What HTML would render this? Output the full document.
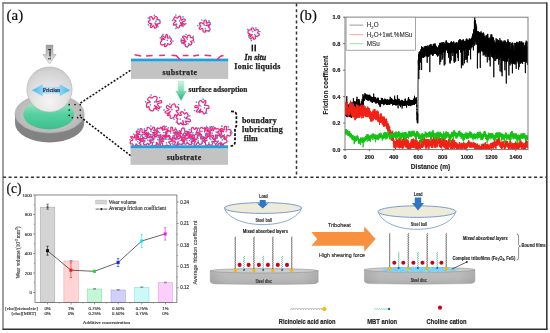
<!DOCTYPE html>
<html><head><meta charset="utf-8"><style>html,body{margin:0;padding:0;background:#fff;}svg{display:block;filter:blur(0.3px);}</style></head><body><svg width="550" height="333" viewBox="0 0 550 333"><rect x="0" y="0" width="550" height="333" fill="#fff"/>
<line x1="2.5" y1="3" x2="547" y2="3" stroke="#6a6a6a" stroke-width="1.3"/>
<line x1="3" y1="2.5" x2="3" y2="329.5" stroke="#777" stroke-width="1.4"/>
<line x1="546.8" y1="2.5" x2="546.8" y2="330" stroke="#3a3a3a" stroke-width="1.6"/>
<line x1="2.5" y1="329.2" x2="547.5" y2="329.2" stroke="#333" stroke-width="1.6"/>
<line x1="296.5" y1="3.6" x2="296.5" y2="175.5" stroke="#333" stroke-width="1.5" stroke-dasharray="3 2.6"/>
<line x1="3.0" y1="177.3" x2="546" y2="177.3" stroke="#333" stroke-width="1.5" stroke-dasharray="3 2.59"/>
<text x="6.6" y="19.6" font-family="'Liberation Serif', serif" font-size="15" font-weight="normal" fill="#111" text-anchor="start" font-style="normal" stroke="#111" stroke-width="0.2" textLength="16.6" lengthAdjust="spacingAndGlyphs" >(a)</text>
<path d="M155.0,23.0C154.9,23.3 156.7,26.0 156.7,26.9C156.6,27.7 155.3,28.3 154.8,28.1C154.2,27.9 154.0,25.7 153.5,25.7C152.9,25.6 152.0,27.6 151.4,27.7C150.9,27.8 150.1,27.0 150.2,26.4C150.3,25.8 152.1,24.5 151.9,24.0C151.8,23.5 150.1,24.0 149.5,23.5C148.9,23.0 148.4,21.8 148.4,21.3C148.5,20.7 149.7,20.9 149.9,20.2C150.1,19.5 149.5,17.8 149.8,17.2C150.1,16.7 151.1,16.5 151.7,16.9C152.3,17.2 152.7,19.6 153.4,19.5C154.0,19.5 154.8,16.8 155.5,16.5C156.2,16.3 157.3,17.6 157.5,18.1C157.7,18.5 156.5,19.0 156.8,19.3C157.0,19.6 158.6,19.5 159.2,20.1C159.7,20.7 160.4,22.4 160.1,23.0C159.8,23.7 158.0,23.6 157.5,24.0C157.1,24.4 157.9,25.6 157.4,25.4C157.0,25.2 155.2,22.8 155.0,23.0Z" fill="none" stroke="#f0287c" stroke-width="1.3" stroke-linejoin="round"/><circle cx="158.0" cy="26.7" r="0.85" fill="#22a8ea"/><circle cx="148.3" cy="24.8" r="0.85" fill="#22a8ea"/><circle cx="159.8" cy="20.1" r="0.85" fill="#22a8ea"/><circle cx="148.3" cy="18.1" r="0.85" fill="#22a8ea"/><circle cx="154.3" cy="15.3" r="0.85" fill="#22a8ea"/><circle cx="156.0" cy="21.2" r="0.85" fill="#22a8ea"/>
<path d="M180.5,22.7C180.7,22.6 182.2,24.9 182.9,25.1C183.7,25.4 185.1,24.8 185.0,24.4C184.8,23.9 181.8,23.0 181.9,22.3C181.9,21.7 184.8,21.1 185.2,20.6C185.5,20.0 184.5,18.9 183.8,18.9C183.1,18.8 181.4,20.5 180.9,20.2C180.4,19.9 181.0,17.7 180.7,17.0C180.4,16.3 179.5,16.1 178.9,16.3C178.4,16.5 178.0,18.0 177.4,18.1C176.7,18.2 175.5,16.6 174.9,16.8C174.3,17.1 173.6,18.9 173.8,19.6C174.0,20.3 176.0,20.6 176.0,21.1C176.0,21.7 174.4,22.2 174.0,22.9C173.6,23.5 173.3,25.0 173.6,25.2C173.9,25.5 175.1,24.1 175.6,24.3C176.1,24.6 176.1,26.4 176.6,26.9C177.2,27.5 178.3,28.0 178.9,27.8C179.4,27.5 179.4,25.8 179.9,25.4C180.4,25.1 181.8,26.2 181.9,25.7C181.9,25.3 180.3,22.8 180.5,22.7Z" fill="none" stroke="#f0287c" stroke-width="1.3" stroke-linejoin="round"/><circle cx="183.0" cy="26.5" r="0.85" fill="#22a8ea"/><circle cx="183.0" cy="16.9" r="0.85" fill="#22a8ea"/><circle cx="175.9" cy="28.4" r="0.85" fill="#22a8ea"/><circle cx="175.8" cy="15.0" r="0.85" fill="#22a8ea"/><circle cx="172.5" cy="20.4" r="0.85" fill="#22a8ea"/><circle cx="185.9" cy="23.5" r="0.85" fill="#22a8ea"/><circle cx="179.4" cy="20.9" r="0.85" fill="#22a8ea"/><circle cx="176.7" cy="24.2" r="0.85" fill="#22a8ea"/>
<path d="M205.9,25.6C206.0,25.4 209.4,24.8 210.0,24.1C210.6,23.5 210.0,22.1 209.4,21.9C208.8,21.7 206.9,23.4 206.4,23.2C205.9,22.9 206.7,20.9 206.3,20.5C206.0,20.0 204.7,19.9 204.3,20.5C203.9,21.0 204.1,23.5 203.7,23.8C203.3,24.2 202.5,22.8 201.8,22.8C201.0,22.7 199.6,23.0 199.4,23.7C199.3,24.3 200.8,25.9 200.7,26.5C200.7,27.2 199.3,27.0 199.2,27.5C199.0,28.0 199.5,29.1 200.1,29.3C200.7,29.4 202.2,28.2 202.7,28.6C203.2,29.0 202.7,31.1 203.2,31.7C203.6,32.2 205.2,32.0 205.6,31.8C206.0,31.6 205.0,30.5 205.4,30.4C205.9,30.3 207.7,31.2 208.5,31.0C209.3,30.8 210.1,29.9 210.1,29.2C210.1,28.5 208.7,27.5 208.6,26.8C208.5,26.2 210.0,25.6 209.5,25.4C209.1,25.2 205.8,25.8 205.9,25.6Z" fill="none" stroke="#f0287c" stroke-width="1.3" stroke-linejoin="round"/><circle cx="210.5" cy="24.2" r="0.85" fill="#22a8ea"/><circle cx="201.9" cy="20.0" r="0.85" fill="#22a8ea"/><circle cx="209.0" cy="31.5" r="0.85" fill="#22a8ea"/><circle cx="197.7" cy="25.6" r="0.85" fill="#22a8ea"/><circle cx="209.0" cy="20.8" r="0.85" fill="#22a8ea"/><circle cx="204.3" cy="24.9" r="0.85" fill="#22a8ea"/><circle cx="205.3" cy="28.6" r="0.85" fill="#22a8ea"/>
<path d="M165.0,39.4C165.0,39.1 162.1,38.2 161.7,37.5C161.3,36.9 162.0,35.5 162.6,35.6C163.2,35.6 164.7,37.9 165.3,37.8C165.8,37.6 165.6,35.0 166.0,34.6C166.3,34.2 167.3,34.8 167.6,35.3C167.8,35.9 167.0,37.5 167.5,38.0C168.0,38.4 169.7,37.6 170.3,37.9C170.9,38.2 171.3,39.0 171.4,39.6C171.4,40.2 170.5,41.0 170.6,41.5C170.6,42.0 171.7,42.2 171.6,42.7C171.4,43.2 170.3,44.5 169.7,44.6C169.0,44.7 168.2,43.4 167.7,43.6C167.2,43.8 167.3,45.3 166.7,45.8C166.2,46.3 164.9,46.7 164.5,46.5C164.2,46.2 165.2,44.5 164.7,44.3C164.3,44.1 162.4,45.3 161.7,45.0C161.0,44.7 160.4,43.3 160.4,42.6C160.4,41.9 161.8,41.3 161.9,40.7C162.1,40.2 160.9,39.5 161.4,39.2C161.9,39.0 164.9,39.7 165.0,39.4Z" fill="none" stroke="#f0287c" stroke-width="1.3" stroke-linejoin="round"/><circle cx="160.3" cy="37.8" r="0.85" fill="#22a8ea"/><circle cx="169.6" cy="36.4" r="0.85" fill="#22a8ea"/><circle cx="173.0" cy="41.1" r="0.85" fill="#22a8ea"/><circle cx="163.0" cy="34.4" r="0.85" fill="#22a8ea"/><circle cx="167.2" cy="40.3" r="0.85" fill="#22a8ea"/><circle cx="165.0" cy="43.5" r="0.85" fill="#22a8ea"/>
<path d="M186.0,41.1C185.8,40.9 183.0,42.6 182.2,42.4C181.4,42.3 180.7,40.7 181.2,40.3C181.7,39.9 184.8,40.8 185.0,40.2C185.3,39.7 182.7,37.6 182.6,36.9C182.6,36.2 184.0,35.9 184.7,36.1C185.4,36.3 186.4,38.0 186.9,38.0C187.4,38.0 187.2,36.4 187.7,36.0C188.2,35.5 189.4,35.0 189.9,35.3C190.4,35.6 190.0,37.3 190.5,37.6C191.0,38.0 192.3,37.1 192.8,37.5C193.2,38.0 193.7,39.7 193.4,40.4C193.0,41.0 191.0,41.1 190.7,41.5C190.5,41.9 192.0,42.3 192.0,42.9C191.9,43.5 191.0,45.0 190.5,45.2C190.1,45.4 189.8,44.1 189.3,44.3C188.8,44.6 188.2,46.4 187.5,46.6C186.8,46.9 185.5,46.2 185.2,45.8C184.8,45.4 185.6,44.7 185.3,44.3C185.0,43.9 183.3,44.0 183.5,43.5C183.6,43.0 186.2,41.3 186.0,41.1Z" fill="none" stroke="#f0287c" stroke-width="1.3" stroke-linejoin="round"/><circle cx="182.1" cy="43.5" r="0.85" fill="#22a8ea"/><circle cx="186.0" cy="34.5" r="0.85" fill="#22a8ea"/><circle cx="187.5" cy="46.7" r="0.85" fill="#22a8ea"/><circle cx="193.3" cy="36.3" r="0.85" fill="#22a8ea"/><circle cx="194.1" cy="42.0" r="0.85" fill="#22a8ea"/><circle cx="181.3" cy="39.1" r="0.85" fill="#22a8ea"/><circle cx="187.3" cy="39.1" r="0.85" fill="#22a8ea"/><circle cx="188.6" cy="43.6" r="0.85" fill="#22a8ea"/>
<path d="M252.2,34.6C252.4,34.9 250.2,36.4 250.0,37.1C249.7,37.8 250.1,39.0 250.6,38.9C251.1,38.9 252.4,36.9 252.9,36.9C253.3,37.0 253.1,38.9 253.5,39.1C253.9,39.4 255.1,39.1 255.4,38.5C255.7,37.9 255.0,36.1 255.3,35.7C255.6,35.4 256.4,36.6 257.1,36.3C257.8,36.1 259.4,34.9 259.5,34.4C259.6,33.8 257.9,33.7 257.7,33.0C257.5,32.4 258.6,31.1 258.5,30.5C258.3,29.9 257.6,29.3 257.0,29.3C256.3,29.3 255.0,30.7 254.5,30.5C253.9,30.3 254.0,28.5 253.5,28.2C253.0,27.8 251.7,28.1 251.3,28.4C251.0,28.6 251.8,29.5 251.4,29.8C251.0,30.1 249.3,29.7 248.8,30.3C248.2,30.8 247.9,32.3 248.1,32.9C248.2,33.5 249.7,33.6 249.9,34.0C250.0,34.4 248.4,35.3 248.8,35.4C249.1,35.5 252.0,34.3 252.2,34.6Z" fill="none" stroke="#f0287c" stroke-width="1.3" stroke-linejoin="round"/><circle cx="248.8" cy="36.8" r="0.85" fill="#22a8ea"/><circle cx="247.8" cy="29.4" r="0.85" fill="#22a8ea"/><circle cx="259.8" cy="31.5" r="0.85" fill="#22a8ea"/><circle cx="255.9" cy="27.9" r="0.85" fill="#22a8ea"/><circle cx="251.3" cy="40.4" r="0.85" fill="#22a8ea"/><circle cx="254.7" cy="34.5" r="0.85" fill="#22a8ea"/><circle cx="252.5" cy="31.4" r="0.85" fill="#22a8ea"/>
<path d="M154.6,105.4C154.9,105.3 158.0,108.3 158.8,108.6C159.6,109.0 159.9,108.2 159.6,107.4C159.4,106.7 157.2,104.8 157.5,104.0C157.8,103.2 160.9,103.2 161.4,102.6C162.0,102.0 161.7,100.8 160.8,100.7C159.9,100.6 156.5,102.5 155.9,102.0C155.3,101.5 157.5,98.8 157.2,97.8C156.9,96.9 155.3,96.3 154.4,96.4C153.5,96.5 152.6,98.1 151.9,98.2C151.1,98.3 150.4,96.8 149.7,97.0C149.0,97.2 147.6,98.5 147.7,99.4C147.7,100.3 150.4,101.6 150.3,102.2C150.2,102.8 147.7,102.2 147.1,103.0C146.5,103.8 146.4,106.5 146.7,107.1C147.0,107.8 148.6,106.3 149.0,106.7C149.4,107.1 148.7,108.8 149.4,109.5C150.0,110.1 152.2,111.0 153.0,110.8C153.8,110.6 153.7,108.6 154.4,108.4C155.0,108.1 156.9,109.8 157.0,109.4C157.0,108.9 154.3,105.6 154.6,105.4Z" fill="none" stroke="#f0287c" stroke-width="1.3" stroke-linejoin="round"/><circle cx="158.2" cy="110.6" r="0.85" fill="#22a8ea"/><circle cx="159.6" cy="97.5" r="0.85" fill="#22a8ea"/><circle cx="151.1" cy="95.0" r="0.85" fill="#22a8ea"/><circle cx="145.6" cy="101.7" r="0.85" fill="#22a8ea"/><circle cx="161.0" cy="106.8" r="0.85" fill="#22a8ea"/><circle cx="154.7" cy="101.8" r="0.85" fill="#22a8ea"/><circle cx="150.4" cy="104.8" r="0.85" fill="#22a8ea"/>
<path d="M170.5,111.5C170.5,111.2 168.2,113.5 167.3,113.5C166.3,113.5 164.7,112.3 165.0,111.7C165.3,111.1 169.0,110.4 169.3,109.8C169.5,109.2 166.7,108.8 166.4,108.1C166.1,107.3 166.8,105.3 167.5,105.3C168.3,105.3 170.4,108.0 171.0,108.0C171.7,108.0 170.8,106.2 171.4,105.6C172.0,104.9 173.9,103.7 174.6,104.0C175.4,104.2 175.2,106.6 175.8,107.1C176.3,107.6 177.3,106.4 177.8,106.8C178.3,107.3 178.9,109.3 178.7,110.0C178.4,110.6 176.2,110.2 176.1,110.7C176.0,111.3 178.0,112.5 178.1,113.3C178.3,114.2 177.4,115.5 177.0,115.7C176.5,115.9 175.8,114.4 175.2,114.7C174.6,115.0 174.4,117.1 173.6,117.6C172.8,118.2 170.9,118.5 170.3,118.0C169.7,117.6 170.6,115.4 170.1,115.0C169.6,114.5 167.3,115.9 167.4,115.4C167.4,114.8 170.6,111.8 170.5,111.5Z" fill="none" stroke="#f0287c" stroke-width="1.3" stroke-linejoin="round"/><circle cx="169.7" cy="104.0" r="0.85" fill="#22a8ea"/><circle cx="174.0" cy="119.1" r="0.85" fill="#22a8ea"/><circle cx="178.5" cy="104.5" r="0.85" fill="#22a8ea"/><circle cx="180.2" cy="112.5" r="0.85" fill="#22a8ea"/><circle cx="164.0" cy="109.9" r="0.85" fill="#22a8ea"/><circle cx="172.0" cy="109.7" r="0.85" fill="#22a8ea"/>
<path d="M182.8,120.5C182.9,120.4 183.4,123.7 184.0,124.3C184.7,124.9 186.5,124.5 186.7,124.0C186.9,123.5 184.8,121.6 185.3,121.2C185.8,120.9 189.1,122.1 189.9,121.8C190.6,121.4 190.7,120.0 190.0,119.4C189.4,118.8 186.0,118.9 185.7,118.3C185.4,117.8 188.1,117.0 188.2,116.0C188.3,115.1 187.0,113.0 186.4,112.7C185.8,112.3 185.2,114.1 184.5,114.0C183.9,113.8 183.1,111.9 182.4,111.7C181.8,111.5 180.7,112.0 180.5,112.7C180.3,113.3 181.6,115.1 181.2,115.4C180.7,115.8 178.5,114.4 177.7,114.8C176.9,115.2 176.2,117.1 176.2,117.7C176.2,118.4 177.6,118.4 177.8,118.9C177.9,119.5 176.8,120.2 177.0,121.1C177.2,122.0 178.3,124.1 178.9,124.4C179.6,124.7 180.0,122.9 180.7,123.0C181.4,123.1 182.9,125.2 183.2,124.8C183.6,124.4 182.7,120.6 182.8,120.5Z" fill="none" stroke="#f0287c" stroke-width="1.3" stroke-linejoin="round"/><circle cx="189.8" cy="115.8" r="0.85" fill="#22a8ea"/><circle cx="176.3" cy="122.3" r="0.85" fill="#22a8ea"/><circle cx="184.7" cy="109.8" r="0.85" fill="#22a8ea"/><circle cx="188.0" cy="123.8" r="0.85" fill="#22a8ea"/><circle cx="184.6" cy="117.4" r="0.85" fill="#22a8ea"/><circle cx="180.2" cy="119.1" r="0.85" fill="#22a8ea"/>
<path d="M200.9,109.0C200.7,108.9 199.5,111.3 198.8,111.7C198.0,112.2 196.4,112.2 196.3,111.5C196.3,110.9 198.8,108.7 198.6,108.0C198.4,107.3 195.5,108.0 195.0,107.6C194.5,107.2 194.9,105.9 195.6,105.7C196.3,105.4 198.6,106.5 199.1,105.9C199.7,105.4 198.4,103.5 198.7,102.6C199.0,101.6 200.1,100.3 200.8,100.3C201.5,100.3 202.2,102.5 202.9,102.6C203.6,102.6 204.6,100.4 205.1,100.4C205.6,100.4 206.0,101.7 205.9,102.5C205.7,103.3 204.1,104.5 204.5,105.0C204.9,105.5 207.6,105.1 208.4,105.7C209.1,106.2 209.1,107.8 208.8,108.3C208.5,108.8 207.0,108.1 206.5,108.7C206.1,109.3 206.5,111.2 206.1,112.0C205.7,112.9 204.7,114.0 204.1,113.9C203.4,113.8 202.9,111.6 202.1,111.3C201.4,111.1 199.8,113.0 199.6,112.6C199.4,112.2 201.0,109.1 200.9,109.0Z" fill="none" stroke="#f0287c" stroke-width="1.3" stroke-linejoin="round"/><circle cx="196.5" cy="102.2" r="0.85" fill="#22a8ea"/><circle cx="206.6" cy="113.1" r="0.85" fill="#22a8ea"/><circle cx="203.1" cy="99.2" r="0.85" fill="#22a8ea"/><circle cx="194.6" cy="110.5" r="0.85" fill="#22a8ea"/><circle cx="200.7" cy="106.0" r="0.85" fill="#22a8ea"/><circle cx="204.5" cy="107.8" r="0.85" fill="#22a8ea"/>
<path d="M136.0,139.7C135.9,139.7 137.6,136.9 137.4,136.1C137.3,135.3 135.5,134.6 135.0,134.9C134.4,135.3 134.7,137.8 134.2,138.0C133.6,138.2 132.5,136.5 131.9,136.4C131.3,136.3 130.5,136.6 130.7,137.2C130.8,137.8 132.9,139.4 132.9,140.0C133.0,140.7 131.3,140.4 130.9,141.0C130.5,141.6 130.1,143.1 130.4,143.6C130.7,144.2 132.2,143.6 132.7,144.0C133.2,144.5 132.9,145.7 133.4,146.2C133.8,146.6 134.9,147.2 135.3,146.9C135.7,146.5 135.6,144.1 136.1,143.9C136.5,143.8 137.4,146.1 138.2,146.2C139.0,146.3 140.8,144.8 141.0,144.3C141.1,143.8 139.0,143.7 139.2,143.1C139.3,142.6 141.3,141.7 141.7,141.0C142.0,140.3 141.8,139.3 141.4,138.9C140.9,138.5 139.3,139.0 138.7,138.5C138.2,138.1 138.8,135.9 138.3,136.1C137.9,136.3 136.2,139.8 136.0,139.7Z" fill="none" stroke="#f0287c" stroke-width="1.3" stroke-linejoin="round"/><circle cx="138.4" cy="134.6" r="0.85" fill="#22a8ea"/><circle cx="130.0" cy="139.8" r="0.85" fill="#22a8ea"/><circle cx="142.5" cy="141.2" r="0.85" fill="#22a8ea"/><circle cx="137.1" cy="146.9" r="0.85" fill="#22a8ea"/><circle cx="133.6" cy="134.0" r="0.85" fill="#22a8ea"/><circle cx="137.8" cy="141.5" r="0.85" fill="#22a8ea"/>
<path d="M147.3,137.7C147.6,137.8 148.2,134.6 148.8,134.1C149.3,133.6 150.5,134.2 150.7,134.7C150.8,135.3 149.4,137.2 149.6,137.6C149.9,138.0 151.8,136.6 152.3,136.9C152.8,137.3 153.2,139.0 152.6,139.6C152.1,140.1 149.3,139.7 149.0,140.2C148.7,140.6 150.9,141.5 150.8,142.2C150.8,143.0 149.4,144.3 148.9,144.5C148.3,144.7 148.0,143.4 147.5,143.4C147.0,143.5 146.4,144.8 145.8,144.9C145.1,144.9 143.7,144.4 143.5,143.7C143.3,143.0 144.9,141.0 144.5,140.5C144.2,140.1 142.2,141.3 141.5,141.1C140.8,140.8 140.0,139.4 140.2,138.9C140.5,138.5 142.7,139.0 143.0,138.4C143.2,137.7 141.6,135.8 141.8,135.1C142.0,134.3 143.5,133.9 144.0,133.8C144.6,133.8 144.6,134.9 145.2,134.8C145.8,134.8 147.2,133.3 147.5,133.8C147.9,134.2 147.1,137.6 147.3,137.7Z" fill="none" stroke="#f0287c" stroke-width="1.3" stroke-linejoin="round"/><circle cx="148.2" cy="132.3" r="0.85" fill="#22a8ea"/><circle cx="151.9" cy="142.0" r="0.85" fill="#22a8ea"/><circle cx="141.1" cy="135.2" r="0.85" fill="#22a8ea"/><circle cx="146.6" cy="146.5" r="0.85" fill="#22a8ea"/><circle cx="152.1" cy="134.7" r="0.85" fill="#22a8ea"/><circle cx="147.4" cy="140.0" r="0.85" fill="#22a8ea"/><circle cx="143.7" cy="138.1" r="0.85" fill="#22a8ea"/>
<path d="M156.4,142.4C156.8,142.3 158.8,144.9 159.5,145.3C160.2,145.7 160.6,145.4 160.6,144.9C160.5,144.3 158.9,142.5 159.1,142.0C159.3,141.4 161.5,141.9 161.9,141.5C162.3,141.0 162.0,139.7 161.5,139.4C161.0,139.2 159.2,140.5 158.9,140.2C158.6,139.9 159.8,138.5 159.6,137.6C159.4,136.7 158.2,134.9 157.6,134.8C157.1,134.7 156.7,137.0 156.1,137.0C155.5,137.1 154.8,134.9 154.1,134.9C153.5,135.0 152.3,136.5 152.2,137.3C152.2,138.1 154.1,139.2 153.9,139.7C153.7,140.2 151.6,139.9 151.0,140.3C150.4,140.8 150.3,141.8 150.5,142.2C150.7,142.6 151.9,142.2 152.3,142.7C152.6,143.2 152.1,144.4 152.3,145.1C152.6,145.8 153.4,146.9 153.9,146.9C154.4,146.9 154.7,145.2 155.3,145.0C155.8,144.8 157.0,146.2 157.2,145.7C157.3,145.3 156.0,142.5 156.4,142.4Z" fill="none" stroke="#f0287c" stroke-width="1.3" stroke-linejoin="round"/><circle cx="158.9" cy="147.3" r="0.85" fill="#22a8ea"/><circle cx="151.7" cy="145.8" r="0.85" fill="#22a8ea"/><circle cx="154.8" cy="134.2" r="0.85" fill="#22a8ea"/><circle cx="150.9" cy="137.6" r="0.85" fill="#22a8ea"/><circle cx="157.7" cy="139.4" r="0.85" fill="#22a8ea"/><circle cx="153.7" cy="142.1" r="0.85" fill="#22a8ea"/>
<path d="M164.1,141.0C164.0,140.8 161.4,141.6 160.7,141.3C160.1,140.9 159.7,139.3 160.2,138.9C160.7,138.6 163.5,139.6 163.7,139.2C164.0,138.8 161.7,137.3 161.8,136.6C161.9,135.9 163.6,134.9 164.1,135.2C164.7,135.5 164.8,138.2 165.2,138.3C165.7,138.5 166.1,136.4 166.9,136.0C167.7,135.6 169.5,135.6 169.9,136.0C170.4,136.4 169.2,137.9 169.5,138.3C169.8,138.8 171.4,138.4 171.7,138.8C172.1,139.3 172.2,140.7 171.6,141.2C171.1,141.8 168.8,141.5 168.6,142.0C168.4,142.6 170.5,143.8 170.5,144.4C170.5,145.1 169.3,146.1 168.7,146.1C168.1,146.2 167.3,144.7 166.7,144.8C166.1,144.8 165.7,146.1 165.0,146.3C164.4,146.5 163.3,146.3 162.8,145.8C162.4,145.3 162.7,144.1 162.4,143.5C162.1,143.0 160.6,143.0 160.9,142.6C161.1,142.2 164.1,141.2 164.1,141.0Z" fill="none" stroke="#f0287c" stroke-width="1.3" stroke-linejoin="round"/><circle cx="160.0" cy="141.6" r="0.85" fill="#22a8ea"/><circle cx="166.0" cy="134.6" r="0.85" fill="#22a8ea"/><circle cx="164.5" cy="147.8" r="0.85" fill="#22a8ea"/><circle cx="172.8" cy="137.2" r="0.85" fill="#22a8ea"/><circle cx="172.2" cy="143.6" r="0.85" fill="#22a8ea"/><circle cx="160.3" cy="138.1" r="0.85" fill="#22a8ea"/><circle cx="166.1" cy="139.2" r="0.85" fill="#22a8ea"/><circle cx="166.5" cy="142.8" r="0.85" fill="#22a8ea"/>
<path d="M178.1,141.5C177.9,141.5 177.1,144.7 176.5,145.2C176.0,145.7 174.8,145.1 174.6,144.5C174.4,143.9 175.8,142.2 175.5,141.8C175.2,141.3 173.2,142.1 172.7,141.9C172.1,141.7 171.7,140.9 172.2,140.5C172.6,140.2 175.2,140.2 175.5,139.6C175.8,139.0 174.0,138.0 173.9,137.2C173.9,136.3 174.6,134.8 175.1,134.5C175.6,134.2 176.5,135.4 177.0,135.3C177.5,135.1 177.6,133.4 178.2,133.4C178.8,133.4 180.2,134.5 180.4,135.1C180.7,135.8 179.3,137.0 179.7,137.3C180.1,137.6 182.3,136.6 183.0,136.9C183.8,137.3 184.4,138.7 184.3,139.2C184.1,139.7 182.3,139.4 182.1,140.0C181.9,140.5 183.3,141.5 183.2,142.3C183.2,143.0 182.5,144.3 181.9,144.6C181.3,144.8 180.4,143.7 179.7,143.8C179.0,143.9 178.2,145.5 177.9,145.1C177.7,144.7 178.3,141.5 178.1,141.5Z" fill="none" stroke="#f0287c" stroke-width="1.3" stroke-linejoin="round"/><circle cx="177.4" cy="145.4" r="0.85" fill="#22a8ea"/><circle cx="172.1" cy="138.3" r="0.85" fill="#22a8ea"/><circle cx="184.0" cy="142.9" r="0.85" fill="#22a8ea"/><circle cx="177.3" cy="132.8" r="0.85" fill="#22a8ea"/><circle cx="183.1" cy="135.0" r="0.85" fill="#22a8ea"/><circle cx="173.3" cy="144.4" r="0.85" fill="#22a8ea"/><circle cx="176.8" cy="139.5" r="0.85" fill="#22a8ea"/>
<path d="M188.8,137.8C188.5,137.5 189.7,134.9 189.7,134.1C189.7,133.2 189.2,132.6 188.8,132.9C188.4,133.1 188.0,135.6 187.4,135.6C186.8,135.7 185.8,133.4 185.1,133.2C184.3,133.0 183.0,133.8 183.1,134.4C183.2,135.1 185.7,136.4 185.6,137.0C185.5,137.6 183.2,137.4 182.6,138.0C182.0,138.7 181.6,140.2 181.9,140.7C182.2,141.3 184.1,140.8 184.4,141.2C184.7,141.7 183.4,143.0 183.7,143.5C184.0,143.9 185.8,144.1 186.4,143.9C187.0,143.6 186.8,142.0 187.2,142.0C187.5,142.1 188.0,143.8 188.8,144.1C189.5,144.4 191.4,144.4 191.8,144.0C192.1,143.6 190.9,142.0 191.1,141.5C191.3,141.0 192.5,141.7 192.8,141.1C193.1,140.5 193.4,138.5 193.1,137.9C192.8,137.3 191.2,137.8 190.9,137.4C190.6,137.0 191.6,135.5 191.3,135.6C190.9,135.7 189.1,138.1 188.8,137.8Z" fill="none" stroke="#f0287c" stroke-width="1.3" stroke-linejoin="round"/><circle cx="191.9" cy="134.4" r="0.85" fill="#22a8ea"/><circle cx="181.7" cy="136.7" r="0.85" fill="#22a8ea"/><circle cx="194.3" cy="140.8" r="0.85" fill="#22a8ea"/><circle cx="182.1" cy="143.6" r="0.85" fill="#22a8ea"/><circle cx="187.3" cy="132.2" r="0.85" fill="#22a8ea"/><circle cx="186.2" cy="139.0" r="0.85" fill="#22a8ea"/><circle cx="189.4" cy="140.5" r="0.85" fill="#22a8ea"/>
<path d="M196.7,139.4C196.6,139.6 192.9,139.7 192.3,140.0C191.6,140.4 192.1,141.2 192.6,141.3C193.2,141.5 195.3,140.5 195.6,141.0C195.8,141.6 194.0,143.8 194.0,144.4C194.0,145.1 194.9,145.6 195.6,145.2C196.3,144.8 197.5,142.4 198.1,142.2C198.7,142.1 198.6,144.0 199.3,144.2C199.9,144.4 201.7,143.8 202.2,143.3C202.7,142.8 201.8,141.6 202.1,141.2C202.4,140.8 203.6,141.3 203.9,140.8C204.2,140.4 204.3,138.6 203.7,138.3C203.2,138.0 200.9,139.4 200.6,138.9C200.3,138.4 201.9,136.3 201.7,135.4C201.6,134.6 200.2,133.7 199.6,133.7C199.0,133.7 198.6,135.5 198.1,135.6C197.5,135.6 197.1,133.8 196.5,133.8C195.9,133.8 194.7,134.9 194.4,135.5C194.0,136.0 194.6,136.6 194.3,137.2C194.0,137.7 192.4,138.3 192.8,138.6C193.2,139.0 196.8,139.2 196.7,139.4Z" fill="none" stroke="#f0287c" stroke-width="1.3" stroke-linejoin="round"/><circle cx="191.6" cy="138.9" r="0.85" fill="#22a8ea"/><circle cx="198.4" cy="145.6" r="0.85" fill="#22a8ea"/><circle cx="196.0" cy="132.9" r="0.85" fill="#22a8ea"/><circle cx="204.7" cy="142.2" r="0.85" fill="#22a8ea"/><circle cx="203.8" cy="136.5" r="0.85" fill="#22a8ea"/><circle cx="192.7" cy="143.1" r="0.85" fill="#22a8ea"/><circle cx="198.2" cy="140.9" r="0.85" fill="#22a8ea"/><circle cx="197.7" cy="136.9" r="0.85" fill="#22a8ea"/>
<path d="M207.2,140.2C207.0,139.9 203.7,140.0 203.1,139.6C202.5,139.2 203.1,138.2 203.7,138.0C204.2,137.8 206.3,138.7 206.6,138.2C207.0,137.7 205.5,135.7 205.6,135.0C205.6,134.3 206.5,133.8 207.0,134.1C207.5,134.4 208.2,136.5 208.7,136.7C209.3,136.9 209.5,135.4 210.4,135.3C211.2,135.2 213.2,135.4 213.6,135.9C214.0,136.5 212.5,137.9 212.7,138.5C213.0,139.1 214.9,139.1 215.2,139.6C215.5,140.2 214.9,141.3 214.4,141.6C213.9,141.9 212.3,141.0 212.0,141.4C211.7,141.8 212.8,143.3 212.5,143.9C212.3,144.6 211.3,145.4 210.7,145.4C210.2,145.4 209.8,143.9 209.1,143.9C208.5,144.0 207.7,145.6 207.1,145.7C206.5,145.7 205.9,145.0 205.6,144.4C205.3,143.8 205.6,142.7 205.3,142.2C205.0,141.7 203.6,141.7 203.9,141.4C204.2,141.1 207.3,140.5 207.2,140.2Z" fill="none" stroke="#f0287c" stroke-width="1.3" stroke-linejoin="round"/><circle cx="202.6" cy="140.4" r="0.85" fill="#22a8ea"/><circle cx="209.8" cy="134.3" r="0.85" fill="#22a8ea"/><circle cx="215.8" cy="136.7" r="0.85" fill="#22a8ea"/><circle cx="214.9" cy="143.5" r="0.85" fill="#22a8ea"/><circle cx="202.7" cy="136.8" r="0.85" fill="#22a8ea"/><circle cx="209.8" cy="138.4" r="0.85" fill="#22a8ea"/><circle cx="208.9" cy="142.6" r="0.85" fill="#22a8ea"/>
<path d="M220.8,142.1C220.7,142.3 222.1,145.3 222.1,146.1C222.1,146.8 221.3,147.3 220.9,146.8C220.5,146.3 220.4,143.4 219.7,143.2C219.1,143.0 217.5,145.4 216.8,145.6C216.1,145.9 215.4,145.3 215.6,144.6C215.8,144.0 218.0,142.3 217.9,141.7C217.9,141.1 215.5,141.7 215.1,141.1C214.6,140.6 214.9,138.7 215.2,138.2C215.5,137.7 216.8,138.6 217.1,138.1C217.5,137.6 216.9,135.5 217.3,135.1C217.7,134.7 218.7,135.2 219.3,135.6C220.0,135.9 220.5,137.4 221.0,137.4C221.6,137.4 222.1,135.4 222.8,135.4C223.5,135.4 225.0,136.7 225.2,137.3C225.4,137.9 223.8,138.3 224.0,138.8C224.3,139.2 226.1,139.6 226.5,140.2C226.9,140.8 227.1,141.8 226.7,142.4C226.3,142.9 224.5,142.9 224.0,143.3C223.4,143.8 223.7,145.3 223.1,145.1C222.6,144.9 221.0,142.0 220.8,142.1Z" fill="none" stroke="#f0287c" stroke-width="1.3" stroke-linejoin="round"/><circle cx="223.3" cy="146.5" r="0.85" fill="#22a8ea"/><circle cx="214.0" cy="142.6" r="0.85" fill="#22a8ea"/><circle cx="215.7" cy="135.5" r="0.85" fill="#22a8ea"/><circle cx="221.4" cy="134.7" r="0.85" fill="#22a8ea"/><circle cx="219.2" cy="147.8" r="0.85" fill="#22a8ea"/><circle cx="218.3" cy="141.1" r="0.85" fill="#22a8ea"/><circle cx="222.4" cy="139.8" r="0.85" fill="#22a8ea"/>
<path d="M140.1,134.2C140.1,134.0 137.0,133.3 136.5,132.7C136.0,132.1 136.4,130.9 136.9,130.8C137.4,130.7 139.0,132.6 139.6,132.3C140.1,131.9 139.9,129.2 140.3,128.8C140.7,128.3 141.7,128.8 142.0,129.4C142.4,130.0 141.8,132.1 142.2,132.5C142.7,132.9 144.0,131.7 144.8,131.8C145.6,131.9 146.8,132.5 147.0,133.0C147.2,133.6 146.0,134.5 146.0,135.2C146.0,135.9 147.3,136.6 147.2,137.2C147.1,137.8 145.9,138.7 145.2,138.8C144.6,138.8 143.5,137.3 143.2,137.6C142.8,137.9 143.6,140.1 143.0,140.6C142.5,141.1 140.4,140.9 139.9,140.7C139.3,140.4 140.1,139.5 139.6,139.3C139.1,139.1 137.7,139.5 137.1,139.2C136.4,138.8 135.5,137.9 135.5,137.3C135.6,136.6 137.3,135.8 137.5,135.2C137.7,134.7 136.1,134.2 136.5,134.0C137.0,133.8 140.1,134.5 140.1,134.2Z" fill="none" stroke="#f0287c" stroke-width="1.3" stroke-linejoin="round"/><circle cx="144.6" cy="130.2" r="0.85" fill="#22a8ea"/><circle cx="136.2" cy="140.0" r="0.85" fill="#22a8ea"/><circle cx="145.0" cy="141.0" r="0.85" fill="#22a8ea"/><circle cx="138.1" cy="129.2" r="0.85" fill="#22a8ea"/><circle cx="140.3" cy="136.9" r="0.85" fill="#22a8ea"/>
<path d="M152.3,132.7C152.4,132.3 155.9,132.4 156.5,132.1C157.2,131.7 156.6,130.8 156.2,130.6C155.7,130.4 154.1,131.2 153.9,130.8C153.6,130.3 154.7,128.6 154.6,128.0C154.5,127.4 153.8,126.8 153.2,127.2C152.6,127.5 151.7,130.0 151.1,130.1C150.5,130.3 150.2,128.4 149.6,128.0C148.9,127.6 147.6,127.4 147.2,127.7C146.8,128.1 147.3,129.6 146.9,130.1C146.5,130.7 145.0,130.4 144.7,130.9C144.4,131.5 144.4,133.0 145.0,133.5C145.7,133.9 148.3,133.1 148.7,133.6C149.0,134.1 147.2,135.9 147.2,136.6C147.3,137.2 148.5,137.7 149.0,137.6C149.5,137.5 149.7,136.0 150.3,136.1C150.9,136.3 152.0,138.1 152.8,138.3C153.5,138.5 154.8,138.0 155.0,137.4C155.2,136.9 153.7,135.7 153.9,135.2C154.0,134.7 156.1,134.8 155.9,134.4C155.6,133.9 152.2,133.1 152.3,132.7Z" fill="none" stroke="#f0287c" stroke-width="1.3" stroke-linejoin="round"/><circle cx="157.4" cy="132.8" r="0.85" fill="#22a8ea"/><circle cx="150.9" cy="126.0" r="0.85" fill="#22a8ea"/><circle cx="152.0" cy="139.0" r="0.85" fill="#22a8ea"/><circle cx="144.4" cy="128.9" r="0.85" fill="#22a8ea"/><circle cx="145.2" cy="136.2" r="0.85" fill="#22a8ea"/><circle cx="157.1" cy="129.0" r="0.85" fill="#22a8ea"/><circle cx="150.9" cy="131.3" r="0.85" fill="#22a8ea"/><circle cx="150.5" cy="135.3" r="0.85" fill="#22a8ea"/>
<path d="M162.8,130.5C163.1,130.3 162.2,127.1 162.6,126.5C163.0,125.8 165.0,126.1 165.2,126.7C165.4,127.3 163.7,129.5 164.0,129.9C164.3,130.2 166.2,128.7 166.9,128.9C167.6,129.2 168.5,130.8 168.2,131.4C167.9,131.9 165.6,131.8 165.3,132.3C165.0,132.8 166.1,133.3 166.3,134.1C166.4,134.9 166.6,136.8 166.2,137.1C165.8,137.4 164.3,135.6 163.6,135.8C163.0,136.0 162.8,138.1 162.3,138.3C161.8,138.4 160.8,137.4 160.5,136.8C160.3,136.2 161.2,134.9 160.7,134.7C160.3,134.5 158.5,135.7 157.8,135.5C157.1,135.4 156.4,134.2 156.5,133.6C156.6,133.0 158.3,132.5 158.4,131.9C158.5,131.4 157.2,130.8 157.1,130.1C156.9,129.4 157.1,128.0 157.5,127.8C158.0,127.6 159.1,128.8 159.6,128.7C160.2,128.6 160.5,126.9 161.0,127.2C161.5,127.5 162.5,130.6 162.8,130.5Z" fill="none" stroke="#f0287c" stroke-width="1.3" stroke-linejoin="round"/><circle cx="155.6" cy="129.7" r="0.85" fill="#22a8ea"/><circle cx="164.9" cy="138.9" r="0.85" fill="#22a8ea"/><circle cx="158.2" cy="137.2" r="0.85" fill="#22a8ea"/><circle cx="166.3" cy="126.5" r="0.85" fill="#22a8ea"/><circle cx="163.9" cy="132.5" r="0.85" fill="#22a8ea"/><circle cx="159.6" cy="132.5" r="0.85" fill="#22a8ea"/>
<path d="M173.2,133.2C173.1,133.0 175.7,132.0 176.1,131.3C176.5,130.6 176.3,128.8 175.8,128.8C175.3,128.7 173.8,131.3 173.2,131.1C172.7,130.9 172.8,128.3 172.5,127.7C172.1,127.0 171.1,126.9 170.8,127.5C170.5,128.1 171.3,130.8 170.8,131.3C170.2,131.7 168.4,130.1 167.6,130.3C166.9,130.4 166.2,131.7 166.1,132.2C166.0,132.7 167.2,132.7 167.1,133.2C166.9,133.8 165.1,134.9 165.2,135.5C165.3,136.1 167.2,136.9 167.9,136.9C168.7,137.0 169.4,135.7 169.7,136.0C170.1,136.4 169.4,138.8 169.9,139.3C170.4,139.8 172.1,139.3 172.6,139.0C173.0,138.7 172.1,137.5 172.6,137.4C173.1,137.3 174.8,138.5 175.5,138.3C176.1,138.1 176.7,136.8 176.7,136.1C176.6,135.3 175.2,134.4 175.2,133.8C175.3,133.2 177.4,132.4 177.0,132.3C176.7,132.2 173.4,133.3 173.2,133.2Z" fill="none" stroke="#f0287c" stroke-width="1.3" stroke-linejoin="round"/><circle cx="177.5" cy="131.6" r="0.85" fill="#22a8ea"/><circle cx="168.3" cy="127.8" r="0.85" fill="#22a8ea"/><circle cx="176.5" cy="138.0" r="0.85" fill="#22a8ea"/><circle cx="168.2" cy="139.1" r="0.85" fill="#22a8ea"/><circle cx="175.4" cy="128.0" r="0.85" fill="#22a8ea"/><circle cx="170.6" cy="132.8" r="0.85" fill="#22a8ea"/><circle cx="173.2" cy="135.7" r="0.85" fill="#22a8ea"/>
<path d="M181.8,133.9C181.7,134.1 179.1,132.4 178.2,132.4C177.4,132.4 176.7,133.2 176.9,133.8C177.2,134.3 179.5,135.1 179.5,135.6C179.5,136.2 177.1,136.5 176.9,137.0C176.7,137.6 177.5,139.0 178.3,139.0C179.1,138.9 181.2,136.5 181.7,136.7C182.3,136.9 181.2,139.2 181.7,139.9C182.1,140.6 183.8,141.1 184.5,140.8C185.1,140.6 185.2,138.7 185.7,138.3C186.2,137.9 187.0,138.9 187.4,138.6C187.8,138.2 188.3,136.5 188.0,135.9C187.6,135.3 185.3,135.6 185.4,135.0C185.5,134.5 188.1,133.2 188.4,132.6C188.6,132.0 187.5,131.3 186.9,131.2C186.4,131.0 185.7,132.1 185.3,131.7C184.8,131.3 184.8,129.3 184.2,128.7C183.7,128.2 182.5,127.9 181.9,128.4C181.4,128.9 181.3,131.2 180.9,131.6C180.4,132.0 179.2,130.3 179.3,130.7C179.5,131.0 182.0,133.6 181.8,133.9Z" fill="none" stroke="#f0287c" stroke-width="1.3" stroke-linejoin="round"/><circle cx="177.6" cy="131.3" r="0.85" fill="#22a8ea"/><circle cx="180.2" cy="140.5" r="0.85" fill="#22a8ea"/><circle cx="184.4" cy="128.4" r="0.85" fill="#22a8ea"/><circle cx="186.8" cy="140.3" r="0.85" fill="#22a8ea"/><circle cx="190.0" cy="134.2" r="0.85" fill="#22a8ea"/><circle cx="176.0" cy="134.3" r="0.85" fill="#22a8ea"/><circle cx="182.5" cy="135.7" r="0.85" fill="#22a8ea"/><circle cx="184.7" cy="132.1" r="0.85" fill="#22a8ea"/>
<path d="M193.2,134.7C192.9,134.6 191.0,138.0 190.2,138.4C189.4,138.7 188.5,137.4 188.6,136.8C188.7,136.2 191.0,135.2 190.8,134.7C190.6,134.3 188.0,134.5 187.5,134.0C187.0,133.5 187.1,132.1 187.8,131.8C188.4,131.5 190.9,132.7 191.5,132.3C192.1,131.9 191.0,130.2 191.2,129.3C191.4,128.5 192.3,127.3 192.8,127.4C193.4,127.4 193.9,129.5 194.5,129.6C195.0,129.6 195.7,127.7 196.2,127.7C196.7,127.8 197.3,129.0 197.4,129.8C197.4,130.6 196.2,132.0 196.6,132.6C197.0,133.1 199.2,132.7 199.7,133.2C200.2,133.7 199.8,135.2 199.5,135.7C199.2,136.1 198.1,135.3 197.7,135.7C197.3,136.2 197.4,137.7 197.0,138.4C196.6,139.0 195.6,139.8 195.1,139.6C194.6,139.5 194.5,137.8 194.0,137.6C193.5,137.5 192.1,139.2 192.0,138.7C191.8,138.2 193.5,134.7 193.2,134.7Z" fill="none" stroke="#f0287c" stroke-width="1.3" stroke-linejoin="round"/><circle cx="190.9" cy="139.2" r="0.85" fill="#22a8ea"/><circle cx="189.2" cy="129.7" r="0.85" fill="#22a8ea"/><circle cx="198.0" cy="138.5" r="0.85" fill="#22a8ea"/><circle cx="192.9" cy="132.8" r="0.85" fill="#22a8ea"/>
<path d="M204.4,131.9C204.6,132.0 205.8,128.6 206.4,128.0C207.0,127.4 208.1,127.8 208.2,128.3C208.2,128.9 206.3,130.6 206.6,131.1C207.0,131.6 209.6,130.8 210.1,131.3C210.6,131.8 210.3,133.8 209.7,134.1C209.1,134.4 206.9,132.6 206.6,133.0C206.2,133.4 207.7,135.7 207.6,136.6C207.6,137.4 207.0,138.0 206.4,138.2C205.8,138.3 204.8,137.3 204.1,137.4C203.3,137.4 202.5,138.7 201.9,138.6C201.4,138.4 200.9,137.1 200.8,136.4C200.7,135.8 201.6,135.0 201.3,134.6C201.0,134.3 199.4,134.7 198.9,134.3C198.4,134.0 197.9,132.9 198.1,132.4C198.4,132.0 199.9,132.3 200.2,131.8C200.4,131.3 199.3,130.1 199.6,129.4C199.8,128.7 201.0,127.6 201.6,127.4C202.3,127.3 202.7,128.4 203.3,128.5C203.9,128.5 204.9,127.2 205.1,127.8C205.2,128.3 204.2,131.9 204.4,131.9Z" fill="none" stroke="#f0287c" stroke-width="1.3" stroke-linejoin="round"/><circle cx="206.5" cy="126.4" r="0.85" fill="#22a8ea"/><circle cx="198.5" cy="128.2" r="0.85" fill="#22a8ea"/><circle cx="203.5" cy="139.8" r="0.85" fill="#22a8ea"/><circle cx="198.8" cy="135.7" r="0.85" fill="#22a8ea"/><circle cx="209.8" cy="128.7" r="0.85" fill="#22a8ea"/><circle cx="205.5" cy="133.7" r="0.85" fill="#22a8ea"/><circle cx="202.0" cy="131.4" r="0.85" fill="#22a8ea"/>
<path d="M213.2,131.0C212.8,131.0 212.9,127.7 212.4,127.1C212.0,126.5 210.6,126.8 210.4,127.3C210.3,127.8 212.0,129.8 211.6,130.2C211.2,130.6 208.4,129.6 207.8,129.8C207.3,130.0 207.8,131.0 208.2,131.5C208.7,132.1 210.6,132.6 210.7,133.1C210.9,133.6 209.1,134.1 208.9,134.8C208.7,135.4 209.3,136.6 209.7,136.9C210.2,137.3 211.0,136.4 211.6,136.7C212.2,137.1 212.7,138.9 213.4,139.0C214.1,139.1 215.4,138.0 215.8,137.3C216.2,136.6 215.2,135.2 215.6,134.9C216.1,134.6 217.9,135.9 218.5,135.6C219.1,135.3 219.4,133.7 219.1,133.1C218.9,132.6 217.1,132.9 217.1,132.4C217.2,132.0 219.3,131.0 219.4,130.4C219.5,129.7 218.2,128.8 217.6,128.6C217.0,128.4 216.2,129.2 215.7,129.0C215.3,128.8 215.1,127.1 214.7,127.4C214.3,127.7 213.6,131.1 213.2,131.0Z" fill="none" stroke="#f0287c" stroke-width="1.3" stroke-linejoin="round"/><circle cx="213.3" cy="126.7" r="0.85" fill="#22a8ea"/><circle cx="207.4" cy="133.6" r="0.85" fill="#22a8ea"/><circle cx="219.8" cy="129.6" r="0.85" fill="#22a8ea"/><circle cx="210.7" cy="139.4" r="0.85" fill="#22a8ea"/><circle cx="217.2" cy="137.6" r="0.85" fill="#22a8ea"/><circle cx="209.9" cy="127.0" r="0.85" fill="#22a8ea"/><circle cx="212.1" cy="133.1" r="0.85" fill="#22a8ea"/><circle cx="216.2" cy="132.0" r="0.85" fill="#22a8ea"/>
<path d="M223.7,131.8C223.8,131.5 220.9,130.0 220.5,129.5C220.2,128.9 221.1,128.3 221.7,128.4C222.3,128.5 223.7,130.4 224.2,130.1C224.6,129.9 223.9,127.6 224.3,127.0C224.7,126.5 226.3,126.1 226.6,126.6C227.0,127.1 226.0,129.7 226.3,130.1C226.7,130.6 228.2,129.2 229.0,129.3C229.8,129.4 231.1,130.3 231.3,130.9C231.5,131.4 230.3,132.3 230.3,132.8C230.3,133.4 231.2,133.7 231.1,134.2C231.0,134.8 230.1,135.9 229.4,136.0C228.8,136.2 227.7,134.8 227.2,135.1C226.8,135.5 227.1,137.6 226.5,138.2C226.0,138.8 224.6,139.0 224.2,138.7C223.8,138.5 224.5,137.1 224.0,136.8C223.6,136.5 222.3,137.1 221.7,136.7C221.0,136.2 220.0,134.9 220.0,134.4C220.0,133.8 221.6,133.7 221.7,133.2C221.7,132.6 219.8,131.2 220.1,131.0C220.4,130.7 223.6,132.1 223.7,131.8Z" fill="none" stroke="#f0287c" stroke-width="1.3" stroke-linejoin="round"/><circle cx="228.4" cy="126.8" r="0.85" fill="#22a8ea"/><circle cx="221.1" cy="137.9" r="0.85" fill="#22a8ea"/><circle cx="231.9" cy="132.7" r="0.85" fill="#22a8ea"/><circle cx="221.9" cy="126.2" r="0.85" fill="#22a8ea"/><circle cx="226.1" cy="131.6" r="0.85" fill="#22a8ea"/><circle cx="224.3" cy="134.8" r="0.85" fill="#22a8ea"/>
<rect x="131" y="61.3" width="97.2" height="17.6" fill="#c3c3c3"/>
<rect x="131" y="58.6" width="97.2" height="2.8" fill="#1d9fe0"/>
<rect x="130.5" y="148.3" width="97.5" height="16.5" fill="#c3c3c3"/>
<rect x="130.5" y="145.3" width="97.5" height="3" fill="#1d9fe0"/>
<text x="162.5" y="74.5" font-family="'Liberation Serif', serif" font-size="8" font-weight="bold" fill="#2a2a2a" text-anchor="start" font-style="normal" stroke="#2a2a2a" stroke-width="0.25" textLength="34.5" lengthAdjust="spacing" >substrate</text>
<text x="166.8" y="159.6" font-family="'Liberation Serif', serif" font-size="8" font-weight="bold" fill="#2a2a2a" text-anchor="start" font-style="normal" stroke="#2a2a2a" stroke-width="0.25" textLength="34.4" lengthAdjust="spacing" >substrate</text>
<path d="M134.6,54.8 L141.2,55.9 M146,56 L152.6,55.5 M159.2,55.6 L164.9,55.2 M171.5,55.3 L176.5,55.8 L180,59.8 M182.8,55.6 L188.5,55.6 M193.2,56 L198.9,55 M204.6,55.3 L211.2,55.8 M217.2,59.8 L220.5,56.2 L223.5,55.5" stroke="#ee2a7f" stroke-width="1.5" fill="none"/>
<rect x="251.5" y="44.6" width="1.6" height="6.8" fill="#222"/><rect x="254.4" y="44.6" width="1.6" height="6.8" fill="#222"/>
<text x="244.5" y="60.4" font-family="'Liberation Serif', serif" font-size="8" font-weight="bold" fill="#222" text-anchor="start" font-style="italic" stroke="#222" stroke-width="0.3" textLength="21.8" lengthAdjust="spacingAndGlyphs" >In situ</text>
<text x="234.2" y="69.2" font-family="'Liberation Serif', serif" font-size="8" font-weight="bold" fill="#222" text-anchor="start" font-style="normal" stroke="#222" stroke-width="0.25" textLength="46.2" lengthAdjust="spacing" >Ionic liquids</text>
<defs><linearGradient id="ga" x1="0" y1="0" x2="0" y2="1"><stop offset="0" stop-color="#d4f3e6"/><stop offset="0.5" stop-color="#7fd9b2"/><stop offset="1" stop-color="#14b676"/></linearGradient><radialGradient id="ball" cx="0.5" cy="0.7" r="0.72" fx="0.5" fy="0.78"><stop offset="0" stop-color="#f5f5f5"/><stop offset="0.45" stop-color="#e5e5e5"/><stop offset="0.85" stop-color="#d3d3d3"/><stop offset="1" stop-color="#c4c4c4"/></radialGradient><radialGradient id="disc" cx="0.5" cy="0.5" r="0.55"><stop offset="0" stop-color="#d8d8d8"/><stop offset="1" stop-color="#b5b5b5"/></radialGradient><linearGradient id="trk" x1="0" y1="0" x2="0" y2="1"><stop offset="0" stop-color="#a6ead0"/><stop offset="0.5" stop-color="#56d0a0"/><stop offset="1" stop-color="#3cc08c"/></linearGradient><linearGradient id="ld" x1="0" y1="0" x2="0" y2="1"><stop offset="0" stop-color="#9a9a9a"/><stop offset="1" stop-color="#f4f4f4"/></linearGradient><linearGradient id="sd" x1="0" y1="0" x2="0" y2="1"><stop offset="0" stop-color="#d6d6d6"/><stop offset="1" stop-color="#bcbcbc"/></linearGradient><clipPath id="cpb"><rect x="345" y="17.2" width="183" height="132.4"/></clipPath></defs>
<path d="M178.1,81 H183.8 V91.1 H186.5 L181.1,100.8 L175.7,91.1 H178.1 Z" fill="url(#ga)" stroke="#9fe0c6" stroke-width="0.4"/>
<text x="188.6" y="92.4" font-family="'Liberation Serif', serif" font-size="7.4" font-weight="bold" fill="#222" text-anchor="start" font-style="normal" stroke="#222" stroke-width="0.22" textLength="58.8" lengthAdjust="spacing" >surface adsorption</text>
<path d="M231,111.3 Q236.4,111.3 236.4,115 V125.5 L235,129 V142 Q235,145.8 230.6,146" fill="none" stroke="#111" stroke-width="1.75" stroke-dasharray="2.7 1.6"/>
<text x="241.9" y="123" font-family="'Liberation Serif', serif" font-size="8" font-weight="bold" fill="#222" text-anchor="start" font-style="normal" stroke="#222" stroke-width="0.25" textLength="34.9" lengthAdjust="spacing" >boundary</text>
<text x="241.9" y="131.9" font-family="'Liberation Serif', serif" font-size="8" font-weight="bold" fill="#222" text-anchor="start" font-style="normal" stroke="#222" stroke-width="0.25" textLength="40.9" lengthAdjust="spacing" >lubricating</text>
<text x="243.7" y="140.8" font-family="'Liberation Serif', serif" font-size="8" font-weight="bold" fill="#222" text-anchor="start" font-style="normal" stroke="#222" stroke-width="0.25" textLength="14" lengthAdjust="spacing" >film</text>
<ellipse cx="49.6" cy="123" rx="34.6" ry="19.5" fill="#828282"/>
<rect x="15" y="113.7" width="69.2" height="9.3" fill="#8a8a8a"/>
<ellipse cx="49.6" cy="113.7" rx="34.6" ry="19.4" fill="url(#disc)" stroke="#a8a8a8" stroke-width="0.5"/>
<ellipse cx="48.8" cy="114.4" rx="25.5" ry="15" fill="url(#trk)"/>
<circle cx="49.5" cy="89.5" r="22.6" fill="url(#ball)" stroke="#b0b0b0" stroke-width="0.6"/>
<defs><linearGradient id="fa" x1="0" y1="0" x2="1" y2="0"><stop offset="0" stop-color="#3fb8ec"/><stop offset="0.27" stop-color="#8fd4f4"/><stop offset="0.5" stop-color="#cdeefb"/><stop offset="0.73" stop-color="#8fd4f4"/><stop offset="1" stop-color="#3fb8ec"/></linearGradient></defs>
<path d="M32.3,90.2 L42.3,84.8 V87.2 H60 V84.8 L70,90.2 L60,95.7 V93.1 H42.3 V95.7 Z" fill="url(#fa)" stroke="#6cc2ea" stroke-width="0.4"/>
<text x="42.8" y="91.6" font-family="'Liberation Serif', serif" font-size="5.4" font-weight="bold" fill="#2a3550" text-anchor="start" font-style="normal" stroke="#2a3550" stroke-width="0.12" textLength="17.2" lengthAdjust="spacing" >Friction</text>
<path d="M46,45 H53 V54.4 H56.2 L49.5,63.9 L42.9,54.4 H46 Z" fill="url(#ld)" stroke="#a0a0a0" stroke-width="0.5"/>
<text x="0" y="0" font-family="'Liberation Serif', serif" font-size="5" font-weight="bold" fill="#111" text-anchor="middle" transform="translate(51.2,54.2) rotate(-90)">Load</text>
<circle cx="69.2" cy="104.7" r="0.85" fill="#111"/>
<circle cx="69.2" cy="110" r="0.85" fill="#111"/>
<circle cx="69.2" cy="115.3" r="0.85" fill="#111"/>
<circle cx="72.4" cy="117.6" r="0.85" fill="#111"/>
<circle cx="77.6" cy="117.6" r="0.85" fill="#111"/>
<circle cx="80.3" cy="104.7" r="0.85" fill="#111"/>
<circle cx="80.3" cy="110" r="0.85" fill="#111"/>
<circle cx="80.3" cy="115.3" r="0.85" fill="#111"/>
<circle cx="75" cy="104.5" r="0.85" fill="#111"/>
<path d="M80.5,103 L131,70 M80.5,117 L131,156" fill="none" stroke="#111" stroke-width="1.55" stroke-dasharray="2 1.6"/>
<text x="299.7" y="20.4" font-family="'Liberation Serif', serif" font-size="15" font-weight="normal" fill="#111" text-anchor="start" font-style="normal" stroke="#111" stroke-width="0.2" textLength="17.1" lengthAdjust="spacingAndGlyphs" >(b)</text>
<g clip-path="url(#cpb)" fill="none" stroke-linejoin="round">
<path d="M345.0,115.9 345.1,111.3 345.1,111.9 345.2,107.1 345.2,108.5 345.3,104.1 345.4,106.3 345.4,115.5 345.5,104.8 345.5,111.7 345.6,109.4 345.7,109.3 345.7,106.6 345.8,115.1 345.9,115.8 345.9,113.1 346.0,101.9 346.0,113.9 346.1,108.8 346.2,111.1 346.2,114.2 346.3,111.2 346.3,111.9 346.4,107.9 346.5,108.2 346.5,115.0 346.6,115.2 346.6,108.2 346.7,108.5 346.8,96.2 346.8,106.5 346.9,116.8 347.0,111.7 347.0,106.4 347.1,110.9 347.1,109.9 347.2,117.2 347.3,112.8 347.3,115.5 347.4,116.5 347.4,114.6 347.5,113.7 347.6,111.3 347.6,109.7 347.7,110.8 347.7,113.1 347.8,115.5 347.9,111.7 347.9,106.8 348.0,106.7 348.1,106.8 348.1,107.2 348.2,110.4 348.2,111.0 348.3,104.4 348.4,108.3 348.4,110.2 348.5,112.5 348.5,111.8 348.6,115.3 348.7,109.0 348.7,111.1 348.8,107.9 348.8,116.0 348.9,108.9 349.0,106.9 349.0,112.4 349.1,105.5 349.1,116.6 349.2,108.4 349.3,110.6 349.3,113.2 349.4,106.2 349.5,116.4 349.5,107.7 349.6,116.0 349.6,104.7 349.7,104.7 349.8,105.9 349.8,114.7 349.9,108.7 349.9,106.5 350.0,111.3 350.1,111.7 350.1,107.6 350.2,116.7 350.2,112.6 350.3,107.2 350.4,103.1 350.4,106.2 350.5,106.7 350.6,114.8 350.6,106.2 350.7,114.0 350.7,103.9 350.8,110.5 350.9,109.6 350.9,110.5 351.0,115.4 351.0,107.7 351.1,116.4 351.2,109.4 351.2,118.0 351.3,107.7 351.3,107.4 351.4,114.8 351.5,103.2 351.5,112.0 351.6,106.0 351.7,113.2 351.7,115.9 351.8,112.6 351.8,114.2 351.9,114.8 352.0,101.9 352.0,113.3 352.1,116.1 352.1,115.9 352.2,108.4 352.3,112.9 352.3,115.8 352.4,112.3 352.4,116.0 352.5,111.5 352.6,114.7 352.6,108.2 352.7,106.5 352.7,112.2 352.8,109.0 352.9,114.3 352.9,115.7 353.0,113.6 353.1,115.5 353.1,112.6 353.2,110.5 353.2,115.1 353.3,109.4 353.4,111.2 353.4,98.2 353.5,108.1 353.5,105.9 353.6,109.0 353.7,116.3 353.7,112.7 353.8,112.2 353.8,106.8 353.9,107.5 354.0,115.5 354.0,107.0 354.1,113.3 354.2,110.1 354.2,110.0 354.3,112.9 354.3,111.3 354.4,107.5 354.5,110.1 354.5,108.2 354.6,101.3 354.6,106.9 354.7,111.5 354.8,117.1 354.8,111.0 354.9,114.3 354.9,109.6 355.0,115.1 355.1,101.9 355.1,115.9 355.2,101.6 355.3,110.3 355.3,109.2 355.4,108.3 355.4,111.5 355.5,107.7 355.6,112.0 355.6,113.4 355.7,108.2 355.7,109.2 355.8,101.9 355.9,107.9 355.9,103.4 356.0,106.3 356.0,110.5 356.1,106.7 356.2,109.2 356.2,112.5 356.3,117.7 356.3,108.9 356.4,112.0 356.5,106.4 356.5,99.2 356.6,106.7 356.7,110.1 356.7,109.7 356.8,102.0 356.8,111.9 356.9,113.3 357.0,96.8 357.0,117.9 357.1,107.0 357.1,115.7 357.2,116.0 357.3,107.7 357.3,116.1 357.4,108.1 357.4,113.4 357.5,105.5 357.6,109.3 357.6,113.4 357.7,109.7 357.8,107.9 357.8,106.4 357.9,116.5 357.9,106.2 358.0,107.8 358.1,114.7 358.1,99.4 358.2,111.4 358.2,109.4 358.3,113.7 358.4,105.6 358.4,99.2 358.5,109.4 358.5,104.4 358.6,111.5 358.7,109.0 358.7,107.9 358.8,108.5 358.9,112.0 358.9,101.7 359.0,110.3 359.0,106.9 359.1,111.3 359.2,110.4 359.2,108.5 359.3,113.2 359.3,99.4 359.4,104.7 359.5,106.4 359.5,108.5 359.6,113.2 359.6,108.2 359.7,109.9 359.8,111.1 359.8,106.8 359.9,103.4 359.9,108.9 360.0,113.0 360.1,107.4 360.1,110.0 360.2,105.6 360.3,106.8 360.3,111.5 360.4,105.8 360.4,109.2 360.5,107.6 360.6,115.1 360.6,112.1 360.7,105.3 360.7,114.8 360.8,107.0 360.9,103.8 360.9,104.5 361.0,113.6 361.0,113.8 361.1,110.6 361.2,113.9 361.2,107.3 361.3,101.3 361.4,106.9 361.4,105.6 361.5,111.7 361.5,115.6 361.6,113.7 361.7,106.0 361.7,114.0 361.8,114.2 361.8,107.1 361.9,108.2 362.0,104.8 362.0,105.8 362.1,105.1 362.1,98.9 362.2,114.9 362.3,103.9 362.3,112.2 362.4,114.2 362.5,104.6 362.5,111.5 362.6,104.3 362.6,107.8 362.7,104.2 362.8,110.2 362.8,103.8 362.9,94.1 362.9,107.1 363.0,111.0 363.1,109.8 363.1,109.9 363.2,101.2 363.2,104.8 363.3,103.7 363.4,102.4 363.4,102.3 363.5,97.1 363.6,95.6 363.6,98.8 363.7,100.7 363.7,99.7 363.8,97.7 363.9,95.8 363.9,96.9 364.0,101.0 364.0,98.9 364.1,100.6 364.2,97.8 364.2,99.2 364.3,98.9 364.3,99.5 364.4,100.3 364.5,96.0 364.5,98.2 364.6,99.6 364.6,99.0 364.7,100.0 364.8,95.4 364.8,99.0 364.9,93.7 365.0,93.1 365.0,98.4 365.1,95.0 365.1,98.3 365.2,95.3 365.3,93.8 365.3,96.7 365.4,98.0 365.4,95.8 365.5,96.0 365.6,98.3 365.6,96.5 365.7,96.4 365.7,97.6 365.8,97.7 365.9,94.8 365.9,96.4 366.0,98.0 366.1,96.8 366.1,96.5 366.2,95.2 366.2,97.2 366.3,94.8 366.4,98.7 366.4,95.6 366.5,95.8 366.5,99.9 366.6,96.1 366.7,99.0 366.7,94.4 366.8,96.9 366.8,99.2 366.9,95.8 367.0,98.3 367.0,99.6 367.1,96.8 367.2,95.3 367.2,96.1 367.3,95.2 367.3,100.0 367.4,97.5 367.5,98.5 367.5,98.0 367.6,95.1 367.6,99.8 367.7,98.2 367.8,94.8 367.8,100.3 367.9,97.0 367.9,94.8 368.0,97.3 368.1,96.3 368.1,101.1 368.2,96.9 368.2,97.2 368.3,96.8 368.4,98.9 368.4,96.8 368.5,96.1 368.6,95.7 368.6,99.9 368.7,95.2 368.7,96.1 368.8,97.2 368.9,96.3 368.9,96.6 369.0,97.3 369.0,95.1 369.1,95.3 369.2,95.6 369.2,99.0 369.3,98.1 369.3,95.0 369.4,97.3 369.5,99.8 369.5,95.9 369.6,99.8 369.7,94.6 369.7,96.8 369.8,95.8 369.8,99.1 369.9,95.8 370.0,98.3 370.0,100.6 370.1,97.0 370.1,95.9 370.2,96.7 370.3,101.3 370.3,98.9 370.4,97.9 370.4,99.7 370.5,97.6 370.6,100.3 370.6,97.3 370.7,98.8 370.8,99.5 370.8,99.1 370.9,99.6 370.9,99.4 371.0,98.3 371.1,100.4 371.1,101.7 371.2,98.1 371.2,99.2 371.3,96.6 371.4,102.3 371.4,97.6 371.5,100.3 371.5,97.4 371.6,100.2 371.7,101.7 371.7,98.3 371.8,101.1 371.8,97.5 371.9,99.2 372.0,97.9 372.0,99.2 372.1,99.9 372.2,99.3 372.2,102.4 372.3,102.2 372.3,101.3 372.4,100.0 372.5,97.2 372.5,102.6 372.6,97.9 372.6,102.5 372.7,98.1 372.8,97.9 372.8,99.6 372.9,101.6 372.9,98.2 373.0,101.0 373.1,99.2 373.1,98.2 373.2,100.7 373.3,100.9 373.3,101.7 373.4,97.0 373.4,102.0 373.5,97.3 373.6,96.4 373.6,99.6 373.7,101.5 373.7,93.6 373.8,101.6 373.9,100.5 373.9,101.1 374.0,98.9 374.0,98.8 374.1,99.4 374.2,100.0 374.2,98.5 374.3,101.6 374.4,101.2 374.4,101.1 374.5,101.1 374.5,100.1 374.6,101.9 374.7,97.1 374.7,102.3 374.8,97.7 374.8,98.4 374.9,99.4 375.0,99.9 375.0,98.3 375.1,101.0 375.1,98.3 375.2,100.5 375.3,98.9 375.3,100.3 375.4,97.2 375.4,98.9 375.5,99.0 375.6,101.4 375.6,97.0 375.7,102.3 375.8,102.8 375.8,101.2 375.9,98.2 375.9,102.6 376.0,103.8 376.1,101.9 376.1,99.4 376.2,99.4 376.2,101.4 376.3,101.3 376.4,101.0 376.4,102.9 376.5,103.0 376.5,102.1 376.6,102.2 376.7,100.6 376.7,100.1 376.8,99.8 376.9,100.6 376.9,102.1 377.0,102.5 377.0,102.9 377.1,99.0 377.2,102.2 377.2,100.7 377.3,101.6 377.3,101.2 377.4,98.2 377.5,98.2 377.5,99.2 377.6,99.3 377.6,99.2 377.7,98.0 377.8,102.9 377.8,101.5 377.9,98.8 378.0,97.5 378.0,99.1 378.1,98.3 378.1,101.9 378.2,103.4 378.3,98.0 378.3,102.5 378.4,102.9 378.4,100.4 378.5,101.6 378.6,99.5 378.6,103.5 378.7,103.8 378.7,104.4 378.8,100.5 378.9,101.8 378.9,101.7 379.0,103.7 379.0,104.4 379.1,100.5 379.2,100.0 379.2,101.5 379.3,104.3 379.4,101.6 379.4,101.5 379.5,105.1 379.5,104.5 379.6,101.9 379.7,102.5 379.7,103.9 379.8,101.9 379.8,102.8 379.9,104.2 380.0,104.5 380.0,106.3 380.1,105.1 380.1,106.4 380.2,104.5 380.3,106.8 380.3,107.1 380.4,101.2 380.5,105.4 380.5,104.6 380.6,100.8 380.6,106.0 380.7,103.3 380.8,103.1 380.8,102.0 380.9,101.3 380.9,102.3 381.0,100.0 381.1,101.4 381.1,103.6 381.2,100.7 381.2,103.7 381.3,102.2 381.4,97.9 381.4,102.9 381.5,101.4 381.6,102.7 381.6,98.2 381.7,103.4 381.7,100.1 381.8,101.1 381.9,98.4 381.9,102.8 382.0,103.7 382.0,98.8 382.1,102.3 382.2,101.5 382.2,98.8 382.3,102.2 382.3,102.7 382.4,99.3 382.5,99.3 382.5,98.1 382.6,99.7 382.6,101.0 382.7,103.3 382.8,100.6 382.8,101.7 382.9,102.9 383.0,101.9 383.0,104.2 383.1,99.8 383.1,102.8 383.2,99.6 383.3,100.6 383.3,100.9 383.4,103.4 383.4,101.4 383.5,103.3 383.6,100.1 383.6,103.9 383.7,103.0 383.7,105.2 383.8,100.8 383.9,103.2 383.9,102.3 384.0,102.4 384.1,100.0 384.1,102.1 384.2,100.5 384.2,101.8 384.3,103.2 384.4,100.7 384.4,101.1 384.5,101.4 384.5,100.2 384.6,104.4 384.7,104.1 384.7,98.6 384.8,102.7 384.8,103.9 384.9,103.1 385.0,104.3 385.0,99.5 385.1,103.4 385.2,103.3 385.2,100.2 385.3,102.1 385.3,103.1 385.4,100.8 385.5,101.7 385.5,101.7 385.6,100.4 385.6,102.9 385.7,101.1 385.8,98.9 385.8,102.1 385.9,100.0 385.9,102.2 386.0,102.8 386.1,101.3 386.1,103.4 386.2,102.5 386.2,102.4 386.3,99.8 386.4,99.9 386.4,100.2 386.5,102.0 386.6,104.5 386.6,100.9 386.7,102.4 386.7,100.8 386.8,102.7 386.9,104.9 386.9,102.2 387.0,104.6 387.0,100.3 387.1,105.0 387.2,103.2 387.2,104.6 387.3,102.2 387.3,105.0 387.4,99.3 387.5,99.2 387.5,100.6 387.6,103.8 387.7,103.7 387.7,102.8 387.8,105.0 387.8,100.9 387.9,101.7 388.0,101.4 388.0,103.1 388.1,104.5 388.1,101.3 388.2,100.0 388.3,102.7 388.3,102.9 388.4,103.9 388.4,104.0 388.5,100.8 388.6,102.2 388.6,99.7 388.7,102.0 388.8,104.5 388.8,103.5 388.9,100.9 388.9,102.9 389.0,100.9 389.1,101.1 389.1,100.5 389.2,101.7 389.2,102.8 389.3,102.8 389.4,104.2 389.4,104.5 389.5,100.3 389.5,101.4 389.6,102.1 389.7,100.8 389.7,104.8 389.8,101.8 389.8,100.2 389.9,101.7 390.0,99.6 390.0,104.1 390.1,99.2 390.2,103.1 390.2,96.8 390.3,99.1 390.3,101.6 390.4,103.5 390.5,99.4 390.5,103.4 390.6,100.8 390.6,101.4 390.7,101.5 390.8,100.0 390.8,98.9 390.9,98.9 390.9,99.2 391.0,99.3 391.1,103.9 391.1,101.9 391.2,101.1 391.3,101.7 391.3,98.5 391.4,98.6 391.4,101.2 391.5,98.8 391.6,102.1 391.6,99.6 391.7,103.4 391.7,98.4 391.8,101.8 391.9,98.8 391.9,103.5 392.0,103.8 392.0,103.7 392.1,103.3 392.2,104.1 392.2,100.5 392.3,102.0 392.4,102.1 392.4,103.3 392.5,102.8 392.5,103.0 392.6,105.5 392.7,103.9 392.7,104.2 392.8,103.4 392.8,102.8 392.9,99.6 393.0,103.1 393.0,100.3 393.1,101.5 393.1,100.2 393.2,101.1 393.3,100.9 393.3,105.0 393.4,101.3 393.5,100.4 393.5,102.9 393.6,105.0 393.6,105.0 393.7,102.3 393.8,104.5 393.8,101.9 393.9,103.3 393.9,102.0 394.0,101.8 394.1,104.3 394.1,100.3 394.2,101.3 394.2,102.3 394.3,102.2 394.4,102.1 394.4,104.2 394.5,102.6 394.5,101.7 394.6,95.7 394.7,101.5 394.7,101.0 394.8,100.7 394.9,100.2 394.9,102.6 395.0,103.7 395.0,105.0 395.1,101.7 395.2,104.1 395.2,102.4 395.3,105.1 395.3,101.1 395.4,103.9 395.5,103.9 395.5,101.1 395.6,98.9 395.6,102.9 395.7,101.6 395.8,105.5 395.8,103.7 395.9,99.7 396.0,100.8 396.0,104.6 396.1,99.9 396.1,99.9 396.2,101.5 396.3,105.2 396.3,102.8 396.4,103.4 396.4,104.6 396.5,101.9 396.6,103.9 396.6,101.8 396.7,103.9 396.7,100.0 396.8,103.5 396.9,105.1 396.9,100.1 397.0,104.1 397.1,105.0 397.1,99.8 397.2,103.4 397.2,101.0 397.3,104.0 397.4,99.8 397.4,95.2 397.5,103.4 397.5,103.1 397.6,103.8 397.7,101.7 397.7,102.4 397.8,99.8 397.8,102.6 397.9,101.2 398.0,102.1 398.0,103.0 398.1,108.3 398.1,100.7 398.2,102.5 398.3,98.8 398.3,100.8 398.4,100.3 398.5,99.2 398.5,102.8 398.6,98.9 398.6,99.5 398.7,103.2 398.8,103.2 398.8,104.5 398.9,102.2 398.9,104.0 399.0,99.7 399.1,102.7 399.1,103.0 399.2,98.9 399.2,102.5 399.3,103.0 399.4,102.2 399.4,102.8 399.5,104.0 399.6,102.1 399.6,104.5 399.7,102.0 399.7,103.9 399.8,104.5 399.9,103.5 399.9,104.6 400.0,101.3 400.0,102.0 400.1,106.0 400.2,101.2 400.2,101.6 400.3,106.2 400.3,104.0 400.4,103.8 400.5,104.2 400.5,107.2 400.6,102.4 400.7,104.7 400.7,102.4 400.8,103.6 400.8,101.1 400.9,104.5 401.0,101.9 401.0,103.8 401.1,100.1 401.1,104.2 401.2,105.7 401.3,103.2 401.3,102.2 401.4,103.2 401.4,101.9 401.5,102.1 401.6,104.7 401.6,103.3 401.7,99.8 401.7,102.9 401.8,100.9 401.9,103.4 401.9,104.6 402.0,100.7 402.1,102.7 402.1,108.6 402.2,102.1 402.2,103.5 402.3,101.7 402.4,100.3 402.4,101.9 402.5,105.3 402.5,105.8 402.6,101.4 402.7,101.7 402.7,100.8 402.8,102.6 402.8,102.1 402.9,105.1 403.0,103.4 403.0,102.2 403.1,103.9 403.2,105.7 403.2,101.3 403.3,105.4 403.3,103.3 403.4,102.3 403.5,103.4 403.5,101.3 403.6,105.4 403.6,101.1 403.7,101.1 403.8,103.2 403.8,104.2 403.9,102.1 403.9,104.3 404.0,101.5 404.1,106.0 404.1,101.1 404.2,105.6 404.3,102.2 404.3,104.1 404.4,103.8 404.4,102.4 404.5,104.8 404.6,103.6 404.6,102.7 404.7,105.8 404.7,103.3 404.8,102.6 404.9,103.4 404.9,104.8 405.0,105.1 405.0,98.9 405.1,101.2 405.2,102.3 405.2,101.4 405.3,105.0 405.3,98.9 405.4,98.7 405.5,102.6 405.5,104.1 405.6,103.0 405.7,104.7 405.7,103.4 405.8,103.1 405.8,102.6 405.9,105.7 406.0,101.3 406.0,100.9 406.1,105.8 406.1,105.5 406.2,101.7 406.3,104.4 406.3,104.6 406.4,104.6 406.4,105.1 406.5,101.7 406.6,102.4 406.6,107.7 406.7,100.8 406.8,104.4 406.8,102.1 406.9,102.4 406.9,103.9 407.0,102.3 407.1,104.3 407.1,101.3 407.2,103.9 407.2,104.5 407.3,103.1 407.4,100.8 407.4,100.9 407.5,103.7 407.5,105.1 407.6,102.0 407.7,100.8 407.7,104.8 407.8,104.3 407.9,102.7 407.9,103.9 408.0,102.6 408.0,103.0 408.1,100.2 408.2,100.0 408.2,98.5 408.3,104.4 408.3,104.0 408.4,99.9 408.5,101.6 408.5,101.8 408.6,105.9 408.6,97.0 408.7,104.8 408.8,106.0 408.8,105.2 408.9,104.9 408.9,101.7 409.0,103.0 409.1,103.3 409.1,103.8 409.2,103.2 409.3,100.3 409.3,102.8 409.4,105.2 409.4,99.4 409.5,99.8 409.6,103.7 409.6,101.6 409.7,105.2 409.7,102.4 409.8,105.3 409.9,103.9 409.9,99.7 410.0,104.1 410.0,101.8 410.1,101.6 410.2,104.0 410.2,100.2 410.3,102.7 410.4,105.3 410.4,101.2 410.5,103.2 410.5,104.9 410.6,104.2 410.7,103.1 410.7,103.7 410.8,103.7 410.8,106.2 410.9,105.5 411.0,103.3 411.0,100.1 411.1,104.6 411.1,104.4 411.2,103.0 411.3,104.2 411.3,100.3 411.4,101.1 411.5,101.7 411.5,104.7 411.6,103.1 411.6,100.6 411.7,102.0 411.8,104.2 411.8,100.0 411.9,99.9 411.9,101.3 412.0,101.8 412.1,104.2 412.1,103.3 412.2,103.0 412.2,102.4 412.3,102.8 412.4,105.1 412.4,102.3 412.5,101.0 412.5,104.5 412.6,105.1 412.7,103.7 412.7,103.6 412.8,100.1 412.9,104.5 412.9,101.2 413.0,100.4 413.0,104.5 413.1,100.2 413.2,102.2 413.2,100.5 413.3,101.0 413.3,102.9 413.4,100.4 413.5,103.4 413.5,103.6 413.6,102.5 413.6,98.6 413.7,104.1 413.8,100.3 413.8,99.7 413.9,103.9 414.0,100.5 414.0,99.6 414.1,100.2 414.1,104.2 414.2,104.5 414.3,102.1 414.3,99.9 414.4,99.5 414.4,105.0 414.5,95.8 414.6,101.9 414.6,101.3 414.7,103.6 414.7,101.2 414.8,99.1 414.9,101.3 414.9,99.6 415.0,100.6 415.1,103.2 415.1,102.2 415.2,99.3 415.2,102.6 415.3,100.4 415.4,101.9 415.4,99.6 415.5,103.5 415.5,103.8 415.6,104.0 415.7,103.1 415.7,100.0 415.8,103.5 415.8,98.0 415.9,99.0 416.0,100.1 416.0,102.0 416.1,98.7 416.1,98.9 416.2,97.1 416.3,101.0 416.3,99.7 416.4,102.4 416.5,98.6 416.5,102.1 416.6,101.3 416.6,105.4 416.7,106.7 416.8,105.0 416.8,110.1 416.9,109.1 416.9,114.6 417.0,111.6 417.1,120.0 417.1,116.7 417.2,113.7 417.2,122.2 417.3,122.8 417.4,116.1 417.4,121.2 417.5,119.0 417.6,117.9 417.6,117.6 417.7,114.2 417.7,113.8 417.8,123.4 417.9,119.8 417.9,102.2 418.0,98.8 418.0,83.1 418.1,79.9 418.2,66.2 418.2,60.7 418.3,60.7 418.3,59.7 418.4,64.3 418.5,60.1 418.5,54.2 418.6,64.1 418.7,55.7 418.7,57.8 418.8,79.1 418.8,56.2 418.9,59.5 419.0,57.6 419.0,60.6 419.1,51.9 419.1,52.8 419.2,57.6 419.3,57.8 419.3,58.4 419.4,56.0 419.4,55.3 419.5,53.5 419.6,60.1 419.6,51.7 419.7,70.0 419.7,51.7 419.8,59.6 419.9,56.1 419.9,52.0 420.0,57.4 420.1,59.6 420.1,53.0 420.2,52.1 420.2,55.5 420.3,52.2 420.4,62.6 420.4,59.8 420.5,53.0 420.5,53.2 420.6,54.7 420.7,57.0 420.7,55.0 420.8,54.2 420.8,49.5 420.9,50.5 421.0,53.1 421.0,55.7 421.1,49.3 421.2,58.6 421.2,54.0 421.3,53.9 421.3,52.2 421.4,57.0 421.5,52.6 421.5,55.3 421.6,70.1 421.6,46.3 421.7,48.1 421.8,53.8 421.8,50.2 421.9,54.2 421.9,47.0 422.0,49.6 422.1,51.7 422.1,53.5 422.2,51.9 422.3,49.0 422.3,48.9 422.4,57.3 422.4,47.0 422.5,51.5 422.6,47.0 422.6,56.5 422.7,47.6 422.7,51.2 422.8,56.9 422.9,57.6 422.9,55.3 423.0,47.9 423.0,51.1 423.1,54.9 423.2,55.1 423.2,50.2 423.3,54.0 423.4,57.9 423.4,51.8 423.5,53.4 423.5,49.4 423.6,58.0 423.7,51.6 423.7,50.5 423.8,53.4 423.8,50.2 423.9,48.5 424.0,49.7 424.0,55.8 424.1,56.4 424.1,51.5 424.2,46.4 424.3,46.4 424.3,51.9 424.4,50.3 424.4,53.9 424.5,50.4 424.6,57.1 424.6,47.3 424.7,47.1 424.8,49.8 424.8,55.4 424.9,53.4 424.9,47.1 425.0,53.2 425.1,47.8 425.1,46.8 425.2,48.3 425.2,52.9 425.3,49.1 425.4,46.0 425.4,47.8 425.5,47.4 425.5,46.6 425.6,50.3 425.7,48.9 425.7,50.4 425.8,45.9 425.9,55.7 425.9,56.3 426.0,47.3 426.0,47.2 426.1,49.3 426.2,55.5 426.2,52.6 426.3,46.7 426.3,54.8 426.4,56.3 426.5,46.0 426.5,50.5 426.6,54.7 426.6,52.0 426.7,47.0 426.8,46.9 426.8,53.7 426.9,48.1 427.0,52.8 427.0,54.5 427.1,50.4 427.1,53.1 427.2,62.8 427.3,46.4 427.3,45.5 427.4,48.0 427.4,52.6 427.5,53.3 427.6,55.3 427.6,52.1 427.7,49.4 427.7,57.1 427.8,56.1 427.9,49.4 427.9,54.3 428.0,50.9 428.0,51.3 428.1,55.8 428.2,47.6 428.2,52.2 428.3,56.7 428.4,47.1 428.4,48.6 428.5,54.7 428.5,47.8 428.6,55.3 428.7,51.3 428.7,49.3 428.8,45.6 428.8,45.9 428.9,46.5 429.0,45.8 429.0,54.4 429.1,55.1 429.1,54.8 429.2,48.3 429.3,55.2 429.3,53.7 429.4,55.2 429.5,49.0 429.5,48.2 429.6,53.1 429.6,53.0 429.7,44.8 429.8,50.8 429.8,72.1 429.9,48.2 429.9,47.9 430.0,50.5 430.1,54.6 430.1,52.9 430.2,46.8 430.2,52.5 430.3,53.9 430.4,52.5 430.4,47.4 430.5,46.1 430.6,46.6 430.6,46.3 430.7,45.7 430.7,44.5 430.8,45.7 430.9,47.8 430.9,51.7 431.0,44.0 431.0,52.3 431.1,51.3 431.2,45.9 431.2,50.1 431.3,54.6 431.3,49.3 431.4,45.4 431.5,49.6 431.5,47.1 431.6,53.7 431.6,47.5 431.7,52.5 431.8,52.4 431.8,48.5 431.9,50.5 432.0,52.1 432.0,52.7 432.1,53.1 432.1,46.7 432.2,50.2 432.3,48.4 432.3,46.3 432.4,51.9 432.4,49.0 432.5,55.8 432.6,51.4 432.6,49.0 432.7,48.2 432.7,49.5 432.8,51.1 432.9,46.0 432.9,54.6 433.0,48.8 433.1,51.5 433.1,55.7 433.2,44.3 433.2,46.5 433.3,45.8 433.4,54.0 433.4,46.4 433.5,50.1 433.5,51.9 433.6,48.6 433.7,45.0 433.7,44.0 433.8,48.5 433.8,46.1 433.9,52.5 434.0,47.2 434.0,43.7 434.1,49.2 434.2,53.5 434.2,49.7 434.3,48.7 434.3,45.9 434.4,44.5 434.5,53.4 434.5,51.0 434.6,52.3 434.6,43.9 434.7,52.9 434.8,44.5 434.8,52.3 434.9,45.0 434.9,48.3 435.0,45.1 435.1,43.4 435.1,43.7 435.2,54.0 435.2,44.8 435.3,46.4 435.4,51.0 435.4,52.7 435.5,47.8 435.6,47.3 435.6,53.6 435.7,47.1 435.7,49.4 435.8,48.5 435.9,46.7 435.9,51.1 436.0,45.7 436.0,50.2 436.1,53.2 436.2,52.5 436.2,53.5 436.3,46.6 436.3,49.8 436.4,50.7 436.5,47.2 436.5,50.6 436.6,51.4 436.7,51.7 436.7,47.3 436.8,51.5 436.8,53.5 436.9,54.9 437.0,54.0 437.0,48.8 437.1,55.0 437.1,48.3 437.2,48.8 437.3,54.8 437.3,56.0 437.4,48.4 437.4,51.7 437.5,48.8 437.6,47.4 437.6,56.7 437.7,51.3 437.8,55.2 437.8,51.8 437.9,55.5 437.9,47.8 438.0,52.0 438.1,55.1 438.1,55.9 438.2,52.5 438.2,53.4 438.3,48.9 438.4,54.5 438.4,52.9 438.5,45.7 438.5,51.8 438.6,54.4 438.7,53.9 438.7,45.6 438.8,53.8 438.8,53.1 438.9,48.6 439.0,50.6 439.0,54.6 439.1,49.9 439.2,51.3 439.2,49.0 439.3,47.8 439.3,49.2 439.4,52.8 439.5,46.7 439.5,51.8 439.6,45.1 439.6,48.2 439.7,53.3 439.8,43.1 439.8,64.6 439.9,54.2 439.9,44.9 440.0,49.4 440.1,50.3 440.1,45.6 440.2,42.7 440.3,52.4 440.3,45.3 440.4,43.1 440.4,43.5 440.5,51.2 440.6,53.8 440.6,49.7 440.7,48.3 440.7,62.0 440.8,48.3 440.9,54.1 440.9,46.0 441.0,51.6 441.0,54.8 441.1,52.1 441.2,44.6 441.2,52.6 441.3,51.4 441.4,50.5 441.4,49.3 441.5,52.1 441.5,51.6 441.6,45.0 441.7,47.4 441.7,51.5 441.8,42.9 441.8,50.0 441.9,47.8 442.0,46.7 442.0,42.1 442.1,44.9 442.1,59.8 442.2,48.1 442.3,49.5 442.3,44.5 442.4,46.4 442.4,47.7 442.5,51.3 442.6,48.0 442.6,52.5 442.7,45.5 442.8,50.5 442.8,58.3 442.9,47.4 442.9,52.8 443.0,42.1 443.1,50.9 443.1,44.7 443.2,42.5 443.2,47.5 443.3,49.0 443.4,51.9 443.4,49.4 443.5,48.3 443.5,49.2 443.6,51.4 443.7,46.8 443.7,44.6 443.8,48.6 443.9,50.3 443.9,49.6 444.0,50.8 444.0,42.4 444.1,43.2 444.2,52.0 444.2,65.5 444.3,44.2 444.3,47.9 444.4,50.4 444.5,43.5 444.5,49.7 444.6,49.2 444.6,44.8 444.7,46.4 444.8,48.5 444.8,54.6 444.9,48.6 445.0,64.4 445.0,47.7 445.1,51.5 445.1,46.4 445.2,45.0 445.3,47.9 445.3,48.2 445.4,44.6 445.4,49.5 445.5,50.0 445.6,48.5 445.6,49.3 445.7,45.1 445.7,43.9 445.8,46.5 445.9,42.0 445.9,42.5 446.0,42.4 446.0,42.9 446.1,40.5 446.2,48.1 446.2,43.5 446.3,46.9 446.4,46.1 446.4,40.6 446.5,45.7 446.5,45.3 446.6,50.4 446.7,42.5 446.7,48.0 446.8,46.2 446.8,48.3 446.9,43.8 447.0,48.9 447.0,45.5 447.1,47.4 447.1,45.4 447.2,42.4 447.3,47.3 447.3,46.1 447.4,46.4 447.5,50.6 447.5,43.8 447.6,48.1 447.6,44.2 447.7,52.7 447.8,47.4 447.8,49.8 447.9,52.7 447.9,42.8 448.0,46.0 448.1,43.4 448.1,47.1 448.2,50.1 448.2,49.0 448.3,53.3 448.4,47.7 448.4,46.9 448.5,57.6 448.6,44.9 448.6,49.7 448.7,43.5 448.7,46.1 448.8,50.7 448.9,45.8 448.9,45.4 449.0,43.0 449.0,47.4 449.1,50.2 449.2,51.5 449.2,49.4 449.3,48.7 449.3,45.5 449.4,53.1 449.5,52.4 449.5,45.3 449.6,51.6 449.6,53.6 449.7,53.1 449.8,46.5 449.8,47.2 449.9,43.3 450.0,62.5 450.0,47.1 450.1,53.5 450.1,63.6 450.2,48.3 450.3,52.8 450.3,53.3 450.4,42.9 450.4,48.3 450.5,43.2 450.6,51.9 450.6,48.2 450.7,45.7 450.7,52.7 450.8,47.2 450.9,42.1 450.9,49.8 451.0,49.8 451.1,49.9 451.1,60.5 451.2,48.8 451.2,45.5 451.3,41.5 451.4,51.2 451.4,41.7 451.5,43.4 451.5,52.4 451.6,48.4 451.7,43.8 451.7,51.1 451.8,52.9 451.8,46.8 451.9,50.8 452.0,50.1 452.0,49.8 452.1,49.8 452.2,46.8 452.2,43.5 452.3,43.1 452.3,47.1 452.4,51.0 452.5,49.0 452.5,42.5 452.6,51.5 452.6,43.7 452.7,46.2 452.8,56.0 452.8,43.7 452.9,46.9 452.9,43.9 453.0,43.9 453.1,43.2 453.1,42.3 453.2,50.6 453.3,46.6 453.3,52.7 453.4,48.7 453.4,48.2 453.5,42.4 453.6,43.5 453.6,43.5 453.7,43.0 453.7,41.3 453.8,50.7 453.9,46.6 453.9,48.0 454.0,47.8 454.0,42.3 454.1,61.6 454.2,44.7 454.2,52.4 454.3,48.3 454.3,62.9 454.4,46.5 454.5,50.0 454.5,51.2 454.6,51.0 454.7,52.8 454.7,44.7 454.8,46.6 454.8,47.7 454.9,45.2 455.0,48.4 455.0,45.1 455.1,44.9 455.1,46.0 455.2,51.7 455.3,43.2 455.3,48.7 455.4,59.2 455.4,51.0 455.5,52.8 455.6,53.5 455.6,61.6 455.7,42.9 455.8,52.8 455.8,51.9 455.9,43.4 455.9,53.8 456.0,45.1 456.1,45.4 456.1,43.7 456.2,46.5 456.2,50.7 456.3,42.0 456.4,44.6 456.4,50.5 456.5,51.2 456.5,45.3 456.6,47.6 456.7,44.2 456.7,50.0 456.8,51.7 456.9,45.5 456.9,53.2 457.0,50.7 457.0,49.5 457.1,48.2 457.2,48.9 457.2,44.9 457.3,45.1 457.3,52.6 457.4,53.1 457.5,46.8 457.5,49.6 457.6,42.8 457.6,50.0 457.7,51.2 457.8,49.8 457.8,46.2 457.9,57.9 457.9,50.7 458.0,42.7 458.1,42.6 458.1,44.0 458.2,49.3 458.3,51.3 458.3,60.9 458.4,44.3 458.4,41.7 458.5,51.2 458.6,49.4 458.6,41.3 458.7,40.4 458.7,47.1 458.8,40.9 458.9,41.4 458.9,49.1 459.0,48.3 459.0,46.1 459.1,47.0 459.2,43.1 459.2,46.1 459.3,40.7 459.4,47.6 459.4,48.3 459.5,50.0 459.5,41.1 459.6,46.1 459.7,49.9 459.7,39.4 459.8,48.7 459.8,48.2 459.9,42.9 460.0,39.6 460.0,39.8 460.1,39.2 460.1,46.3 460.2,46.2 460.3,49.8 460.3,42.2 460.4,41.4 460.5,50.6 460.5,47.0 460.6,52.5 460.6,46.3 460.7,42.1 460.8,46.0 460.8,40.0 460.9,49.4 460.9,42.2 461.0,40.1 461.1,41.9 461.1,41.6 461.2,47.8 461.2,45.8 461.3,47.0 461.4,68.2 461.4,43.8 461.5,51.6 461.5,49.6 461.6,48.8 461.7,41.4 461.7,58.2 461.8,47.9 461.9,47.5 461.9,49.8 462.0,48.5 462.0,65.3 462.1,41.2 462.2,47.4 462.2,48.5 462.3,50.0 462.3,64.4 462.4,50.4 462.5,46.3 462.5,41.9 462.6,40.9 462.6,48.2 462.7,48.6 462.8,45.4 462.8,49.4 462.9,40.1 463.0,65.4 463.0,46.7 463.1,40.4 463.1,39.4 463.2,40.0 463.3,44.6 463.3,46.7 463.4,49.4 463.4,39.6 463.5,50.3 463.6,41.7 463.6,41.2 463.7,42.1 463.7,41.8 463.8,46.4 463.9,41.7 463.9,47.6 464.0,40.7 464.1,50.4 464.1,41.3 464.2,46.9 464.2,45.1 464.3,50.9 464.4,51.1 464.4,50.3 464.5,63.3 464.5,47.7 464.6,44.0 464.7,46.9 464.7,44.5 464.8,48.4 464.8,50.2 464.9,43.4 465.0,44.7 465.0,41.3 465.1,41.0 465.1,46.0 465.2,48.6 465.3,48.8 465.3,45.7 465.4,47.1 465.5,42.4 465.5,45.5 465.6,44.3 465.6,47.3 465.7,42.6 465.8,45.1 465.8,41.7 465.9,60.0 465.9,41.4 466.0,41.5 466.1,47.4 466.1,59.4 466.2,39.2 466.2,45.6 466.3,42.8 466.4,39.7 466.4,43.7 466.5,48.7 466.6,44.6 466.6,43.0 466.7,38.5 466.7,39.0 466.8,46.4 466.9,48.6 466.9,44.5 467.0,45.1 467.0,41.3 467.1,58.9 467.2,48.4 467.2,62.5 467.3,47.9 467.3,41.1 467.4,44.2 467.5,42.0 467.5,49.2 467.6,39.5 467.7,45.4 467.7,43.5 467.8,42.3 467.8,43.3 467.9,40.5 468.0,49.2 468.0,42.9 468.1,40.8 468.1,43.0 468.2,42.7 468.3,50.3 468.3,49.2 468.4,47.6 468.4,47.6 468.5,44.1 468.6,55.6 468.6,39.9 468.7,46.7 468.7,48.0 468.8,45.5 468.9,41.9 468.9,48.2 469.0,49.8 469.1,47.7 469.1,42.0 469.2,49.0 469.2,43.6 469.3,38.5 469.4,39.7 469.4,47.0 469.5,49.6 469.5,49.2 469.6,40.9 469.7,40.7 469.7,48.0 469.8,41.8 469.8,46.6 469.9,45.3 470.0,43.0 470.0,38.6 470.1,48.9 470.2,41.6 470.2,39.9 470.3,44.2 470.3,39.0 470.4,45.1 470.5,48.7 470.5,44.1 470.6,59.4 470.6,43.0 470.7,49.4 470.8,49.4 470.8,48.7 470.9,48.3 470.9,47.6 471.0,42.9 471.1,46.2 471.1,40.4 471.2,40.2 471.3,40.4 471.3,40.6 471.4,38.7 471.4,43.7 471.5,45.1 471.6,44.3 471.6,47.5 471.7,46.8 471.7,37.9 471.8,40.8 471.9,38.9 471.9,38.1 472.0,38.9 472.0,44.2 472.1,47.3 472.2,42.4 472.2,36.3 472.3,45.6 472.3,41.1 472.4,44.9 472.5,37.2 472.5,36.4 472.6,44.5 472.7,38.3 472.7,34.0 472.8,41.0 472.8,39.0 472.9,39.7 473.0,39.7 473.0,38.2 473.1,41.9 473.1,38.6 473.2,39.2 473.3,33.2 473.3,38.9 473.4,32.9 473.4,50.4 473.5,32.7 473.6,31.8 473.6,32.2 473.7,36.5 473.8,33.3 473.8,38.4 473.9,41.2 473.9,29.3 474.0,33.1 474.1,29.0 474.1,29.8 474.2,35.6 474.2,32.3 474.3,34.7 474.4,27.1 474.4,21.6 474.5,37.3 474.5,37.5 474.6,45.6 474.7,27.0 474.7,16.7 474.8,17.7 474.9,24.7 474.9,32.6 475.0,20.8 475.0,40.5 475.1,30.5 475.2,28.9 475.2,20.0 475.3,34.8 475.3,21.1 475.4,34.6 475.5,22.4 475.5,30.6 475.6,36.9 475.6,32.1 475.7,30.7 475.8,36.0 475.8,42.0 475.9,44.5 475.9,33.4 476.0,23.7 476.1,42.6 476.1,39.1 476.2,32.6 476.3,41.2 476.3,35.8 476.4,26.9 476.4,36.9 476.5,28.6 476.6,26.4 476.6,27.1 476.7,39.4 476.7,32.3 476.8,40.5 476.9,31.7 476.9,35.6 477.0,35.0 477.0,45.0 477.1,43.9 477.2,30.9 477.2,33.9 477.3,44.2 477.4,36.3 477.4,68.5 477.5,45.6 477.5,54.8 477.6,40.7 477.7,38.4 477.7,52.2 477.8,43.4 477.8,48.5 477.9,31.3 478.0,52.3 478.0,46.4 478.1,47.5 478.1,50.5 478.2,47.1 478.3,48.7 478.3,40.6 478.4,41.1 478.5,38.5 478.5,31.5 478.6,45.2 478.6,42.0 478.7,38.3 478.8,35.9 478.8,38.7 478.9,53.2 478.9,32.8 479.0,40.2 479.1,32.0 479.1,32.6 479.2,52.2 479.2,47.3 479.3,43.2 479.4,35.0 479.4,50.9 479.5,40.4 479.5,48.7 479.6,44.8 479.7,47.4 479.7,51.5 479.8,34.3 479.9,38.1 479.9,32.0 480.0,48.6 480.0,38.1 480.1,40.4 480.2,33.0 480.2,49.1 480.3,67.9 480.3,44.0 480.4,47.2 480.5,48.5 480.5,41.8 480.6,46.8 480.6,52.3 480.7,34.5 480.8,43.7 480.8,45.3 480.9,33.4 481.0,38.3 481.0,31.3 481.1,49.1 481.1,40.6 481.2,49.7 481.3,35.2 481.3,42.6 481.4,32.8 481.4,45.3 481.5,35.1 481.6,45.3 481.6,51.2 481.7,39.5 481.7,48.6 481.8,36.6 481.9,36.4 481.9,45.7 482.0,49.7 482.1,48.9 482.1,33.2 482.2,42.0 482.2,36.7 482.3,49.6 482.4,34.5 482.4,45.4 482.5,43.7 482.5,49.7 482.6,38.1 482.7,33.7 482.7,46.5 482.8,50.9 482.8,45.0 482.9,51.6 483.0,52.1 483.0,44.8 483.1,45.8 483.2,55.5 483.2,34.4 483.3,32.4 483.3,36.3 483.4,48.5 483.5,40.8 483.5,34.5 483.6,37.6 483.6,51.6 483.7,38.9 483.8,47.9 483.8,49.0 483.9,50.4 483.9,33.6 484.0,46.5 484.1,42.2 484.1,38.9 484.2,54.8 484.2,49.8 484.3,35.9 484.4,45.4 484.4,48.6 484.5,41.6 484.6,51.7 484.6,39.5 484.7,41.8 484.7,36.3 484.8,52.6 484.9,54.0 484.9,41.0 485.0,44.6 485.0,37.0 485.1,36.4 485.2,36.5 485.2,56.3 485.3,41.1 485.3,39.5 485.4,42.3 485.5,52.4 485.5,48.6 485.6,47.1 485.7,54.4 485.7,43.3 485.8,52.7 485.8,52.3 485.9,42.8 486.0,49.7 486.0,39.0 486.1,56.9 486.1,35.4 486.2,41.4 486.3,50.2 486.3,47.8 486.4,37.1 486.4,35.3 486.5,49.7 486.6,40.9 486.6,44.9 486.7,39.8 486.8,38.8 486.8,46.2 486.9,52.7 486.9,53.0 487.0,37.0 487.1,45.6 487.1,37.5 487.2,37.5 487.2,39.9 487.3,62.4 487.4,33.9 487.4,47.3 487.5,34.9 487.5,56.0 487.6,39.6 487.7,36.7 487.7,37.6 487.8,41.5 487.8,34.0 487.9,51.1 488.0,46.9 488.0,51.7 488.1,39.0 488.2,45.0 488.2,39.7 488.3,55.9 488.3,56.6 488.4,55.8 488.5,38.5 488.5,46.2 488.6,56.6 488.6,56.6 488.7,41.8 488.8,54.4 488.8,43.4 488.9,53.9 488.9,37.9 489.0,50.3 489.1,41.1 489.1,51.1 489.2,58.2 489.3,60.3 489.3,40.3 489.4,50.6 489.4,42.9 489.5,54.4 489.6,49.2 489.6,46.7 489.7,41.5 489.7,37.7 489.8,50.4 489.9,51.9 489.9,53.6 490.0,42.9 490.0,42.9 490.1,52.0 490.2,66.4 490.2,55.5 490.3,54.8 490.4,40.3 490.4,39.7 490.5,46.6 490.5,39.8 490.6,45.1 490.7,43.8 490.7,37.5 490.8,46.9 490.8,45.2 490.9,34.8 491.0,34.4 491.0,43.3 491.1,45.6 491.1,56.6 491.2,46.6 491.3,50.6 491.3,47.5 491.4,52.0 491.4,34.9 491.5,51.6 491.6,42.2 491.6,56.4 491.7,47.5 491.8,34.5 491.8,48.3 491.9,55.0 491.9,42.1 492.0,56.4 492.1,57.0 492.1,44.1 492.2,55.8 492.2,40.0 492.3,44.1 492.4,39.9 492.4,36.8 492.5,41.7 492.5,40.3 492.6,48.7 492.7,51.0 492.7,37.5 492.8,51.6 492.9,38.3 492.9,47.5 493.0,57.7 493.0,45.3 493.1,41.7 493.2,58.4 493.2,37.2 493.3,52.0 493.3,49.2 493.4,42.9 493.5,46.6 493.5,49.4 493.6,38.3 493.6,56.6 493.7,43.2 493.8,77.2 493.8,48.4 493.9,43.6 494.0,50.9 494.0,50.8 494.1,47.7 494.1,40.3 494.2,57.3 494.3,52.2 494.3,50.8 494.4,53.3 494.4,56.4 494.5,51.3 494.6,54.8 494.6,48.8 494.7,60.8 494.7,42.9 494.8,42.7 494.9,49.4 494.9,41.7 495.0,49.8 495.0,53.3 495.1,54.9 495.2,43.0 495.2,50.0 495.3,44.3 495.4,54.0 495.4,46.9 495.5,49.2 495.5,47.1 495.6,51.3 495.7,58.6 495.7,60.8 495.8,58.6 495.8,59.1 495.9,51.1 496.0,52.1 496.0,45.8 496.1,38.3 496.1,50.7 496.2,52.8 496.3,46.0 496.3,47.8 496.4,58.5 496.5,42.4 496.5,52.2 496.6,47.9 496.6,45.6 496.7,59.0 496.8,52.7 496.8,49.4 496.9,40.4 496.9,39.0 497.0,43.6 497.1,41.4 497.1,59.1 497.2,46.3 497.2,52.9 497.3,47.0 497.4,45.5 497.4,50.6 497.5,40.2 497.6,41.2 497.6,58.3 497.7,39.6 497.7,43.1 497.8,47.5 497.9,53.6 497.9,51.2 498.0,43.5 498.0,40.9 498.1,53.7 498.2,44.7 498.2,51.0 498.3,49.8 498.3,49.3 498.4,51.5 498.5,40.1 498.5,41.5 498.6,59.4 498.6,59.0 498.7,64.6 498.8,57.8 498.8,56.2 498.9,56.9 499.0,54.7 499.0,52.4 499.1,44.8 499.1,47.5 499.2,57.8 499.3,45.2 499.3,46.7 499.4,60.1 499.4,40.8 499.5,55.2 499.6,48.1 499.6,47.5 499.7,57.5 499.7,55.5 499.8,55.0 499.9,38.2 499.9,38.6 500.0,38.6 500.1,71.3 500.1,49.0 500.2,46.0 500.2,56.9 500.3,54.9 500.4,47.1 500.4,55.1 500.5,47.6 500.5,46.1 500.6,57.7 500.7,40.9 500.7,50.0 500.8,48.6 500.8,45.2 500.9,40.2 501.0,56.3 501.0,56.2 501.1,46.6 501.2,41.2 501.2,56.9 501.3,51.3 501.3,72.3 501.4,61.9 501.5,41.3 501.5,45.0 501.6,46.9 501.6,61.1 501.7,46.8 501.8,46.2 501.8,55.2 501.9,44.7 501.9,40.7 502.0,57.6 502.1,76.2 502.1,56.8 502.2,48.7 502.2,43.6 502.3,42.2 502.4,44.6 502.4,49.0 502.5,57.9 502.6,55.1 502.6,57.5 502.7,49.5 502.7,60.5 502.8,45.1 502.9,48.3 502.9,44.5 503.0,46.6 503.0,48.0 503.1,55.5 503.2,42.1 503.2,45.5 503.3,59.9 503.3,57.1 503.4,60.3 503.5,47.2 503.5,52.5 503.6,57.6 503.7,47.3 503.7,60.4 503.8,40.7 503.8,41.6 503.9,60.8 504.0,47.9 504.0,49.5 504.1,57.1 504.1,56.4 504.2,41.9 504.3,61.5 504.3,42.5 504.4,51.6 504.4,50.6 504.5,51.6 504.6,45.5 504.6,58.8 504.7,57.9 504.8,59.8 504.8,51.9 504.9,70.3 504.9,40.2 505.0,52.5 505.1,54.4 505.1,41.1 505.2,42.7 505.2,56.8 505.3,59.9 505.4,45.7 505.4,54.1 505.5,43.7 505.5,53.6 505.6,55.2 505.7,51.7 505.7,61.7 505.8,58.9 505.8,60.3 505.9,56.3 506.0,56.6 506.0,45.1 506.1,41.9 506.2,52.4 506.2,59.5 506.3,83.6 506.3,43.3 506.4,62.1 506.5,47.5 506.5,64.0 506.6,44.1 506.6,52.0 506.7,49.4 506.8,50.6 506.8,59.6 506.9,62.0 506.9,45.9 507.0,51.7 507.1,51.3 507.1,61.2 507.2,42.6 507.3,47.8 507.3,53.4 507.4,61.1 507.4,51.5 507.5,48.2 507.6,44.8 507.6,60.9 507.7,44.2 507.7,41.4 507.8,54.9 507.9,42.1 507.9,39.2 508.0,52.2 508.0,58.6 508.1,52.3 508.2,40.8 508.2,50.9 508.3,54.5 508.4,51.0 508.4,42.0 508.5,46.7 508.5,57.9 508.6,53.5 508.7,54.2 508.7,43.2 508.8,56.4 508.8,59.2 508.9,75.5 509.0,53.5 509.0,48.9 509.1,48.3 509.1,52.8 509.2,52.3 509.3,54.6 509.3,57.8 509.4,54.1 509.4,47.2 509.5,55.4 509.6,42.4 509.6,50.3 509.7,59.2 509.8,52.3 509.8,59.0 509.9,65.6 509.9,61.0 510.0,60.0 510.1,59.5 510.1,42.1 510.2,63.5 510.2,54.0 510.3,49.2 510.4,62.5 510.4,56.9 510.5,54.9 510.5,53.6 510.6,49.1 510.7,53.1 510.7,53.3 510.8,58.8 510.9,64.4 510.9,50.4 511.0,53.3 511.0,53.6 511.1,51.5 511.2,43.5 511.2,47.1 511.3,53.1 511.3,59.4 511.4,60.7 511.5,51.1 511.5,46.5 511.6,49.7 511.6,47.4 511.7,62.4 511.8,62.7 511.8,52.3 511.9,48.0 512.0,60.7 512.0,43.1 512.1,54.7 512.1,63.7 512.2,51.5 512.3,42.4 512.3,43.2 512.4,43.2 512.4,73.3 512.5,45.2 512.6,56.9 512.6,45.0 512.7,52.8 512.7,56.2 512.8,63.9 512.9,56.8 512.9,61.4 513.0,61.4 513.1,55.2 513.1,59.6 513.2,61.6 513.2,57.2 513.3,61.2 513.4,51.5 513.4,61.8 513.5,57.3 513.5,62.8 513.6,57.5 513.7,62.4 513.7,51.2 513.8,45.6 513.8,63.5 513.9,55.0 514.0,54.3 514.0,63.8 514.1,42.9 514.1,61.9 514.2,62.2 514.3,63.4 514.3,56.4 514.4,49.5 514.5,52.6 514.5,54.8 514.6,59.0 514.6,52.1 514.7,59.1 514.8,55.1 514.8,49.7 514.9,64.5 514.9,61.6 515.0,54.6 515.1,59.2 515.1,61.3 515.2,42.9 515.2,64.2 515.3,58.1 515.4,61.1 515.4,59.8 515.5,43.7 515.6,57.1 515.6,51.8 515.7,51.3 515.7,44.6 515.8,43.9 515.9,56.8 515.9,48.9 516.0,61.3 516.0,48.4 516.1,58.0 516.2,68.9 516.2,45.3 516.3,58.1 516.3,47.2 516.4,45.1 516.5,41.9 516.5,54.9 516.6,42.7 516.7,51.4 516.7,51.2 516.8,61.3 516.8,56.5 516.9,53.7 517.0,50.3 517.0,57.4 517.1,46.1 517.1,43.1 517.2,59.3 517.3,60.1 517.3,61.7 517.4,58.6 517.4,46.1 517.5,58.6 517.6,50.6 517.6,51.1 517.7,41.9 517.7,53.9 517.8,58.9 517.9,51.9 517.9,55.0 518.0,60.4 518.1,43.6 518.1,55.8 518.2,63.6 518.2,44.5 518.3,44.6 518.4,54.3 518.4,45.5 518.5,52.3 518.5,49.8 518.6,69.7 518.7,61.0 518.7,42.6 518.8,64.0 518.8,63.3 518.9,53.4 519.0,59.5 519.0,44.8 519.1,43.7 519.2,56.4 519.2,67.1 519.3,50.8 519.3,54.6 519.4,41.1 519.5,54.6 519.5,49.2 519.6,41.7 519.6,42.6 519.7,59.5 519.8,53.0 519.8,50.8 519.9,45.9 519.9,44.1 520.0,43.3 520.1,50.5 520.1,45.3 520.2,44.1 520.3,61.6 520.3,41.5 520.4,56.0 520.4,63.8 520.5,57.3 520.6,48.9 520.6,55.0 520.7,50.2 520.7,46.0 520.8,56.7 520.9,59.4 520.9,47.2 521.0,62.2 521.0,43.1 521.1,45.2 521.2,56.8 521.2,53.4 521.3,48.0 521.3,44.2 521.4,42.6 521.5,53.2 521.5,54.7 521.6,62.4 521.7,41.3 521.7,57.0 521.8,57.7 521.8,42.4 521.9,45.9 522.0,52.2 522.0,49.3 522.1,43.5 522.1,54.2 522.2,63.5 522.3,42.6 522.3,60.6 522.4,44.5 522.4,60.0 522.5,57.7 522.6,63.8 522.6,51.6 522.7,43.2 522.8,51.7 522.8,61.1 522.9,60.8 522.9,46.2 523.0,57.9 523.1,46.0 523.1,50.0 523.2,54.8 523.2,54.0 523.3,45.5 523.4,42.6 523.4,61.0 523.5,46.6 523.5,49.8 523.6,57.6 523.7,58.3 523.7,58.0 523.8,51.2 523.9,46.0 523.9,62.0 524.0,53.0 524.0,45.7 524.1,57.8 524.2,52.8 524.2,55.6 524.3,51.5 524.3,61.0 524.4,47.9 524.5,60.6 524.5,51.4 524.6,59.2 524.6,49.7 524.7,61.5 524.8,57.5 524.8,45.3 524.9,60.6 524.9,58.0 525.0,48.7 525.1,49.6 525.1,61.8 525.2,51.1 525.3,42.6 525.3,61.0 525.4,73.1 525.4,62.5 525.5,48.2 525.6,61.2 525.6,54.1 525.7,57.9 525.7,44.6 525.8,57.5 525.9,55.5 525.9,47.2 526.0,61.0 526.0,50.8 526.1,59.6 526.2,59.1 526.2,40.7 526.3,61.5 526.4,58.1 526.4,55.8 526.5,47.6 526.5,58.8 526.6,60.2 526.7,56.8 526.7,49.3 526.8,41.1 526.8,50.1 526.9,63.1 527.0,55.3 527.0,51.5 527.1,45.3 527.1,41.9 527.2,61.0 527.3,46.5 527.3,49.4 527.4,51.0 527.5,53.5 527.5,51.0 527.6,58.6 527.6,64.2 527.7,59.5 527.8,65.0 527.8,47.9 527.9,59.1 527.9,54.9 528.0,51.9" stroke="#000" stroke-width="0.85"/>
<path d="M345.0,107.3 345.1,106.7 345.1,114.3 345.2,113.9 345.2,108.6 345.3,102.6 345.4,103.8 345.4,105.9 345.5,109.3 345.5,102.4 345.6,108.8 345.7,113.9 345.7,107.8 345.8,114.6 345.9,104.7 345.9,109.1 346.0,105.7 346.0,103.7 346.1,104.1 346.2,104.0 346.2,104.2 346.3,108.8 346.3,113.9 346.4,111.1 346.5,106.5 346.5,110.9 346.6,102.4 346.6,111.3 346.7,106.4 346.8,114.1 346.8,109.2 346.9,104.9 347.0,103.7 347.0,114.7 347.1,105.1 347.1,103.0 347.2,115.2 347.3,104.7 347.3,114.9 347.4,105.8 347.4,102.1 347.5,114.1 347.6,105.8 347.6,114.5 347.7,108.6 347.7,112.3 347.8,109.5 347.9,106.2 347.9,113.9 348.0,112.5 348.1,114.8 348.1,110.8 348.2,115.5 348.2,116.6 348.3,107.6 348.4,107.9 348.4,117.1 348.5,108.7 348.5,108.0 348.6,112.8 348.7,113.3 348.7,114.3 348.8,109.4 348.8,115.5 348.9,110.6 349.0,113.2 349.0,111.5 349.1,108.4 349.1,114.9 349.2,113.1 349.3,110.4 349.3,112.7 349.4,107.9 349.5,114.5 349.5,103.8 349.6,103.2 349.6,114.1 349.7,109.5 349.8,111.2 349.8,110.8 349.9,113.0 349.9,107.7 350.0,104.0 350.1,111.9 350.1,103.6 350.2,104.2 350.2,105.7 350.3,102.1 350.4,106.0 350.4,103.4 350.5,100.7 350.6,102.7 350.6,106.5 350.7,110.5 350.7,106.7 350.8,105.4 350.9,106.0 350.9,110.5 351.0,105.8 351.0,111.3 351.1,114.0 351.2,103.0 351.2,103.1 351.3,109.9 351.3,108.4 351.4,115.5 351.5,104.0 351.5,112.1 351.6,108.7 351.7,115.1 351.7,115.3 351.8,109.4 351.8,108.5 351.9,104.6 352.0,108.7 352.0,110.2 352.1,109.9 352.1,113.9 352.2,112.6 352.3,108.5 352.3,114.7 352.4,112.4 352.4,114.2 352.5,116.4 352.6,110.7 352.6,112.3 352.7,109.7 352.7,111.9 352.8,116.2 352.9,105.7 352.9,117.2 353.0,117.0 353.1,117.6 353.1,107.7 353.2,113.3 353.2,105.3 353.3,113.8 353.4,112.3 353.4,107.8 353.5,103.6 353.5,103.6 353.6,111.1 353.7,107.3 353.7,115.9 353.8,109.8 353.8,109.2 353.9,113.5 354.0,108.2 354.0,112.9 354.1,107.4 354.2,117.1 354.2,111.4 354.3,105.9 354.3,109.8 354.4,106.5 354.5,106.6 354.5,109.0 354.6,108.1 354.6,109.0 354.7,112.6 354.8,108.9 354.8,109.4 354.9,108.6 354.9,120.3 355.0,120.0 355.1,114.8 355.1,111.2 355.2,115.0 355.3,115.5 355.3,120.0 355.4,111.9 355.4,107.6 355.5,112.0 355.6,117.2 355.6,111.7 355.7,114.5 355.7,114.7 355.8,119.0 355.9,110.2 355.9,118.9 356.0,107.3 356.0,118.6 356.1,108.3 356.2,113.6 356.2,112.9 356.3,110.9 356.3,114.3 356.4,113.7 356.5,107.3 356.5,104.9 356.6,115.2 356.7,113.2 356.7,104.0 356.8,107.8 356.8,105.2 356.9,112.3 357.0,107.4 357.0,108.4 357.1,107.6 357.1,111.0 357.2,113.7 357.3,112.5 357.3,115.4 357.4,116.7 357.4,112.2 357.5,105.6 357.6,112.5 357.6,109.1 357.7,105.9 357.8,115.7 357.8,112.7 357.9,112.8 357.9,108.5 358.0,105.9 358.1,117.7 358.1,110.4 358.2,118.0 358.2,113.7 358.3,112.3 358.4,113.9 358.4,112.1 358.5,112.8 358.5,110.8 358.6,114.0 358.7,113.1 358.7,115.2 358.8,112.9 358.9,108.7 358.9,117.3 359.0,105.3 359.0,116.9 359.1,108.3 359.2,115.2 359.2,117.9 359.3,108.5 359.3,111.1 359.4,115.0 359.5,113.2 359.5,106.8 359.6,109.0 359.6,114.7 359.7,115.0 359.8,110.7 359.8,116.2 359.9,114.8 359.9,107.3 360.0,108.1 360.1,117.3 360.1,111.8 360.2,111.8 360.3,107.4 360.3,111.1 360.4,113.9 360.4,106.2 360.5,114.0 360.6,108.1 360.6,112.7 360.7,108.2 360.7,114.3 360.8,105.4 360.9,112.5 360.9,108.5 361.0,107.9 361.0,111.7 361.1,110.4 361.2,115.6 361.2,110.2 361.3,110.5 361.4,105.5 361.4,112.7 361.5,115.1 361.5,111.7 361.6,107.4 361.7,118.3 361.7,118.0 361.8,104.8 361.8,110.8 361.9,108.9 362.0,112.2 362.0,116.0 362.1,109.6 362.1,116.0 362.2,112.9 362.3,116.1 362.3,106.6 362.4,113.0 362.5,108.9 362.5,115.5 362.6,109.8 362.6,114.7 362.7,117.2 362.8,114.7 362.8,117.7 362.9,110.7 362.9,111.2 363.0,107.0 363.1,118.1 363.1,112.7 363.2,104.8 363.2,113.4 363.3,116.2 363.4,108.1 363.4,115.7 363.5,108.7 363.6,110.3 363.6,106.9 363.7,110.4 363.7,108.9 363.8,113.1 363.9,105.0 363.9,113.2 364.0,106.9 364.0,109.0 364.1,111.1 364.2,111.7 364.2,114.7 364.3,107.5 364.3,113.4 364.4,107.1 364.5,106.9 364.5,114.4 364.6,113.8 364.6,109.4 364.7,108.6 364.8,116.2 364.8,107.8 364.9,108.3 365.0,109.5 365.0,106.6 365.1,106.6 365.1,115.0 365.2,106.8 365.3,107.7 365.3,110.8 365.4,116.7 365.4,108.4 365.5,111.2 365.6,114.3 365.6,114.3 365.7,107.8 365.7,115.0 365.8,109.1 365.9,113.3 365.9,110.2 366.0,109.3 366.1,117.2 366.1,115.5 366.2,117.0 366.2,113.7 366.3,116.1 366.4,108.0 366.4,109.0 366.5,112.3 366.5,116.2 366.6,115.8 366.7,111.5 366.7,108.6 366.8,108.6 366.8,108.6 366.9,114.7 367.0,111.0 367.0,112.1 367.1,111.9 367.2,111.4 367.2,114.9 367.3,115.4 367.3,113.1 367.4,114.7 367.5,108.7 367.5,113.5 367.6,117.1 367.6,109.9 367.7,106.5 367.8,111.8 367.8,114.6 367.9,108.0 367.9,111.2 368.0,110.8 368.1,112.9 368.1,109.1 368.2,110.0 368.2,111.4 368.3,113.7 368.4,108.9 368.4,107.7 368.5,116.1 368.6,117.1 368.6,117.1 368.7,108.7 368.7,111.9 368.8,114.7 368.9,108.4 368.9,108.8 369.0,113.6 369.0,114.0 369.1,112.1 369.2,111.7 369.2,108.9 369.3,108.1 369.3,114.6 369.4,109.1 369.5,117.6 369.5,116.3 369.6,114.1 369.7,118.3 369.7,115.5 369.8,119.0 369.8,110.7 369.9,112.3 370.0,117.1 370.0,114.0 370.1,115.5 370.1,110.8 370.2,116.8 370.3,117.3 370.3,111.3 370.4,112.1 370.4,113.2 370.5,120.9 370.6,121.4 370.6,112.2 370.7,111.9 370.8,120.2 370.8,117.3 370.9,117.8 370.9,119.8 371.0,121.1 371.1,119.7 371.1,112.3 371.2,118.0 371.2,120.3 371.3,121.0 371.4,115.5 371.4,113.2 371.5,119.0 371.5,113.7 371.6,121.4 371.7,120.2 371.7,114.8 371.8,121.0 371.8,117.5 371.9,117.0 372.0,121.7 372.0,112.3 372.1,113.4 372.2,112.5 372.2,114.1 372.3,118.4 372.3,113.8 372.4,115.4 372.5,114.5 372.5,113.3 372.6,118.1 372.6,111.5 372.7,116.0 372.8,117.5 372.8,115.7 372.9,110.6 372.9,112.9 373.0,120.0 373.1,118.5 373.1,114.0 373.2,110.6 373.3,114.9 373.3,114.8 373.4,120.5 373.4,118.4 373.5,111.4 373.6,118.1 373.6,114.9 373.7,113.6 373.7,114.2 373.8,111.9 373.9,113.0 373.9,116.2 374.0,112.7 374.0,112.1 374.1,118.3 374.2,109.1 374.2,113.0 374.3,109.2 374.4,110.6 374.4,118.6 374.5,118.6 374.5,110.1 374.6,116.0 374.7,109.5 374.7,108.9 374.8,110.9 374.8,112.4 374.9,114.0 375.0,109.7 375.0,112.5 375.1,118.1 375.1,111.8 375.2,116.2 375.3,118.8 375.3,116.5 375.4,111.7 375.4,112.8 375.5,117.6 375.6,112.9 375.6,116.2 375.7,118.4 375.8,120.2 375.8,113.8 375.9,118.4 375.9,115.9 376.0,118.3 376.1,113.8 376.1,119.7 376.2,117.3 376.2,113.8 376.3,111.7 376.4,112.6 376.4,118.0 376.5,117.1 376.5,116.1 376.6,111.5 376.7,119.2 376.7,111.9 376.8,119.2 376.9,111.1 376.9,119.1 377.0,116.7 377.0,116.4 377.1,113.1 377.2,116.7 377.2,111.6 377.3,110.5 377.3,113.9 377.4,121.2 377.5,121.1 377.5,114.1 377.6,118.5 377.6,118.0 377.7,114.1 377.8,115.7 377.8,117.7 377.9,119.7 378.0,121.3 378.0,120.9 378.1,121.5 378.1,117.6 378.2,112.1 378.3,121.3 378.3,116.7 378.4,115.7 378.4,112.6 378.5,111.6 378.6,115.3 378.6,116.6 378.7,115.2 378.7,118.0 378.8,114.6 378.9,114.0 378.9,120.5 379.0,117.4 379.0,119.8 379.1,122.5 379.2,119.5 379.2,117.8 379.3,118.6 379.4,119.8 379.4,118.9 379.5,119.7 379.5,125.1 379.6,118.1 379.7,117.1 379.7,120.6 379.8,118.4 379.8,123.0 379.9,117.9 380.0,120.3 380.0,118.6 380.1,118.1 380.1,120.4 380.2,122.9 380.3,114.9 380.3,115.7 380.4,120.3 380.5,120.7 380.5,115.6 380.6,117.3 380.6,121.7 380.7,115.9 380.8,120.8 380.8,115.4 380.9,122.9 380.9,113.3 381.0,119.7 381.1,113.8 381.1,121.0 381.2,120.0 381.2,121.2 381.3,117.7 381.4,121.1 381.4,116.6 381.5,117.0 381.6,116.1 381.6,119.4 381.7,120.2 381.7,122.1 381.8,119.5 381.9,119.7 381.9,122.0 382.0,119.2 382.0,123.1 382.1,119.4 382.2,120.8 382.2,118.5 382.3,116.4 382.3,124.4 382.4,120.7 382.5,124.4 382.5,122.0 382.6,117.7 382.6,118.9 382.7,117.9 382.8,116.9 382.8,122.5 382.9,122.1 383.0,124.3 383.0,122.6 383.1,119.9 383.1,119.7 383.2,118.8 383.3,120.8 383.3,125.8 383.4,119.4 383.4,117.1 383.5,116.8 383.6,126.2 383.6,123.4 383.7,121.6 383.7,120.2 383.8,118.4 383.9,126.7 383.9,117.2 384.0,122.7 384.1,116.6 384.1,118.5 384.2,122.9 384.2,117.5 384.3,122.3 384.4,126.2 384.4,125.9 384.5,122.2 384.5,119.7 384.6,124.8 384.7,118.7 384.7,126.3 384.8,119.1 384.8,123.1 384.9,121.0 385.0,124.7 385.0,123.2 385.1,124.6 385.2,122.4 385.2,119.2 385.3,120.6 385.3,119.7 385.4,124.2 385.5,125.4 385.5,122.1 385.6,118.9 385.6,121.3 385.7,126.3 385.8,120.0 385.8,119.5 385.9,120.9 385.9,120.5 386.0,121.6 386.1,122.9 386.1,124.3 386.2,120.9 386.2,124.1 386.3,126.2 386.4,118.5 386.4,118.8 386.5,128.2 386.6,121.2 386.6,123.4 386.7,126.6 386.7,126.7 386.8,128.6 386.9,126.2 386.9,128.4 387.0,123.5 387.0,121.0 387.1,127.4 387.2,128.3 387.2,125.5 387.3,129.6 387.3,129.4 387.4,129.5 387.5,123.5 387.5,126.8 387.6,123.9 387.7,123.1 387.7,128.4 387.8,129.7 387.8,131.0 387.9,124.4 388.0,126.8 388.0,123.3 388.1,125.5 388.1,130.4 388.2,127.2 388.3,127.8 388.3,130.5 388.4,130.1 388.4,124.0 388.5,124.6 388.6,127.2 388.6,130.9 388.7,129.9 388.8,128.3 388.8,125.7 388.9,129.1 388.9,125.5 389.0,129.2 389.1,126.9 389.1,126.1 389.2,130.1 389.2,130.1 389.3,135.0 389.4,135.0 389.4,128.6 389.5,135.3 389.5,135.2 389.6,132.2 389.7,127.3 389.7,127.0 389.8,129.8 389.8,134.7 389.9,136.5 390.0,134.4 390.0,138.5 390.1,136.0 390.2,131.9 390.2,132.7 390.3,129.9 390.3,136.4 390.4,135.7 390.5,132.3 390.5,138.1 390.6,138.3 390.6,130.1 390.7,137.0 390.8,131.5 390.8,136.6 390.9,131.6 390.9,132.6 391.0,138.2 391.1,140.3 391.1,133.6 391.2,138.1 391.3,138.1 391.3,134.0 391.4,137.1 391.4,138.9 391.5,133.2 391.6,133.5 391.6,133.9 391.7,139.0 391.7,132.2 391.8,136.5 391.9,138.5 391.9,140.3 392.0,133.2 392.0,134.1 392.1,131.9 392.2,140.8 392.2,141.1 392.3,132.2 392.4,138.3 392.4,137.7 392.5,139.7 392.5,135.4 392.6,138.1 392.7,140.1 392.7,130.8 392.8,140.1 392.8,138.1 392.9,139.6 393.0,133.7 393.0,134.7 393.1,133.8 393.1,138.5 393.2,135.7 393.3,135.8 393.3,136.1 393.4,144.3 393.5,140.7 393.5,139.7 393.6,143.4 393.6,138.5 393.7,140.6 393.8,139.6 393.8,140.6 393.9,144.2 393.9,147.4 394.0,146.6 394.1,144.7 394.1,140.5 394.2,148.3 394.2,142.1 394.3,147.2 394.4,143.9 394.4,141.2 394.5,144.9 394.5,146.8 394.6,146.1 394.7,142.7 394.7,143.1 394.8,143.3 394.9,147.8 394.9,141.6 395.0,141.6 395.0,144.6 395.1,146.9 395.2,143.9 395.2,142.1 395.3,145.1 395.3,144.2 395.4,142.6 395.5,141.0 395.5,149.1 395.6,142.8 395.6,148.9 395.7,146.8 395.8,142.7 395.8,148.0 395.9,143.0 396.0,141.9 396.0,142.9 396.1,141.2 396.1,143.3 396.2,143.3 396.3,138.5 396.3,145.6 396.4,146.8 396.4,143.8 396.5,142.4 396.6,144.7 396.6,138.7 396.7,144.7 396.7,146.0 396.8,142.2 396.9,144.8 396.9,140.3 397.0,143.5 397.1,143.7 397.1,140.2 397.2,141.1 397.2,147.3 397.3,141.3 397.4,141.3 397.4,143.8 397.5,143.4 397.5,141.7 397.6,140.1 397.7,140.2 397.7,139.7 397.8,142.5 397.8,144.9 397.9,140.0 398.0,146.0 398.0,147.3 398.1,146.5 398.1,147.1 398.2,143.6 398.3,144.1 398.3,138.1 398.4,139.8 398.5,140.4 398.5,141.2 398.6,146.2 398.6,147.0 398.7,139.9 398.8,139.9 398.8,148.0 398.9,144.3 398.9,145.3 399.0,143.1 399.1,144.0 399.1,143.7 399.2,142.3 399.2,140.7 399.3,140.1 399.4,144.1 399.4,145.4 399.5,139.5 399.6,148.5 399.6,140.8 399.7,147.5 399.7,145.0 399.8,138.3 399.9,144.8 399.9,147.5 400.0,146.3 400.0,138.4 400.1,143.8 400.2,144.5 400.2,138.8 400.3,140.6 400.3,146.5 400.4,147.3 400.5,139.4 400.5,144.4 400.6,143.7 400.7,147.0 400.7,143.5 400.8,138.9 400.8,138.4 400.9,145.8 401.0,141.5 401.0,147.2 401.1,143.3 401.1,140.8 401.2,146.9 401.3,143.5 401.3,147.7 401.4,147.0 401.4,143.1 401.5,146.4 401.6,147.1 401.6,146.0 401.7,141.3 401.7,144.8 401.8,142.3 401.9,146.2 401.9,142.9 402.0,148.4 402.1,148.1 402.1,146.1 402.2,140.4 402.2,147.7 402.3,145.4 402.4,139.3 402.4,147.0 402.5,147.9 402.5,146.5 402.6,143.8 402.7,140.0 402.7,148.4 402.8,143.3 402.8,148.6 402.9,138.6 403.0,144.1 403.0,141.7 403.1,146.1 403.2,144.2 403.2,140.7 403.3,148.1 403.3,146.9 403.4,145.5 403.5,139.9 403.5,139.3 403.6,140.7 403.6,145.9 403.7,145.2 403.8,140.3 403.8,143.3 403.9,144.0 403.9,137.1 404.0,144.2 404.1,139.6 404.1,145.3 404.2,137.5 404.3,144.4 404.3,138.1 404.4,140.3 404.4,138.9 404.5,140.7 404.6,145.5 404.6,143.0 404.7,136.5 404.7,145.2 404.8,140.4 404.9,141.3 404.9,142.5 405.0,144.0 405.0,144.2 405.1,145.2 405.2,144.9 405.2,146.7 405.3,139.6 405.3,138.0 405.4,145.6 405.5,147.4 405.5,143.9 405.6,146.4 405.7,143.7 405.7,144.8 405.8,141.6 405.8,139.8 405.9,138.2 406.0,139.9 406.0,139.1 406.1,138.2 406.1,144.3 406.2,146.9 406.3,147.0 406.3,144.6 406.4,141.3 406.4,140.1 406.5,146.9 406.6,142.8 406.6,147.4 406.7,142.1 406.8,139.5 406.8,145.3 406.9,141.8 406.9,141.9 407.0,141.7 407.1,147.1 407.1,143.6 407.2,148.3 407.2,145.5 407.3,148.8 407.4,140.0 407.4,145.9 407.5,146.5 407.5,139.7 407.6,144.7 407.7,143.6 407.7,140.0 407.8,143.4 407.9,144.1 407.9,141.5 408.0,145.4 408.0,147.6 408.1,142.6 408.2,145.4 408.2,140.4 408.3,145.1 408.3,141.3 408.4,149.2 408.5,149.2 408.5,147.7 408.6,142.9 408.6,146.8 408.7,145.3 408.8,148.6 408.8,148.8 408.9,148.2 408.9,149.2 409.0,149.2 409.1,145.8 409.1,149.2 409.2,143.2 409.3,146.9 409.3,149.2 409.4,149.2 409.4,149.2 409.5,146.0 409.6,149.2 409.6,146.7 409.7,148.0 409.7,148.7 409.8,143.6 409.9,146.7 409.9,148.6 410.0,149.2 410.0,148.3 410.1,148.8 410.2,144.5 410.2,143.4 410.3,144.2 410.4,143.0 410.4,143.0 410.5,144.4 410.5,148.1 410.6,142.9 410.7,149.1 410.7,145.0 410.8,148.0 410.8,142.6 410.9,142.6 411.0,145.7 411.0,142.1 411.1,140.9 411.1,143.7 411.2,145.6 411.3,147.4 411.3,139.6 411.4,147.6 411.5,146.2 411.5,140.3 411.6,147.5 411.6,146.7 411.7,143.7 411.8,145.6 411.8,147.6 411.9,140.2 411.9,146.4 412.0,139.0 412.1,147.8 412.1,145.8 412.2,143.0 412.2,147.3 412.3,143.2 412.4,143.1 412.4,141.9 412.5,138.9 412.5,144.3 412.6,139.9 412.7,145.9 412.7,141.8 412.8,144.1 412.9,140.4 412.9,143.2 413.0,139.6 413.0,146.9 413.1,145.6 413.2,143.2 413.2,142.4 413.3,145.3 413.3,140.3 413.4,144.1 413.5,138.6 413.5,138.5 413.6,147.7 413.6,142.1 413.7,139.5 413.8,147.6 413.8,141.1 413.9,142.4 414.0,143.0 414.0,145.3 414.1,141.6 414.1,146.5 414.2,147.4 414.3,146.1 414.3,139.4 414.4,145.3 414.4,147.7 414.5,145.0 414.6,140.9 414.6,142.8 414.7,141.4 414.7,140.6 414.8,146.0 414.9,145.7 414.9,140.4 415.0,144.9 415.1,143.9 415.1,140.9 415.2,142.7 415.2,140.0 415.3,148.9 415.4,142.8 415.4,144.2 415.5,145.0 415.5,146.0 415.6,145.1 415.7,140.3 415.7,143.6 415.8,145.9 415.8,141.3 415.9,139.6 416.0,144.2 416.0,147.3 416.1,141.5 416.1,141.8 416.2,142.6 416.3,149.0 416.3,148.2 416.4,139.6 416.5,143.7 416.5,146.8 416.6,149.0 416.6,144.6 416.7,145.9 416.8,147.5 416.8,142.8 416.9,147.5 416.9,139.9 417.0,147.2 417.1,141.0 417.1,146.5 417.2,147.3 417.2,142.7 417.3,144.5 417.4,148.2 417.4,142.4 417.5,144.8 417.6,144.9 417.6,147.0 417.7,142.3 417.7,143.9 417.8,149.2 417.9,142.0 417.9,145.0 418.0,148.3 418.0,149.2 418.1,149.2 418.2,149.2 418.2,148.5 418.3,145.7 418.3,148.7 418.4,142.6 418.5,145.1 418.5,146.2 418.6,145.8 418.7,147.3 418.7,143.8 418.8,147.2 418.8,147.0 418.9,144.7 419.0,143.2 419.0,146.4 419.1,142.9 419.1,146.5 419.2,141.1 419.3,148.5 419.3,143.8 419.4,145.9 419.4,144.9 419.5,148.3 419.6,146.0 419.6,147.7 419.7,142.0 419.7,141.1 419.8,141.2 419.9,140.0 419.9,145.7 420.0,143.1 420.1,139.9 420.1,144.8 420.2,144.4 420.2,143.5 420.3,149.2 420.4,140.9 420.4,145.7 420.5,142.0 420.5,148.4 420.6,144.6 420.7,143.5 420.7,141.2 420.8,142.6 420.8,142.5 420.9,139.3 421.0,145.9 421.0,144.0 421.1,139.0 421.2,143.6 421.2,142.6 421.3,143.6 421.3,139.3 421.4,141.8 421.5,140.6 421.5,147.7 421.6,144.0 421.6,140.7 421.7,146.6 421.8,140.1 421.8,138.7 421.9,140.6 421.9,141.1 422.0,145.7 422.1,147.5 422.1,138.6 422.2,144.1 422.3,139.1 422.3,141.9 422.4,139.4 422.4,148.0 422.5,140.3 422.6,141.2 422.6,142.9 422.7,146.5 422.7,146.4 422.8,138.6 422.9,143.4 422.9,140.4 423.0,138.2 423.0,145.7 423.1,147.2 423.2,147.3 423.2,142.6 423.3,138.5 423.4,138.4 423.4,140.3 423.5,146.1 423.5,143.0 423.6,143.9 423.7,143.8 423.7,143.6 423.8,145.2 423.8,140.7 423.9,142.4 424.0,142.5 424.0,142.8 424.1,137.5 424.1,142.2 424.2,143.5 424.3,142.2 424.3,143.3 424.4,142.5 424.4,141.9 424.5,143.4 424.6,139.4 424.6,144.2 424.7,136.5 424.8,137.6 424.8,142.0 424.9,140.5 424.9,146.4 425.0,145.5 425.1,139.7 425.1,143.9 425.2,141.5 425.2,140.4 425.3,141.6 425.4,143.9 425.4,144.8 425.5,148.3 425.5,140.2 425.6,142.0 425.7,148.5 425.7,141.2 425.8,146.1 425.9,139.6 425.9,146.9 426.0,148.0 426.0,139.6 426.1,139.4 426.2,143.8 426.2,139.7 426.3,147.6 426.3,146.9 426.4,138.9 426.5,138.9 426.5,141.3 426.6,144.8 426.6,141.1 426.7,148.5 426.8,145.4 426.8,140.0 426.9,146.0 427.0,146.8 427.0,142.6 427.1,141.0 427.1,145.2 427.2,140.3 427.3,138.9 427.3,146.4 427.4,144.9 427.4,140.2 427.5,143.4 427.6,141.2 427.6,145.7 427.7,140.5 427.7,140.7 427.8,141.8 427.9,140.6 427.9,144.7 428.0,143.5 428.0,140.8 428.1,142.1 428.2,143.6 428.2,148.6 428.3,146.6 428.4,144.8 428.4,141.9 428.5,140.2 428.5,139.4 428.6,145.7 428.7,139.6 428.7,145.9 428.8,147.8 428.8,140.4 428.9,149.2 429.0,145.4 429.0,142.5 429.1,143.7 429.1,141.1 429.2,144.8 429.3,145.1 429.3,146.0 429.4,143.2 429.5,144.0 429.5,144.4 429.6,142.2 429.6,143.6 429.7,142.3 429.8,144.0 429.8,141.5 429.9,146.7 429.9,145.2 430.0,146.0 430.1,140.3 430.1,143.4 430.2,139.0 430.2,142.6 430.3,139.4 430.4,141.1 430.4,139.1 430.5,144.7 430.6,137.3 430.6,144.2 430.7,140.0 430.7,140.6 430.8,143.5 430.9,146.0 430.9,146.1 431.0,145.9 431.0,140.5 431.1,140.6 431.2,145.4 431.2,146.1 431.3,146.5 431.3,141.0 431.4,139.3 431.5,138.1 431.5,142.9 431.6,140.3 431.6,144.6 431.7,147.7 431.8,142.3 431.8,144.3 431.9,144.0 432.0,147.6 432.0,142.1 432.1,140.6 432.1,142.4 432.2,148.0 432.3,146.4 432.3,146.9 432.4,138.8 432.4,145.4 432.5,148.1 432.6,141.4 432.6,147.0 432.7,147.9 432.7,144.6 432.8,147.6 432.9,142.8 432.9,142.9 433.0,144.1 433.1,141.2 433.1,139.1 433.2,144.0 433.2,144.1 433.3,140.5 433.4,142.7 433.4,143.6 433.5,136.5 433.5,144.3 433.6,142.2 433.7,143.1 433.7,138.2 433.8,140.3 433.8,137.9 433.9,144.5 434.0,138.5 434.0,139.9 434.1,145.7 434.2,145.4 434.2,139.9 434.3,143.9 434.3,146.8 434.4,147.6 434.5,146.0 434.5,141.4 434.6,146.6 434.6,146.4 434.7,139.3 434.8,145.7 434.8,141.2 434.9,140.1 434.9,141.7 435.0,143.0 435.1,144.2 435.1,141.5 435.2,144.6 435.2,140.6 435.3,141.2 435.4,147.0 435.4,147.9 435.5,140.9 435.6,143.8 435.6,141.8 435.7,140.3 435.7,142.0 435.8,145.3 435.9,141.0 435.9,144.1 436.0,142.6 436.0,147.5 436.1,137.7 436.2,145.3 436.2,137.1 436.3,139.1 436.3,143.5 436.4,141.5 436.5,144.3 436.5,146.4 436.6,141.6 436.7,146.2 436.7,145.4 436.8,146.8 436.8,141.6 436.9,140.6 437.0,138.1 437.0,145.7 437.1,138.5 437.1,141.7 437.2,147.4 437.3,144.2 437.3,138.1 437.4,140.0 437.4,140.3 437.5,139.2 437.6,137.0 437.6,141.2 437.7,145.5 437.8,146.1 437.8,139.9 437.9,143.5 437.9,136.1 438.0,136.1 438.1,140.2 438.1,139.6 438.2,144.3 438.2,137.6 438.3,141.0 438.4,138.0 438.4,140.8 438.5,136.3 438.5,143.0 438.6,135.2 438.7,138.1 438.7,142.4 438.8,141.2 438.8,143.4 438.9,140.5 439.0,136.7 439.0,141.1 439.1,142.9 439.2,142.0 439.2,142.4 439.3,142.5 439.3,142.4 439.4,140.5 439.5,140.5 439.5,147.2 439.6,137.8 439.6,143.9 439.7,143.1 439.8,141.8 439.8,138.2 439.9,146.4 439.9,139.1 440.0,140.9 440.1,143.1 440.1,144.1 440.2,142.8 440.3,140.6 440.3,143.1 440.4,138.3 440.4,142.7 440.5,143.9 440.6,139.5 440.6,147.9 440.7,139.2 440.7,143.2 440.8,147.0 440.9,140.9 440.9,145.6 441.0,143.0 441.0,142.3 441.1,138.1 441.2,141.0 441.2,143.3 441.3,141.4 441.4,141.2 441.4,146.7 441.5,144.5 441.5,146.7 441.6,147.3 441.7,145.2 441.7,148.5 441.8,146.7 441.8,146.3 441.9,142.4 442.0,143.3 442.0,146.5 442.1,137.5 442.1,139.9 442.2,140.5 442.3,140.8 442.3,139.7 442.4,145.1 442.4,139.6 442.5,143.4 442.6,145.5 442.6,144.4 442.7,139.1 442.8,143.2 442.8,138.6 442.9,137.5 442.9,137.9 443.0,142.0 443.1,141.6 443.1,140.5 443.2,145.6 443.2,138.5 443.3,138.6 443.4,145.4 443.4,144.3 443.5,141.1 443.5,138.0 443.6,144.2 443.7,139.1 443.7,147.3 443.8,142.2 443.9,144.9 443.9,139.3 444.0,146.0 444.0,147.0 444.1,143.7 444.2,139.6 444.2,139.7 444.3,144.2 444.3,140.2 444.4,146.6 444.5,143.7 444.5,139.5 444.6,146.2 444.6,146.2 444.7,145.2 444.8,146.8 444.8,143.5 444.9,144.2 445.0,142.4 445.0,148.3 445.1,139.8 445.1,144.0 445.2,147.9 445.3,142.5 445.3,147.5 445.4,146.9 445.4,141.5 445.5,148.4 445.6,139.8 445.6,147.1 445.7,144.1 445.7,149.2 445.8,140.4 445.9,141.3 445.9,143.8 446.0,147.8 446.0,147.0 446.1,144.6 446.2,147.4 446.2,143.8 446.3,140.1 446.4,147.9 446.4,146.6 446.5,140.0 446.5,140.5 446.6,149.0 446.7,148.7 446.7,143.2 446.8,141.2 446.8,140.2 446.9,148.6 447.0,145.5 447.0,145.3 447.1,141.5 447.1,145.2 447.2,149.2 447.3,148.8 447.3,144.1 447.4,147.8 447.5,143.8 447.5,143.3 447.6,143.9 447.6,143.8 447.7,149.2 447.8,142.8 447.8,149.2 447.9,144.9 447.9,148.9 448.0,146.2 448.1,142.2 448.1,142.2 448.2,141.3 448.2,142.8 448.3,144.7 448.4,141.7 448.4,149.2 448.5,149.2 448.6,140.7 448.6,142.1 448.7,145.3 448.7,146.7 448.8,139.2 448.9,147.5 448.9,146.2 449.0,139.0 449.0,140.8 449.1,139.9 449.2,139.0 449.2,138.8 449.3,144.6 449.3,146.3 449.4,142.8 449.5,144.4 449.5,144.9 449.6,142.7 449.6,139.1 449.7,142.8 449.8,144.4 449.8,145.4 449.9,138.8 450.0,140.2 450.0,144.9 450.1,139.2 450.1,147.4 450.2,147.0 450.3,145.5 450.3,140.6 450.4,142.9 450.4,141.9 450.5,140.3 450.6,139.2 450.6,140.6 450.7,144.6 450.7,143.9 450.8,149.2 450.9,148.9 450.9,145.4 451.0,146.6 451.1,144.7 451.1,149.2 451.2,140.6 451.2,145.0 451.3,148.7 451.4,144.0 451.4,144.6 451.5,143.3 451.5,140.4 451.6,146.1 451.7,149.2 451.7,148.5 451.8,146.1 451.8,147.8 451.9,145.2 452.0,143.9 452.0,144.9 452.1,149.2 452.2,149.2 452.2,149.2 452.3,142.3 452.3,144.2 452.4,143.2 452.5,144.5 452.5,141.6 452.6,138.7 452.6,142.9 452.7,146.4 452.8,141.8 452.8,146.8 452.9,141.8 452.9,143.1 453.0,149.0 453.1,147.0 453.1,146.6 453.2,145.1 453.3,139.3 453.3,141.3 453.4,143.5 453.4,144.9 453.5,148.1 453.6,146.4 453.6,139.9 453.7,145.4 453.7,146.2 453.8,139.7 453.9,147.3 453.9,141.6 454.0,145.7 454.0,145.5 454.1,145.1 454.2,145.8 454.2,146.3 454.3,146.0 454.3,144.2 454.4,144.7 454.5,148.9 454.5,145.0 454.6,140.3 454.7,140.6 454.7,147.2 454.8,146.6 454.8,143.0 454.9,143.7 455.0,146.9 455.0,145.8 455.1,144.1 455.1,143.1 455.2,143.8 455.3,143.5 455.3,142.3 455.4,142.5 455.4,146.3 455.5,142.9 455.6,147.2 455.6,147.9 455.7,143.1 455.8,142.5 455.8,146.9 455.9,143.4 455.9,147.3 456.0,142.6 456.1,145.8 456.1,146.3 456.2,144.4 456.2,147.7 456.3,146.6 456.4,149.0 456.4,147.8 456.5,145.4 456.5,143.1 456.6,146.2 456.7,148.5 456.7,147.1 456.8,145.7 456.9,147.9 456.9,147.6 457.0,147.2 457.0,142.7 457.1,145.1 457.2,148.1 457.2,146.0 457.3,145.6 457.3,145.7 457.4,144.7 457.5,145.5 457.5,148.8 457.6,145.3 457.6,145.2 457.7,145.6 457.8,147.7 457.8,147.4 457.9,145.1 457.9,144.0 458.0,148.7 458.1,145.3 458.1,147.3 458.2,146.4 458.3,145.1 458.3,149.2 458.4,146.2 458.4,146.2 458.5,147.5 458.6,148.9 458.6,146.9 458.7,146.3 458.7,147.1 458.8,146.9 458.9,145.5 458.9,144.8 459.0,144.5 459.0,144.1 459.1,149.2 459.2,143.6 459.2,143.8 459.3,142.6 459.4,143.5 459.4,142.2 459.5,142.8 459.5,147.5 459.6,147.4 459.7,144.5 459.7,142.6 459.8,145.9 459.8,145.4 459.9,143.0 460.0,145.2 460.0,144.2 460.1,145.8 460.1,146.1 460.2,146.8 460.3,145.6 460.3,148.7 460.4,147.3 460.5,149.2 460.5,145.9 460.6,147.8 460.6,145.0 460.7,148.6 460.8,144.9 460.8,148.7 460.9,145.4 460.9,146.0 461.0,149.1 461.1,147.3 461.1,149.2 461.2,146.4 461.2,145.4 461.3,146.0 461.4,146.5 461.4,146.4 461.5,143.7 461.5,146.9 461.6,143.4 461.7,144.5 461.7,146.0 461.8,142.7 461.9,144.9 461.9,145.8 462.0,145.6 462.0,146.4 462.1,145.0 462.2,147.8 462.2,145.1 462.3,147.0 462.3,145.4 462.4,145.7 462.5,143.6 462.5,145.3 462.6,149.2 462.6,148.7 462.7,146.8 462.8,146.2 462.8,146.7 462.9,145.4 463.0,144.1 463.0,149.0 463.1,145.4 463.1,147.3 463.2,146.1 463.3,142.8 463.3,148.0 463.4,147.7 463.4,145.3 463.5,143.6 463.6,142.3 463.6,142.8 463.7,143.1 463.7,143.7 463.8,145.4 463.9,146.4 463.9,142.5 464.0,143.2 464.1,143.7 464.1,144.0 464.2,143.3 464.2,145.3 464.3,147.5 464.4,148.7 464.4,147.0 464.5,144.6 464.5,147.0 464.6,148.5 464.7,148.7 464.7,149.2 464.8,146.6 464.8,145.6 464.9,143.4 465.0,145.0 465.0,148.6 465.1,149.0 465.1,143.8 465.2,148.0 465.3,146.6 465.3,145.2 465.4,146.1 465.5,149.2 465.5,147.1 465.6,146.5 465.6,146.0 465.7,148.8 465.8,144.0 465.8,146.5 465.9,146.0 465.9,145.2 466.0,148.2 466.1,148.9 466.1,144.9 466.2,143.3 466.2,143.7 466.3,143.8 466.4,148.1 466.4,145.0 466.5,149.1 466.6,147.9 466.6,143.7 466.7,148.2 466.7,143.8 466.8,143.6 466.9,143.0 466.9,143.0 467.0,144.1 467.0,147.1 467.1,147.3 467.2,148.1 467.2,147.0 467.3,147.2 467.3,142.8 467.4,143.2 467.5,147.6 467.5,145.3 467.6,143.6 467.7,145.9 467.7,145.1 467.8,143.2 467.8,142.7 467.9,146.6 468.0,142.3 468.0,144.7 468.1,147.1 468.1,145.7 468.2,141.9 468.3,145.8 468.3,145.9 468.4,140.7 468.4,144.4 468.5,141.3 468.6,144.9 468.6,146.2 468.7,141.0 468.7,144.0 468.8,140.2 468.9,142.5 468.9,141.8 469.0,145.1 469.1,143.0 469.1,142.5 469.2,144.0 469.2,142.4 469.3,142.2 469.4,143.8 469.4,142.0 469.5,143.2 469.5,141.7 469.6,146.5 469.7,145.7 469.7,146.6 469.8,147.8 469.8,143.8 469.9,142.7 470.0,144.5 470.0,143.2 470.1,144.2 470.2,145.2 470.2,146.2 470.3,147.4 470.3,143.1 470.4,142.7 470.5,142.8 470.5,146.2 470.6,143.3 470.6,144.3 470.7,142.3 470.8,143.9 470.8,146.9 470.9,145.8 470.9,146.1 471.0,145.8 471.1,146.1 471.1,147.8 471.2,145.3 471.3,142.4 471.3,144.5 471.4,147.2 471.4,142.5 471.5,143.2 471.6,143.0 471.6,147.2 471.7,143.9 471.7,146.0 471.8,143.9 471.9,146.2 471.9,147.2 472.0,142.8 472.0,143.0 472.1,144.6 472.2,145.3 472.2,144.5 472.3,144.6 472.3,145.9 472.4,146.1 472.5,146.5 472.5,144.5 472.6,146.8 472.7,146.4 472.7,147.0 472.8,143.8 472.8,145.8 472.9,148.0 473.0,147.7 473.0,143.7 473.1,141.9 473.1,146.4 473.2,144.4 473.3,144.7 473.3,144.9 473.4,143.6 473.4,142.9 473.5,142.7 473.6,146.1 473.6,143.9 473.7,146.5 473.8,147.0 473.8,145.6 473.9,144.1 473.9,144.6 474.0,147.4 474.1,145.3 474.1,147.0 474.2,147.2 474.2,143.2 474.3,144.0 474.4,146.4 474.4,143.2 474.5,142.7 474.5,143.2 474.6,148.2 474.7,145.1 474.7,146.1 474.8,146.6 474.9,147.9 474.9,148.4 475.0,143.2 475.0,146.6 475.1,149.0 475.2,147.7 475.2,147.7 475.3,149.0 475.3,145.3 475.4,146.3 475.5,145.4 475.5,144.3 475.6,143.5 475.6,143.1 475.7,145.0 475.8,143.8 475.8,144.1 475.9,149.2 475.9,148.4 476.0,147.8 476.1,148.2 476.1,149.2 476.2,148.3 476.3,146.5 476.3,147.6 476.4,146.3 476.4,145.4 476.5,146.1 476.6,149.2 476.6,147.7 476.7,145.3 476.7,147.9 476.8,144.3 476.9,144.4 476.9,146.7 477.0,143.9 477.0,148.4 477.1,146.9 477.2,143.9 477.2,148.3 477.3,145.5 477.4,146.4 477.4,146.1 477.5,145.5 477.5,145.1 477.6,143.7 477.7,148.7 477.7,148.5 477.8,145.6 477.8,146.3 477.9,145.6 478.0,145.6 478.0,145.7 478.1,148.3 478.1,148.0 478.2,145.9 478.3,149.1 478.3,146.3 478.4,146.0 478.5,147.0 478.5,145.1 478.6,149.2 478.6,149.2 478.7,145.1 478.8,145.5 478.8,149.2 478.9,146.2 478.9,147.0 479.0,149.2 479.1,147.0 479.1,145.0 479.2,144.8 479.2,147.6 479.3,149.0 479.4,149.2 479.4,148.1 479.5,147.7 479.5,148.5 479.6,148.0 479.7,149.2 479.7,148.0 479.8,148.3 479.9,148.6 479.9,148.8 480.0,146.2 480.0,146.5 480.1,149.2 480.2,149.2 480.2,149.0 480.3,149.2 480.3,147.7 480.4,149.2 480.5,146.6 480.5,149.2 480.6,149.2 480.6,149.2 480.7,149.2 480.8,149.2 480.8,147.0 480.9,146.4 481.0,148.8 481.0,148.6 481.1,147.6 481.1,149.2 481.2,146.4 481.3,149.2 481.3,146.4 481.4,149.2 481.4,147.9 481.5,147.4 481.6,146.8 481.6,149.2 481.7,148.6 481.7,145.2 481.8,149.2 481.9,148.3 481.9,146.7 482.0,143.8 482.1,147.5 482.1,148.5 482.2,149.2 482.2,144.0 482.3,147.9 482.4,144.6 482.4,149.0 482.5,146.1 482.5,145.2 482.6,144.2 482.7,144.5 482.7,146.1 482.8,147.7 482.8,146.5 482.9,145.8 483.0,146.8 483.0,148.2 483.1,143.6 483.2,147.9 483.2,146.8 483.3,146.0 483.3,147.8 483.4,144.7 483.5,148.6 483.5,145.3 483.6,149.2 483.6,149.2 483.7,146.5 483.8,146.6 483.8,147.4 483.9,144.6 483.9,145.2 484.0,145.4 484.1,145.3 484.1,145.4 484.2,145.6 484.2,144.8 484.3,145.2 484.4,148.4 484.4,147.0 484.5,146.3 484.6,147.4 484.6,147.2 484.7,147.9 484.7,148.9 484.8,144.4 484.9,147.7 484.9,149.2 485.0,147.2 485.0,143.3 485.1,149.2 485.2,143.4 485.2,147.7 485.3,148.7 485.3,142.5 485.4,146.7 485.5,142.7 485.5,146.8 485.6,146.8 485.7,142.8 485.7,148.0 485.8,144.8 485.8,145.3 485.9,147.9 486.0,149.1 486.0,145.2 486.1,149.2 486.1,148.0 486.2,149.0 486.3,144.9 486.3,148.9 486.4,147.0 486.4,146.1 486.5,148.3 486.6,146.2 486.6,145.3 486.7,144.3 486.8,147.4 486.8,148.0 486.9,148.9 486.9,147.9 487.0,149.2 487.1,148.6 487.1,146.8 487.2,146.2 487.2,145.5 487.3,146.0 487.4,148.8 487.4,145.9 487.5,148.8 487.5,144.2 487.6,143.9 487.7,147.9 487.7,143.7 487.8,145.5 487.8,144.7 487.9,145.1 488.0,146.0 488.0,149.0 488.1,146.7 488.2,144.6 488.2,145.1 488.3,148.1 488.3,144.9 488.4,145.4 488.5,147.8 488.5,145.3 488.6,149.2 488.6,149.2 488.7,149.0 488.8,147.2 488.8,147.9 488.9,149.2 488.9,148.9 489.0,146.9 489.1,147.8 489.1,146.5 489.2,149.2 489.3,147.5 489.3,147.8 489.4,149.2 489.4,146.0 489.5,148.6 489.6,148.2 489.6,145.7 489.7,148.0 489.7,146.8 489.8,147.1 489.9,145.6 489.9,146.4 490.0,149.2 490.0,149.2 490.1,144.3 490.2,145.0 490.2,148.1 490.3,143.7 490.4,144.8 490.4,145.2 490.5,144.5 490.5,143.5 490.6,146.5 490.7,147.6 490.7,143.8 490.8,146.3 490.8,145.0 490.9,144.9 491.0,144.8 491.0,143.9 491.1,147.2 491.1,147.5 491.2,146.2 491.3,148.9 491.3,146.3 491.4,147.4 491.4,143.6 491.5,143.9 491.6,143.9 491.6,143.8 491.7,147.9 491.8,145.7 491.8,144.9 491.9,147.8 491.9,146.5 492.0,142.8 492.1,146.2 492.1,142.8 492.2,145.7 492.2,146.0 492.3,148.2 492.4,143.2 492.4,146.1 492.5,147.0 492.5,147.6 492.6,148.3 492.7,144.1 492.7,147.3 492.8,145.4 492.9,147.6 492.9,143.6 493.0,146.0 493.0,146.5 493.1,142.7 493.2,143.6 493.2,142.0 493.3,144.2 493.3,148.4 493.4,146.8 493.5,143.9 493.5,147.6 493.6,146.0 493.6,148.5 493.7,145.8 493.8,144.9 493.8,147.5 493.9,143.9 494.0,146.7 494.0,144.2 494.1,142.5 494.1,141.9 494.2,144.0 494.3,145.8 494.3,139.6 494.4,142.6 494.4,142.7 494.5,146.3 494.6,141.2 494.6,141.2 494.7,142.2 494.7,143.7 494.8,143.9 494.9,141.3 494.9,140.8 495.0,143.8 495.0,144.0 495.1,142.5 495.2,146.0 495.2,147.2 495.3,142.8 495.4,143.5 495.4,146.0 495.5,142.6 495.5,143.2 495.6,148.4 495.7,145.1 495.7,143.7 495.8,141.8 495.8,143.5 495.9,147.2 496.0,148.6 496.0,141.9 496.1,143.0 496.1,145.8 496.2,145.2 496.3,143.0 496.3,143.3 496.4,145.6 496.5,143.8 496.5,139.6 496.6,143.4 496.6,146.1 496.7,145.7 496.8,145.3 496.8,141.2 496.9,143.0 496.9,141.0 497.0,143.8 497.1,140.2 497.1,142.3 497.2,139.5 497.2,140.4 497.3,143.0 497.4,138.7 497.4,143.2 497.5,141.8 497.6,143.0 497.6,145.0 497.7,143.5 497.7,145.5 497.8,145.3 497.9,145.6 497.9,143.7 498.0,142.1 498.0,141.9 498.1,141.2 498.2,144.6 498.2,143.4 498.3,144.4 498.3,139.0 498.4,144.8 498.5,140.7 498.5,141.3 498.6,144.5 498.6,139.4 498.7,140.6 498.8,140.1 498.8,137.8 498.9,141.5 499.0,141.0 499.0,142.9 499.1,137.9 499.1,141.2 499.2,137.4 499.3,137.2 499.3,140.9 499.4,139.4 499.4,142.4 499.5,141.0 499.6,143.2 499.6,138.9 499.7,140.8 499.7,139.4 499.8,144.6 499.9,144.8 499.9,146.7 500.0,142.6 500.1,145.5 500.1,145.7 500.2,143.9 500.2,143.6 500.3,142.6 500.4,142.3 500.4,147.5 500.5,145.6 500.5,142.0 500.6,146.4 500.7,145.3 500.7,146.4 500.8,144.5 500.8,144.5 500.9,146.9 501.0,147.5 501.0,144.5 501.1,141.4 501.2,145.4 501.2,145.5 501.3,147.3 501.3,142.7 501.4,149.0 501.5,146.4 501.5,148.8 501.6,145.8 501.6,144.9 501.7,148.5 501.8,144.1 501.8,147.3 501.9,147.7 501.9,147.0 502.0,142.4 502.1,142.9 502.1,146.8 502.2,148.5 502.2,147.8 502.3,145.1 502.4,148.2 502.4,143.2 502.5,144.3 502.6,145.5 502.6,147.7 502.7,141.7 502.7,145.9 502.8,146.9 502.9,141.6 502.9,143.4 503.0,145.3 503.0,146.6 503.1,143.0 503.2,143.9 503.2,142.1 503.3,141.8 503.3,144.3 503.4,142.5 503.5,141.2 503.5,146.7 503.6,143.6 503.7,142.0 503.7,142.6 503.8,143.9 503.8,145.8 503.9,142.9 504.0,146.0 504.0,147.6 504.1,147.2 504.1,143.9 504.2,149.1 504.3,149.2 504.3,149.2 504.4,148.6 504.4,147.4 504.5,147.9 504.6,148.4 504.6,147.0 504.7,144.2 504.8,143.7 504.8,145.8 504.9,142.1 504.9,148.4 505.0,142.8 505.1,148.7 505.1,144.2 505.2,147.8 505.2,144.2 505.3,143.0 505.4,142.3 505.4,146.1 505.5,146.9 505.5,141.9 505.6,142.8 505.7,144.6 505.7,145.1 505.8,144.1 505.8,140.7 505.9,145.9 506.0,142.9 506.0,140.5 506.1,147.2 506.2,142.5 506.2,141.5 506.3,146.1 506.3,145.8 506.4,145.8 506.5,141.4 506.5,141.6 506.6,141.7 506.6,146.2 506.7,142.4 506.8,144.4 506.8,144.2 506.9,143.6 506.9,143.0 507.0,146.0 507.1,145.6 507.1,147.0 507.2,141.5 507.3,144.6 507.3,141.3 507.4,146.7 507.4,144.5 507.5,141.6 507.6,144.3 507.6,142.5 507.7,142.0 507.7,144.9 507.8,147.0 507.9,142.9 507.9,143.7 508.0,146.6 508.0,147.9 508.1,146.4 508.2,143.5 508.2,146.5 508.3,143.6 508.4,146.9 508.4,144.3 508.5,145.7 508.5,143.3 508.6,149.2 508.7,144.5 508.7,147.3 508.8,149.0 508.8,149.2 508.9,148.8 509.0,145.6 509.0,144.2 509.1,148.1 509.1,147.5 509.2,149.2 509.3,146.6 509.3,149.2 509.4,149.2 509.4,143.4 509.5,145.9 509.6,147.5 509.6,143.9 509.7,149.2 509.8,143.9 509.8,143.1 509.9,145.1 509.9,146.9 510.0,146.8 510.1,141.4 510.1,142.4 510.2,140.7 510.2,146.4 510.3,144.8 510.4,141.3 510.4,142.5 510.5,143.6 510.5,146.4 510.6,140.8 510.7,146.3 510.7,143.0 510.8,143.9 510.9,142.5 510.9,141.9 511.0,145.0 511.0,144.9 511.1,148.4 511.2,143.6 511.2,147.1 511.3,149.1 511.3,149.2 511.4,147.6 511.5,149.1 511.5,148.5 511.6,146.6 511.6,147.0 511.7,148.2 511.8,149.0 511.8,145.9 511.9,146.9 512.0,148.5 512.0,149.2 512.1,145.1 512.1,149.2 512.2,147.3 512.3,148.0 512.3,144.1 512.4,145.6 512.4,142.9 512.5,144.4 512.6,145.0 512.6,148.8 512.7,149.2 512.7,144.8 512.8,143.4 512.9,143.6 512.9,143.1 513.0,144.0 513.1,146.6 513.1,145.7 513.2,148.5 513.2,143.6 513.3,143.3 513.4,145.1 513.4,149.0 513.5,146.6 513.5,146.2 513.6,144.6 513.7,146.1 513.7,145.3 513.8,145.7 513.8,147.0 513.9,149.2 514.0,146.4 514.0,148.5 514.1,145.2 514.1,149.2 514.2,147.7 514.3,148.7 514.3,147.5 514.4,143.5 514.5,144.8 514.5,143.0 514.6,143.7 514.6,149.2 514.7,144.3 514.8,143.9 514.8,143.8 514.9,148.1 514.9,146.7 515.0,144.1 515.1,146.9 515.1,145.3 515.2,146.0 515.2,148.4 515.3,148.1 515.4,146.9 515.4,145.2 515.5,141.7 515.6,142.6 515.6,146.4 515.7,142.4 515.7,142.7 515.8,142.1 515.9,143.8 515.9,144.4 516.0,143.9 516.0,149.1 516.1,144.5 516.2,148.8 516.2,144.6 516.3,144.2 516.3,147.5 516.4,148.1 516.5,145.9 516.5,148.5 516.6,147.1 516.7,144.7 516.7,149.2 516.8,143.0 516.8,143.3 516.9,146.9 517.0,143.6 517.0,143.9 517.1,144.7 517.1,146.7 517.2,147.1 517.3,148.2 517.3,144.0 517.4,145.2 517.4,143.0 517.5,145.4 517.6,149.2 517.6,148.1 517.7,149.2 517.7,147.7 517.8,145.5 517.9,145.0 517.9,144.9 518.0,146.6 518.1,142.4 518.1,145.2 518.2,146.6 518.2,145.6 518.3,145.4 518.4,147.7 518.4,145.1 518.5,144.9 518.5,148.9 518.6,147.2 518.7,148.7 518.7,146.8 518.8,147.6 518.8,148.1 518.9,145.5 519.0,147.9 519.0,147.8 519.1,143.3 519.2,146.9 519.2,143.1 519.3,145.4 519.3,144.9 519.4,142.8 519.5,148.1 519.5,148.2 519.6,146.7 519.6,142.5 519.7,147.0 519.8,146.3 519.8,144.8 519.9,148.4 519.9,143.7 520.0,143.1 520.1,140.5 520.1,142.0 520.2,141.3 520.3,145.9 520.3,143.8 520.4,145.5 520.4,144.6 520.5,146.1 520.6,144.1 520.6,145.6 520.7,144.5 520.7,146.9 520.8,140.3 520.9,143.9 520.9,144.3 521.0,142.1 521.0,142.2 521.1,142.0 521.2,144.5 521.2,143.0 521.3,144.4 521.3,142.1 521.4,145.3 521.5,141.8 521.5,146.1 521.6,147.5 521.7,142.8 521.7,148.9 521.8,142.1 521.8,141.9 521.9,145.1 522.0,146.2 522.0,148.2 522.1,145.5 522.1,143.6 522.2,147.4 522.3,143.4 522.3,146.4 522.4,144.9 522.4,143.5 522.5,145.6 522.6,144.2 522.6,146.9 522.7,146.1 522.8,143.8 522.8,142.7 522.9,142.7 522.9,147.5 523.0,148.4 523.1,149.1 523.1,148.6 523.2,144.4 523.2,148.7 523.3,144.4 523.4,149.2 523.4,145.1 523.5,148.4 523.5,149.2 523.6,146.6 523.7,145.4 523.7,149.2 523.8,149.0 523.9,149.2 523.9,144.1 524.0,147.9 524.0,147.3 524.1,146.1 524.2,144.0 524.2,142.8 524.3,147.7 524.3,147.6 524.4,144.5 524.5,145.5 524.5,146.3 524.6,144.8 524.6,143.4 524.7,149.2 524.8,146.5 524.8,148.7 524.9,143.3 524.9,149.2 525.0,147.2 525.1,146.7 525.1,149.2 525.2,147.7 525.3,147.1 525.3,148.4 525.4,143.8 525.4,146.8 525.5,145.9 525.6,142.8 525.6,142.4 525.7,147.4 525.7,143.7 525.8,146.4 525.9,141.2 525.9,141.5 526.0,144.2 526.0,147.5 526.1,141.3 526.2,143.0 526.2,141.9 526.3,143.6 526.4,140.2 526.4,145.2 526.5,141.6 526.5,146.7 526.6,140.7 526.7,144.6 526.7,146.3 526.8,144.4 526.8,147.0 526.9,144.1 527.0,143.8 527.0,146.5 527.1,148.0 527.1,142.3 527.2,143.4 527.3,143.4 527.3,141.1 527.4,148.1 527.5,143.9 527.5,147.6 527.6,141.1 527.6,141.3 527.7,144.6 527.8,143.4 527.8,142.7 527.9,143.5 527.9,142.8 528.0,146.3" stroke="#f2241a" stroke-width="0.9"/>
<path d="M345.0,132.6 345.1,134.5 345.1,129.8 345.2,133.2 345.2,132.8 345.3,129.7 345.4,131.4 345.4,130.0 345.5,131.1 345.5,130.4 345.6,133.9 345.7,132.1 345.7,131.8 345.8,130.1 345.9,132.8 345.9,131.3 346.0,134.3 346.0,132.4 346.1,132.8 346.2,133.3 346.2,129.9 346.3,132.1 346.3,129.0 346.4,131.2 346.5,131.2 346.5,131.0 346.6,131.1 346.6,134.0 346.7,132.8 346.8,133.8 346.8,132.7 346.9,134.6 347.0,130.0 347.0,133.7 347.1,131.3 347.1,133.6 347.2,130.3 347.3,131.9 347.3,134.2 347.4,130.6 347.4,130.6 347.5,130.8 347.6,132.8 347.6,135.2 347.7,135.0 347.7,131.4 347.8,133.4 347.9,135.3 347.9,132.0 348.0,133.7 348.1,133.8 348.1,134.9 348.2,134.4 348.2,135.1 348.3,136.1 348.4,131.6 348.4,133.7 348.5,132.8 348.5,134.3 348.6,132.1 348.7,135.7 348.7,135.7 348.8,135.4 348.8,135.3 348.9,131.0 349.0,132.7 349.0,134.1 349.1,133.7 349.1,132.1 349.2,135.4 349.3,133.6 349.3,133.0 349.4,134.9 349.5,133.5 349.5,132.0 349.6,131.1 349.6,134.9 349.7,131.1 349.8,136.3 349.8,133.0 349.9,132.9 349.9,136.6 350.0,135.0 350.1,133.4 350.1,137.3 350.2,134.2 350.2,133.5 350.3,135.8 350.4,136.7 350.4,137.1 350.5,137.3 350.6,136.3 350.6,137.5 350.7,136.3 350.7,133.0 350.8,135.0 350.9,136.3 350.9,136.5 351.0,133.4 351.0,136.4 351.1,134.6 351.2,137.0 351.2,137.0 351.3,134.9 351.3,135.3 351.4,136.1 351.5,137.0 351.5,135.1 351.6,137.5 351.7,134.8 351.7,139.3 351.8,137.7 351.8,137.0 351.9,134.9 352.0,138.4 352.0,135.5 352.1,136.3 352.1,135.9 352.2,136.7 352.3,135.2 352.3,138.5 352.4,138.3 352.4,139.2 352.5,140.1 352.6,139.1 352.6,135.0 352.7,135.7 352.7,140.0 352.8,137.7 352.9,138.3 352.9,137.6 353.0,137.4 353.1,139.0 353.1,135.2 353.2,138.3 353.2,137.5 353.3,137.4 353.4,139.5 353.4,139.9 353.5,138.2 353.5,136.4 353.6,136.2 353.7,137.0 353.7,140.4 353.8,135.9 353.8,136.7 353.9,136.1 354.0,138.5 354.0,136.1 354.1,140.5 354.2,140.6 354.2,144.2 354.3,139.3 354.3,139.1 354.4,139.7 354.5,142.3 354.5,140.4 354.6,137.8 354.6,142.6 354.7,137.3 354.8,140.9 354.8,139.4 354.9,136.3 354.9,138.6 355.0,137.2 355.1,137.8 355.1,137.9 355.2,139.8 355.3,137.7 355.3,141.0 355.4,137.1 355.4,136.8 355.5,137.2 355.6,141.7 355.6,140.1 355.7,140.3 355.7,141.2 355.8,138.4 355.9,137.5 355.9,139.8 356.0,136.8 356.0,137.5 356.1,140.9 356.2,137.4 356.2,136.7 356.3,140.4 356.3,138.5 356.4,138.3 356.5,138.3 356.5,141.0 356.6,138.2 356.7,138.2 356.7,136.8 356.8,137.0 356.8,139.0 356.9,136.8 357.0,135.8 357.0,135.7 357.1,139.6 357.1,140.3 357.2,137.1 357.3,139.5 357.3,137.4 357.4,135.3 357.4,138.3 357.5,139.1 357.6,137.5 357.6,136.4 357.7,139.9 357.8,138.6 357.8,139.9 357.9,137.2 357.9,136.0 358.0,138.6 358.1,139.0 358.1,138.2 358.2,140.1 358.2,140.4 358.3,140.0 358.4,139.3 358.4,141.5 358.5,138.3 358.5,139.5 358.6,141.0 358.7,142.3 358.7,138.6 358.8,143.9 358.9,142.4 358.9,142.7 359.0,143.3 359.0,139.0 359.1,143.1 359.2,143.0 359.2,140.0 359.3,141.0 359.3,143.1 359.4,141.8 359.5,139.7 359.5,142.6 359.6,141.6 359.6,143.3 359.7,140.1 359.8,139.7 359.8,139.3 359.9,140.0 359.9,141.4 360.0,142.9 360.1,140.1 360.1,139.0 360.2,142.4 360.3,142.5 360.3,141.1 360.4,139.7 360.4,138.8 360.5,142.8 360.6,145.1 360.6,138.6 360.7,139.6 360.7,139.1 360.8,137.3 360.9,137.7 360.9,141.2 361.0,138.4 361.0,140.2 361.1,139.1 361.2,141.4 361.2,138.5 361.3,138.6 361.4,138.8 361.4,140.3 361.5,140.7 361.5,140.2 361.6,142.5 361.7,138.3 361.7,139.9 361.8,140.5 361.8,139.9 361.9,138.7 362.0,140.2 362.0,137.7 362.1,137.7 362.1,140.4 362.2,141.7 362.3,138.3 362.3,140.4 362.4,141.7 362.5,138.4 362.5,138.1 362.6,137.8 362.6,142.3 362.7,142.6 362.8,137.6 362.8,142.5 362.9,142.1 362.9,139.9 363.0,140.7 363.1,139.5 363.1,147.3 363.2,138.3 363.2,141.9 363.3,138.7 363.4,141.8 363.4,140.3 363.5,142.8 363.6,141.4 363.6,141.2 363.7,139.0 363.7,140.3 363.8,142.5 363.9,137.6 363.9,138.3 364.0,138.0 364.0,141.1 364.1,141.8 364.2,140.7 364.2,141.3 364.3,141.7 364.3,139.0 364.4,141.1 364.5,141.3 364.5,137.7 364.6,139.4 364.6,141.1 364.7,138.6 364.8,140.5 364.8,139.1 364.9,141.1 365.0,139.2 365.0,138.5 365.1,139.0 365.1,139.5 365.2,137.3 365.3,136.9 365.3,140.3 365.4,140.7 365.4,140.8 365.5,136.0 365.6,136.4 365.6,140.1 365.7,136.3 365.7,139.8 365.8,138.4 365.9,138.5 365.9,135.9 366.0,140.3 366.1,138.9 366.1,137.3 366.2,140.0 366.2,138.7 366.3,137.3 366.4,135.0 366.4,135.2 366.5,135.1 366.5,135.7 366.6,135.9 366.7,135.3 366.7,136.3 366.8,135.8 366.8,138.7 366.9,138.9 367.0,135.3 367.0,138.7 367.1,134.4 367.2,136.1 367.2,141.7 367.3,134.5 367.3,138.4 367.4,136.5 367.5,138.8 367.5,134.4 367.6,136.1 367.6,135.1 367.7,137.7 367.8,135.0 367.8,135.5 367.9,136.0 367.9,134.2 368.0,137.2 368.1,136.9 368.1,135.5 368.2,134.7 368.2,137.2 368.3,135.3 368.4,137.9 368.4,136.3 368.5,135.9 368.6,139.3 368.6,136.2 368.7,140.1 368.7,135.7 368.8,140.7 368.9,138.6 368.9,136.9 369.0,138.0 369.0,137.1 369.1,140.7 369.2,137.8 369.2,138.0 369.3,135.8 369.3,140.8 369.4,138.6 369.5,137.9 369.5,138.1 369.6,140.3 369.7,137.4 369.7,139.4 369.8,139.6 369.8,136.3 369.9,139.2 370.0,138.1 370.0,136.4 370.1,136.9 370.1,137.4 370.2,135.4 370.3,137.4 370.3,142.0 370.4,135.3 370.4,136.3 370.5,136.5 370.6,137.3 370.6,136.1 370.7,137.2 370.8,135.6 370.8,137.5 370.9,136.7 370.9,135.2 371.0,136.9 371.1,137.5 371.1,135.3 371.2,137.5 371.2,135.1 371.3,135.3 371.4,137.0 371.4,135.6 371.5,138.7 371.5,137.0 371.6,134.7 371.7,135.7 371.7,136.2 371.8,135.5 371.8,135.4 371.9,136.1 372.0,136.8 372.0,138.0 372.1,137.5 372.2,138.0 372.2,137.0 372.3,133.8 372.3,137.5 372.4,137.3 372.5,137.4 372.5,135.7 372.6,134.1 372.6,134.3 372.7,137.1 372.8,137.5 372.8,134.0 372.9,140.0 372.9,134.6 373.0,138.2 373.1,133.6 373.1,136.2 373.2,135.5 373.3,137.0 373.3,135.8 373.4,134.0 373.4,133.9 373.5,135.6 373.6,133.8 373.6,135.7 373.7,135.8 373.7,135.1 373.8,136.6 373.9,135.9 373.9,134.0 374.0,134.0 374.0,138.2 374.1,134.8 374.2,134.8 374.2,136.8 374.3,139.0 374.4,135.6 374.4,138.2 374.5,136.5 374.5,137.9 374.6,136.5 374.7,138.5 374.7,137.4 374.8,137.3 374.8,136.5 374.9,138.4 375.0,134.5 375.0,138.0 375.1,137.7 375.1,137.8 375.2,139.1 375.3,137.5 375.3,135.8 375.4,136.3 375.4,139.3 375.5,142.2 375.6,137.9 375.6,135.5 375.7,136.7 375.8,134.6 375.8,135.9 375.9,136.6 375.9,135.9 376.0,135.5 376.1,137.7 376.1,138.0 376.2,137.2 376.2,137.2 376.3,138.8 376.4,137.2 376.4,136.3 376.5,138.9 376.5,138.8 376.6,138.7 376.7,138.4 376.7,134.9 376.8,139.7 376.9,138.6 376.9,138.5 377.0,136.3 377.0,139.0 377.1,137.0 377.2,138.4 377.2,137.7 377.3,134.9 377.3,138.3 377.4,137.4 377.5,136.5 377.5,137.1 377.6,135.4 377.6,139.0 377.7,134.9 377.8,134.9 377.8,136.1 377.9,139.6 378.0,136.0 378.0,136.4 378.1,135.7 378.1,139.1 378.2,135.0 378.3,135.1 378.3,139.1 378.4,138.5 378.4,140.1 378.5,135.8 378.6,135.2 378.6,134.2 378.7,136.3 378.7,136.1 378.8,136.1 378.9,136.8 378.9,134.6 379.0,136.4 379.0,137.5 379.1,136.0 379.2,138.6 379.2,134.9 379.3,135.0 379.4,136.2 379.4,133.7 379.5,134.2 379.5,136.4 379.6,138.0 379.7,137.5 379.7,137.3 379.8,136.5 379.8,136.0 379.9,133.2 380.0,136.1 380.0,133.1 380.1,134.5 380.1,133.9 380.2,136.0 380.3,138.1 380.3,133.5 380.4,136.3 380.5,137.2 380.5,138.0 380.6,133.9 380.6,136.6 380.7,136.4 380.8,132.7 380.8,136.2 380.9,133.9 380.9,137.0 381.0,133.7 381.1,137.3 381.1,135.1 381.2,137.7 381.2,135.1 381.3,133.8 381.4,137.6 381.4,136.5 381.5,134.7 381.6,135.4 381.6,136.7 381.7,135.3 381.7,136.6 381.8,134.6 381.9,137.5 381.9,135.6 382.0,136.2 382.0,136.6 382.1,138.6 382.2,136.5 382.2,136.7 382.3,138.4 382.3,140.5 382.4,135.3 382.5,136.5 382.5,138.7 382.6,136.2 382.6,138.8 382.7,137.5 382.8,135.2 382.8,137.3 382.9,137.9 383.0,138.1 383.0,138.8 383.1,138.1 383.1,137.7 383.2,138.2 383.3,138.5 383.3,136.4 383.4,137.7 383.4,134.2 383.5,132.9 383.6,136.0 383.6,134.2 383.7,135.2 383.7,137.2 383.8,137.0 383.9,132.8 383.9,135.4 384.0,134.1 384.1,138.3 384.1,135.1 384.2,133.2 384.2,133.5 384.3,138.2 384.4,135.2 384.4,136.2 384.5,133.5 384.5,137.3 384.6,136.4 384.7,133.4 384.7,134.8 384.8,135.2 384.8,132.0 384.9,135.7 385.0,137.1 385.0,135.5 385.1,137.2 385.2,137.6 385.2,134.3 385.3,132.0 385.3,133.6 385.4,133.1 385.5,134.8 385.5,133.3 385.6,132.3 385.6,133.5 385.7,132.7 385.8,139.6 385.8,136.0 385.9,134.3 385.9,134.1 386.0,136.1 386.1,133.8 386.1,132.4 386.2,136.5 386.2,134.7 386.3,133.8 386.4,135.6 386.4,136.1 386.5,136.1 386.6,135.1 386.6,133.9 386.7,134.5 386.7,137.0 386.8,138.9 386.9,133.8 386.9,138.2 387.0,137.2 387.0,137.7 387.1,134.3 387.2,133.5 387.2,138.3 387.3,136.0 387.3,136.7 387.4,135.1 387.5,132.9 387.5,137.4 387.6,136.6 387.7,135.2 387.7,134.9 387.8,133.5 387.8,134.4 387.9,136.0 388.0,134.5 388.0,130.9 388.1,132.1 388.1,135.4 388.2,131.8 388.3,134.6 388.3,132.1 388.4,135.9 388.4,131.5 388.5,135.4 388.6,133.9 388.6,132.4 388.7,133.6 388.8,135.1 388.8,135.8 388.9,135.1 388.9,136.3 389.0,135.9 389.1,136.5 389.1,135.0 389.2,135.8 389.2,137.4 389.3,136.1 389.4,137.9 389.4,136.5 389.5,134.8 389.5,137.7 389.6,137.0 389.7,139.2 389.7,136.8 389.8,134.6 389.8,134.1 389.9,137.3 390.0,135.2 390.0,138.2 390.1,138.4 390.2,137.1 390.2,136.0 390.3,134.2 390.3,138.1 390.4,135.2 390.5,137.2 390.5,138.9 390.6,134.6 390.6,135.9 390.7,138.4 390.8,134.6 390.8,138.6 390.9,138.2 390.9,136.9 391.0,133.8 391.1,138.4 391.1,133.9 391.2,135.4 391.3,139.0 391.3,135.9 391.4,136.6 391.4,136.2 391.5,135.0 391.6,134.7 391.6,133.1 391.7,138.0 391.7,134.7 391.8,137.0 391.9,134.8 391.9,134.1 392.0,138.1 392.0,137.1 392.1,135.7 392.2,133.3 392.2,133.4 392.3,136.4 392.4,133.6 392.4,136.7 392.5,137.4 392.5,135.0 392.6,136.6 392.7,136.5 392.7,136.7 392.8,136.0 392.8,137.4 392.9,138.0 393.0,134.4 393.0,135.6 393.1,134.9 393.1,134.2 393.2,136.4 393.3,136.3 393.3,136.4 393.4,136.2 393.5,133.7 393.5,135.7 393.6,135.8 393.6,134.1 393.7,136.3 393.8,136.9 393.8,133.4 393.9,133.3 393.9,135.8 394.0,133.3 394.1,136.4 394.1,134.4 394.2,133.9 394.2,135.7 394.3,135.3 394.4,134.1 394.4,134.4 394.5,136.8 394.5,133.9 394.6,137.5 394.7,132.7 394.7,136.8 394.8,136.6 394.9,136.5 394.9,132.5 395.0,136.3 395.0,134.7 395.1,132.2 395.2,132.5 395.2,137.3 395.3,134.5 395.3,134.3 395.4,134.0 395.5,135.8 395.5,136.0 395.6,137.5 395.6,137.0 395.7,133.8 395.8,136.3 395.8,135.9 395.9,139.6 396.0,136.2 396.0,136.4 396.1,131.2 396.1,134.1 396.2,135.8 396.3,133.5 396.3,137.4 396.4,136.5 396.4,132.6 396.5,132.9 396.6,134.2 396.6,137.3 396.7,135.9 396.7,137.7 396.8,136.3 396.9,137.3 396.9,136.4 397.0,133.6 397.1,137.0 397.1,137.2 397.2,133.5 397.2,136.6 397.3,136.6 397.4,137.9 397.4,133.9 397.5,134.4 397.5,134.7 397.6,134.3 397.7,136.9 397.7,135.8 397.8,133.8 397.8,133.3 397.9,132.1 398.0,133.0 398.0,133.6 398.1,136.5 398.1,132.0 398.2,136.2 398.3,135.8 398.3,132.8 398.4,132.4 398.5,132.6 398.5,134.6 398.6,135.8 398.6,136.0 398.7,131.9 398.8,131.0 398.8,135.1 398.9,131.8 398.9,134.3 399.0,134.9 399.1,139.0 399.1,137.2 399.2,134.7 399.2,136.2 399.3,133.0 399.4,134.1 399.4,132.0 399.5,132.4 399.6,135.5 399.6,135.8 399.7,132.2 399.7,134.9 399.8,137.0 399.9,137.6 399.9,132.7 400.0,134.5 400.0,137.3 400.1,135.2 400.2,135.5 400.2,135.9 400.3,138.3 400.3,133.2 400.4,137.7 400.5,137.5 400.5,136.5 400.6,134.0 400.7,134.5 400.7,134.1 400.8,134.7 400.8,137.3 400.9,136.9 401.0,140.6 401.0,134.5 401.1,136.9 401.1,135.5 401.2,133.2 401.3,135.8 401.3,138.0 401.4,135.9 401.4,134.5 401.5,138.1 401.6,136.7 401.6,138.0 401.7,135.3 401.7,135.5 401.8,134.8 401.9,136.1 401.9,133.9 402.0,136.8 402.1,132.8 402.1,132.6 402.2,135.3 402.2,135.3 402.3,133.2 402.4,136.0 402.4,133.3 402.5,136.0 402.5,133.3 402.6,135.5 402.7,137.4 402.7,132.3 402.8,136.4 402.8,133.0 402.9,134.8 403.0,136.0 403.0,135.8 403.1,137.7 403.2,136.4 403.2,134.4 403.3,137.4 403.3,134.3 403.4,132.8 403.5,132.9 403.5,132.9 403.6,133.1 403.6,136.7 403.7,132.8 403.8,137.1 403.8,133.4 403.9,133.5 403.9,134.7 404.0,135.5 404.1,137.3 404.1,135.4 404.2,136.0 404.3,137.2 404.3,137.4 404.4,133.2 404.4,132.4 404.5,136.4 404.6,137.1 404.6,135.6 404.7,136.3 404.7,136.3 404.8,134.4 404.9,135.0 404.9,134.7 405.0,140.3 405.0,133.4 405.1,135.8 405.2,135.2 405.2,134.7 405.3,132.2 405.3,135.7 405.4,132.8 405.5,135.3 405.5,132.1 405.6,134.9 405.7,134.6 405.7,132.8 405.8,134.0 405.8,137.0 405.9,137.2 406.0,132.4 406.0,137.3 406.1,136.2 406.1,132.6 406.2,137.8 406.3,136.7 406.3,136.7 406.4,137.7 406.4,135.9 406.5,135.3 406.6,137.3 406.6,138.5 406.7,134.8 406.8,134.6 406.8,135.9 406.9,138.1 406.9,135.9 407.0,135.2 407.1,136.5 407.1,134.3 407.2,136.8 407.2,136.2 407.3,138.0 407.4,135.5 407.4,134.5 407.5,134.7 407.5,137.2 407.6,137.7 407.7,134.6 407.7,135.8 407.8,136.0 407.9,134.1 407.9,137.1 408.0,134.5 408.0,134.2 408.1,135.0 408.2,132.4 408.2,134.6 408.3,134.8 408.3,135.7 408.4,132.8 408.5,139.2 408.5,133.9 408.6,135.3 408.6,132.1 408.7,131.8 408.8,136.5 408.8,131.3 408.9,133.4 408.9,136.3 409.0,134.0 409.1,136.3 409.1,133.7 409.2,135.5 409.3,135.0 409.3,135.0 409.4,134.4 409.4,131.4 409.5,131.0 409.6,134.3 409.6,132.9 409.7,136.5 409.7,134.3 409.8,131.2 409.9,135.6 409.9,131.1 410.0,132.7 410.0,134.9 410.1,132.6 410.2,135.6 410.2,132.6 410.3,137.0 410.4,136.8 410.4,133.7 410.5,135.0 410.5,136.2 410.6,134.4 410.7,135.5 410.7,134.3 410.8,133.1 410.8,132.6 410.9,137.2 411.0,134.5 411.0,131.9 411.1,134.3 411.1,132.7 411.2,135.7 411.3,132.0 411.3,133.7 411.4,132.3 411.5,133.3 411.5,132.3 411.6,136.7 411.6,132.7 411.7,134.9 411.8,134.3 411.8,134.0 411.9,132.7 411.9,132.0 412.0,130.8 412.1,136.0 412.1,135.0 412.2,134.2 412.2,131.5 412.3,132.4 412.4,132.9 412.4,131.6 412.5,132.5 412.5,134.8 412.6,136.2 412.7,134.1 412.7,132.1 412.8,133.2 412.9,135.9 412.9,134.0 413.0,133.9 413.0,133.0 413.1,132.6 413.2,130.9 413.2,134.4 413.3,133.8 413.3,132.5 413.4,130.9 413.5,132.4 413.5,133.2 413.6,134.3 413.6,133.4 413.7,130.9 413.8,134.8 413.8,135.5 413.9,132.0 414.0,134.8 414.0,131.9 414.1,133.0 414.1,133.5 414.2,135.8 414.3,132.3 414.3,136.1 414.4,131.2 414.4,131.4 414.5,134.8 414.6,136.0 414.6,132.2 414.7,134.2 414.7,136.4 414.8,134.5 414.9,136.3 414.9,136.1 415.0,134.9 415.1,133.7 415.1,134.2 415.2,137.6 415.2,135.9 415.3,135.8 415.4,133.6 415.4,138.2 415.5,136.3 415.5,133.6 415.6,137.0 415.7,139.9 415.7,135.9 415.8,137.0 415.8,134.1 415.9,138.7 416.0,137.8 416.0,138.3 416.1,134.8 416.1,136.9 416.2,133.9 416.3,133.6 416.3,133.3 416.4,139.1 416.5,137.8 416.5,135.4 416.6,131.9 416.6,132.8 416.7,136.5 416.8,132.6 416.8,131.8 416.9,131.3 416.9,132.5 417.0,131.4 417.1,132.0 417.1,133.8 417.2,135.3 417.2,132.3 417.3,135.9 417.4,134.3 417.4,131.2 417.5,133.6 417.6,134.2 417.6,131.9 417.7,135.3 417.7,131.6 417.8,132.2 417.9,135.2 417.9,135.4 418.0,136.5 418.0,132.2 418.1,136.4 418.2,137.3 418.2,133.1 418.3,135.4 418.3,135.2 418.4,135.3 418.5,138.6 418.5,138.2 418.6,136.1 418.7,138.7 418.7,136.0 418.8,134.7 418.8,134.7 418.9,135.0 419.0,138.4 419.0,137.5 419.1,133.5 419.1,137.6 419.2,135.7 419.3,138.3 419.3,133.9 419.4,137.8 419.4,136.5 419.5,135.7 419.6,135.6 419.6,134.6 419.7,136.2 419.7,138.2 419.8,139.2 419.9,135.3 419.9,134.1 420.0,139.2 420.1,135.2 420.1,138.5 420.2,136.9 420.2,137.0 420.3,136.7 420.4,135.1 420.4,136.9 420.5,137.9 420.5,136.3 420.6,138.1 420.7,140.0 420.7,138.7 420.8,138.0 420.8,138.8 420.9,144.2 421.0,140.1 421.0,138.4 421.1,138.6 421.2,135.8 421.2,135.3 421.3,137.2 421.3,136.0 421.4,134.7 421.5,136.9 421.5,136.2 421.6,137.0 421.6,136.0 421.7,134.4 421.8,138.3 421.8,133.7 421.9,135.0 421.9,133.9 422.0,134.7 422.1,133.5 422.1,136.1 422.2,133.9 422.3,136.2 422.3,134.8 422.4,134.2 422.4,136.7 422.5,137.6 422.6,133.6 422.6,133.6 422.7,134.1 422.7,136.2 422.8,134.9 422.9,138.0 422.9,135.1 423.0,135.7 423.0,140.6 423.1,136.1 423.2,137.3 423.2,134.7 423.3,136.5 423.4,135.1 423.4,137.2 423.5,138.8 423.5,136.6 423.6,135.9 423.7,134.2 423.7,134.3 423.8,138.8 423.8,134.8 423.9,137.4 424.0,135.0 424.0,136.3 424.1,136.7 424.1,135.6 424.2,135.2 424.3,134.0 424.3,134.3 424.4,134.1 424.4,135.5 424.5,134.1 424.6,138.2 424.6,134.3 424.7,134.9 424.8,134.3 424.8,136.9 424.9,134.3 424.9,135.3 425.0,134.3 425.1,135.8 425.1,132.6 425.2,131.7 425.2,134.5 425.3,135.9 425.4,136.3 425.4,136.0 425.5,131.9 425.5,136.1 425.6,134.7 425.7,133.8 425.7,135.9 425.8,135.3 425.9,135.7 425.9,133.4 426.0,132.1 426.0,135.3 426.1,133.1 426.2,136.6 426.2,134.2 426.3,135.3 426.3,136.2 426.4,133.6 426.5,134.5 426.5,137.8 426.6,137.3 426.6,134.4 426.7,133.0 426.8,135.1 426.8,133.8 426.9,133.3 427.0,134.5 427.0,134.9 427.1,137.1 427.1,136.2 427.2,134.9 427.3,133.3 427.3,136.2 427.4,135.5 427.4,137.1 427.5,133.6 427.6,135.0 427.6,133.1 427.7,136.2 427.7,133.5 427.8,133.5 427.9,134.5 427.9,135.6 428.0,134.7 428.0,133.3 428.1,136.3 428.2,137.3 428.2,135.6 428.3,136.7 428.4,133.5 428.4,133.1 428.5,132.2 428.5,132.7 428.6,133.8 428.7,136.3 428.7,133.2 428.8,133.9 428.8,133.6 428.9,133.7 429.0,133.0 429.0,135.4 429.1,133.3 429.1,134.5 429.2,135.3 429.3,136.0 429.3,136.7 429.4,134.8 429.5,135.3 429.5,134.5 429.6,132.2 429.6,132.8 429.7,132.9 429.8,131.2 429.8,135.3 429.9,133.9 429.9,136.6 430.0,135.3 430.1,132.4 430.1,136.8 430.2,133.2 430.2,132.8 430.3,134.5 430.4,133.4 430.4,135.4 430.5,135.8 430.6,135.0 430.6,137.0 430.7,136.1 430.7,136.3 430.8,132.7 430.9,141.3 430.9,136.5 431.0,133.4 431.0,137.9 431.1,133.3 431.2,133.6 431.2,134.3 431.3,135.3 431.3,137.0 431.4,137.5 431.5,137.1 431.5,135.6 431.6,135.3 431.6,132.7 431.7,134.6 431.8,131.7 431.8,137.9 431.9,136.3 432.0,133.8 432.0,136.1 432.1,136.6 432.1,133.1 432.2,134.8 432.3,135.3 432.3,135.5 432.4,132.6 432.4,133.6 432.5,135.2 432.6,131.2 432.6,137.2 432.7,131.0 432.7,132.8 432.8,132.8 432.9,132.4 432.9,131.4 433.0,129.9 433.1,131.0 433.1,135.1 433.2,133.3 433.2,134.8 433.3,135.9 433.4,135.5 433.4,135.1 433.5,132.0 433.5,133.2 433.6,132.8 433.7,133.6 433.7,135.3 433.8,134.8 433.8,134.7 433.9,135.6 434.0,135.2 434.0,133.6 434.1,137.5 434.2,136.4 434.2,135.6 434.3,134.6 434.3,135.0 434.4,134.9 434.5,138.3 434.5,138.0 434.6,137.4 434.6,137.5 434.7,134.5 434.8,133.3 434.8,134.7 434.9,138.0 434.9,136.5 435.0,133.5 435.1,133.0 435.1,134.7 435.2,136.7 435.2,137.0 435.3,135.7 435.4,134.3 435.4,136.9 435.5,137.2 435.6,138.9 435.6,138.1 435.7,134.0 435.7,135.0 435.8,134.3 435.9,137.2 435.9,136.0 436.0,133.7 436.0,134.0 436.1,136.9 436.2,135.2 436.2,134.0 436.3,133.9 436.3,135.5 436.4,137.1 436.5,132.6 436.5,135.0 436.6,133.3 436.7,134.0 436.7,136.3 436.8,135.4 436.8,136.8 436.9,135.8 437.0,136.0 437.0,134.6 437.1,134.6 437.1,134.3 437.2,132.6 437.3,136.7 437.3,136.7 437.4,133.0 437.4,134.6 437.5,134.7 437.6,140.5 437.6,134.4 437.7,135.9 437.8,132.4 437.8,132.5 437.9,134.8 437.9,135.9 438.0,131.7 438.1,135.4 438.1,133.6 438.2,133.4 438.2,133.7 438.3,133.0 438.4,134.5 438.4,133.0 438.5,134.9 438.5,136.8 438.6,135.8 438.7,136.5 438.7,133.7 438.8,133.8 438.8,138.8 438.9,136.7 439.0,135.2 439.0,136.7 439.1,132.7 439.2,133.0 439.2,132.8 439.3,134.1 439.3,134.5 439.4,136.8 439.5,136.7 439.5,138.4 439.6,133.6 439.6,136.5 439.7,137.3 439.8,135.7 439.8,135.7 439.9,133.5 439.9,137.1 440.0,135.5 440.1,136.2 440.1,131.7 440.2,133.3 440.3,134.0 440.3,135.7 440.4,132.5 440.4,133.4 440.5,134.7 440.6,136.4 440.6,136.0 440.7,134.9 440.7,135.2 440.8,136.9 440.9,135.0 440.9,134.5 441.0,135.4 441.0,134.6 441.1,137.2 441.2,134.9 441.2,133.5 441.3,134.7 441.4,136.5 441.4,133.6 441.5,135.2 441.5,135.8 441.6,134.9 441.7,135.1 441.7,134.5 441.8,134.4 441.8,140.3 441.9,134.9 442.0,138.2 442.0,135.0 442.1,137.8 442.1,137.5 442.2,138.5 442.3,136.9 442.3,138.6 442.4,135.2 442.4,134.6 442.5,134.4 442.6,138.3 442.6,135.4 442.7,134.4 442.8,138.5 442.8,137.3 442.9,136.9 442.9,135.6 443.0,136.9 443.1,138.3 443.1,135.3 443.2,133.7 443.2,134.1 443.3,133.2 443.4,137.0 443.4,133.2 443.5,132.6 443.5,132.7 443.6,136.4 443.7,131.6 443.7,133.4 443.8,135.5 443.9,134.7 443.9,134.5 444.0,135.0 444.0,136.4 444.1,136.5 444.2,138.4 444.2,134.0 444.3,135.6 444.3,137.8 444.4,135.8 444.5,137.5 444.5,138.8 444.6,133.3 444.6,137.2 444.7,135.7 444.8,136.4 444.8,138.6 444.9,133.8 445.0,133.4 445.0,137.5 445.1,136.3 445.1,136.3 445.2,137.5 445.3,134.9 445.3,134.0 445.4,133.9 445.4,133.4 445.5,136.5 445.6,139.1 445.6,133.8 445.7,132.6 445.7,134.6 445.8,134.6 445.9,132.4 445.9,136.7 446.0,134.8 446.0,134.4 446.1,131.1 446.2,135.5 446.2,136.5 446.3,138.1 446.4,133.5 446.4,136.2 446.5,132.4 446.5,135.9 446.6,133.5 446.7,136.2 446.7,132.8 446.8,136.2 446.8,135.1 446.9,132.4 447.0,136.4 447.0,137.5 447.1,134.6 447.1,134.5 447.2,135.2 447.3,133.3 447.3,134.8 447.4,134.4 447.5,134.4 447.5,134.8 447.6,135.3 447.6,136.0 447.7,135.1 447.8,135.0 447.8,134.9 447.9,132.0 447.9,137.1 448.0,135.3 448.1,133.6 448.1,134.9 448.2,135.5 448.2,134.8 448.3,134.3 448.4,133.9 448.4,135.5 448.5,133.2 448.6,135.2 448.6,135.4 448.7,136.2 448.7,136.7 448.8,133.2 448.9,138.3 448.9,137.7 449.0,135.0 449.0,135.3 449.1,136.9 449.2,134.2 449.2,137.1 449.3,136.0 449.3,138.8 449.4,134.9 449.5,139.5 449.5,137.9 449.6,135.2 449.6,134.5 449.7,134.8 449.8,135.2 449.8,138.2 449.9,139.0 450.0,136.8 450.0,139.0 450.1,134.9 450.1,140.1 450.2,138.1 450.3,138.8 450.3,142.9 450.4,136.8 450.4,139.0 450.5,134.9 450.6,140.9 450.6,137.8 450.7,135.0 450.7,139.5 450.8,137.4 450.9,134.6 450.9,134.1 451.0,135.4 451.1,136.9 451.1,134.4 451.2,134.0 451.2,137.3 451.3,138.2 451.4,133.9 451.4,137.3 451.5,137.1 451.5,135.2 451.6,135.9 451.7,132.5 451.7,135.7 451.8,136.7 451.8,136.9 451.9,135.0 452.0,131.9 452.0,135.9 452.1,134.7 452.2,132.1 452.2,137.2 452.3,135.4 452.3,133.2 452.4,136.7 452.5,132.2 452.5,132.8 452.6,136.2 452.6,133.7 452.7,134.1 452.8,132.9 452.8,135.4 452.9,134.8 452.9,135.6 453.0,135.2 453.1,135.8 453.1,131.9 453.2,131.8 453.3,134.4 453.3,132.5 453.4,139.3 453.4,135.3 453.5,134.6 453.6,130.9 453.6,134.4 453.7,133.2 453.7,131.1 453.8,135.2 453.9,132.2 453.9,135.7 454.0,132.2 454.0,131.9 454.1,131.4 454.2,130.3 454.2,131.6 454.3,130.3 454.3,133.6 454.4,132.8 454.5,134.4 454.5,135.3 454.6,133.5 454.7,131.8 454.7,131.7 454.8,136.4 454.8,131.6 454.9,135.1 455.0,134.9 455.0,132.2 455.1,132.4 455.1,132.6 455.2,134.8 455.3,134.2 455.3,132.0 455.4,134.8 455.4,132.5 455.5,133.4 455.6,135.1 455.6,133.0 455.7,136.0 455.8,134.1 455.8,134.8 455.9,136.6 455.9,134.9 456.0,138.5 456.1,135.0 456.1,137.5 456.2,133.4 456.2,133.3 456.3,137.6 456.4,132.8 456.4,135.2 456.5,137.3 456.5,133.9 456.6,135.9 456.7,134.8 456.7,134.2 456.8,135.8 456.9,138.5 456.9,134.3 457.0,134.9 457.0,133.1 457.1,136.1 457.2,133.5 457.2,132.8 457.3,137.1 457.3,134.9 457.4,134.8 457.5,137.0 457.5,135.7 457.6,135.2 457.6,136.8 457.7,133.5 457.8,135.4 457.8,134.6 457.9,136.3 457.9,135.5 458.0,133.3 458.1,134.6 458.1,133.5 458.2,134.1 458.3,133.1 458.3,131.5 458.4,134.4 458.4,133.0 458.5,132.5 458.6,135.8 458.6,131.5 458.7,133.8 458.7,135.2 458.8,132.4 458.9,132.2 458.9,133.8 459.0,132.3 459.0,136.5 459.1,134.3 459.2,131.9 459.2,130.7 459.3,132.3 459.4,132.4 459.4,133.3 459.5,132.5 459.5,132.9 459.6,130.9 459.7,131.5 459.7,132.1 459.8,131.3 459.8,135.6 459.9,132.0 460.0,133.4 460.0,132.4 460.1,135.0 460.1,134.2 460.2,132.6 460.3,136.9 460.3,135.6 460.4,134.5 460.5,132.5 460.5,135.5 460.6,132.4 460.6,135.5 460.7,135.7 460.8,134.1 460.8,133.3 460.9,132.8 460.9,132.9 461.0,136.3 461.1,133.6 461.1,134.1 461.2,139.0 461.2,133.6 461.3,132.8 461.4,135.0 461.4,132.8 461.5,137.1 461.5,136.2 461.6,137.5 461.7,135.3 461.7,133.8 461.8,134.5 461.9,136.8 461.9,133.4 462.0,135.6 462.0,136.7 462.1,136.5 462.2,133.5 462.2,133.0 462.3,133.5 462.3,135.7 462.4,135.8 462.5,135.6 462.5,136.7 462.6,135.4 462.6,137.2 462.7,137.5 462.8,136.3 462.8,140.3 462.9,136.2 463.0,135.2 463.0,135.5 463.1,134.3 463.1,134.8 463.2,136.2 463.3,134.7 463.3,136.7 463.4,134.8 463.4,137.4 463.5,136.2 463.6,134.2 463.6,136.7 463.7,141.5 463.7,135.4 463.8,138.1 463.9,135.3 463.9,140.0 464.0,138.5 464.1,139.0 464.1,137.9 464.2,134.1 464.2,139.6 464.3,138.0 464.4,136.5 464.4,135.9 464.5,135.0 464.5,137.2 464.6,137.4 464.7,133.9 464.7,137.8 464.8,138.1 464.8,137.5 464.9,135.7 465.0,133.5 465.0,134.5 465.1,134.9 465.1,134.5 465.2,134.0 465.3,134.1 465.3,135.6 465.4,136.6 465.5,136.0 465.5,133.2 465.6,133.9 465.6,133.5 465.7,137.6 465.8,132.7 465.8,135.4 465.9,132.6 465.9,134.3 466.0,134.5 466.1,133.0 466.1,134.5 466.2,134.3 466.2,136.6 466.3,134.4 466.4,135.4 466.4,137.0 466.5,136.8 466.6,139.1 466.6,136.4 466.7,133.9 466.7,137.3 466.8,137.9 466.9,132.6 466.9,136.4 467.0,135.2 467.0,136.7 467.1,137.1 467.2,136.1 467.2,134.1 467.3,138.0 467.3,134.0 467.4,133.1 467.5,135.6 467.5,136.8 467.6,137.5 467.7,137.8 467.7,137.1 467.8,134.7 467.8,138.8 467.9,135.0 468.0,135.8 468.0,139.3 468.1,139.0 468.1,135.4 468.2,135.4 468.3,137.2 468.3,134.3 468.4,137.6 468.4,136.6 468.5,137.9 468.6,135.0 468.6,137.5 468.7,137.0 468.7,133.6 468.8,134.8 468.9,134.0 468.9,133.2 469.0,133.5 469.1,135.9 469.1,133.2 469.2,137.8 469.2,134.8 469.3,133.5 469.4,135.4 469.4,135.0 469.5,132.3 469.5,131.9 469.6,134.1 469.7,133.9 469.7,134.9 469.8,133.2 469.8,133.2 469.9,131.6 470.0,136.0 470.0,131.8 470.1,131.5 470.2,135.1 470.2,133.2 470.3,132.7 470.3,135.6 470.4,135.4 470.5,134.2 470.5,133.2 470.6,137.3 470.6,135.3 470.7,137.9 470.8,133.7 470.8,133.9 470.9,137.7 470.9,134.4 471.0,134.6 471.1,137.2 471.1,134.9 471.2,133.8 471.3,135.7 471.3,135.0 471.4,132.4 471.4,134.1 471.5,135.2 471.6,137.6 471.6,137.3 471.7,133.4 471.7,133.7 471.8,133.4 471.9,134.9 471.9,135.3 472.0,135.0 472.0,134.3 472.1,136.4 472.2,135.5 472.2,135.9 472.3,134.8 472.3,137.3 472.4,138.7 472.5,138.2 472.5,137.8 472.6,134.4 472.7,135.1 472.7,135.2 472.8,136.8 472.8,138.4 472.9,136.2 473.0,134.0 473.0,135.9 473.1,135.0 473.1,140.3 473.2,137.9 473.3,135.0 473.3,135.7 473.4,136.2 473.4,136.6 473.5,134.6 473.6,136.1 473.6,138.2 473.7,136.4 473.8,133.9 473.8,135.8 473.9,137.8 473.9,133.6 474.0,134.9 474.1,134.8 474.1,136.9 474.2,134.4 474.2,136.8 474.3,134.1 474.4,134.2 474.4,135.6 474.5,134.5 474.5,135.9 474.6,134.9 474.7,138.4 474.7,133.4 474.8,134.5 474.9,138.3 474.9,138.1 475.0,136.4 475.0,135.7 475.1,139.2 475.2,135.0 475.2,138.6 475.3,134.7 475.3,136.1 475.4,137.6 475.5,137.9 475.5,139.1 475.6,139.1 475.6,136.4 475.7,135.3 475.8,134.5 475.8,137.1 475.9,134.5 475.9,137.6 476.0,134.3 476.1,137.8 476.1,138.5 476.2,134.3 476.3,135.4 476.3,135.5 476.4,134.4 476.4,135.9 476.5,135.9 476.6,136.7 476.6,134.0 476.7,134.0 476.7,137.2 476.8,133.7 476.9,136.2 476.9,136.3 477.0,136.0 477.0,133.7 477.1,135.0 477.2,134.9 477.2,136.0 477.3,134.9 477.4,132.8 477.4,136.9 477.5,135.1 477.5,134.7 477.6,137.4 477.7,139.2 477.7,133.0 477.8,132.1 477.8,133.0 477.9,136.7 478.0,133.4 478.0,134.8 478.1,136.1 478.1,134.6 478.2,131.8 478.3,132.9 478.3,135.7 478.4,137.5 478.5,133.0 478.5,132.6 478.6,135.3 478.6,136.9 478.7,135.3 478.8,138.0 478.8,135.8 478.9,136.4 478.9,136.4 479.0,135.6 479.1,136.9 479.1,136.2 479.2,132.4 479.2,137.8 479.3,134.0 479.4,133.5 479.4,135.5 479.5,134.6 479.5,136.6 479.6,134.1 479.7,133.7 479.7,133.6 479.8,134.1 479.9,131.7 479.9,132.1 480.0,133.5 480.0,135.3 480.1,135.1 480.2,131.8 480.2,133.5 480.3,132.1 480.3,135.4 480.4,135.4 480.5,136.5 480.5,134.5 480.6,136.6 480.6,136.7 480.7,133.4 480.8,137.5 480.8,136.0 480.9,140.2 481.0,133.8 481.0,137.4 481.1,136.6 481.1,133.8 481.2,134.7 481.3,135.0 481.3,133.7 481.4,138.8 481.4,135.9 481.5,135.8 481.6,138.3 481.6,135.6 481.7,139.3 481.7,139.3 481.8,135.7 481.9,136.4 481.9,138.4 482.0,139.9 482.1,137.2 482.1,139.8 482.2,135.9 482.2,138.3 482.3,135.6 482.4,139.2 482.4,136.8 482.5,139.0 482.5,140.2 482.6,136.4 482.7,137.8 482.7,134.1 482.8,135.1 482.8,136.9 482.9,134.3 483.0,136.7 483.0,133.6 483.1,137.7 483.2,133.9 483.2,138.2 483.3,134.2 483.3,136.5 483.4,138.4 483.5,134.1 483.5,137.3 483.6,136.4 483.6,136.7 483.7,133.1 483.8,135.5 483.8,134.0 483.9,134.9 483.9,135.2 484.0,131.5 484.1,133.7 484.1,133.0 484.2,133.2 484.2,132.5 484.3,135.7 484.4,136.7 484.4,134.1 484.5,135.4 484.6,136.0 484.6,131.3 484.7,132.7 484.7,134.1 484.8,135.8 484.9,132.1 484.9,133.6 485.0,135.8 485.0,131.2 485.1,131.5 485.2,136.9 485.2,132.4 485.3,134.2 485.3,135.3 485.4,133.3 485.5,136.5 485.5,134.1 485.6,137.1 485.7,139.2 485.7,134.0 485.8,136.0 485.8,133.9 485.9,134.0 486.0,134.1 486.0,135.5 486.1,134.8 486.1,135.8 486.2,134.3 486.3,134.1 486.3,138.9 486.4,138.4 486.4,137.4 486.5,138.6 486.6,139.1 486.6,135.4 486.7,139.6 486.8,139.4 486.8,136.7 486.9,140.0 486.9,139.8 487.0,135.8 487.1,137.2 487.1,143.0 487.2,139.9 487.2,139.1 487.3,135.4 487.4,136.3 487.4,139.5 487.5,136.0 487.5,137.7 487.6,135.7 487.7,137.8 487.7,139.2 487.8,140.0 487.8,138.3 487.9,135.1 488.0,134.8 488.0,140.7 488.1,135.0 488.2,138.1 488.2,137.3 488.3,134.0 488.3,133.3 488.4,136.1 488.5,134.3 488.5,133.3 488.6,132.7 488.6,136.8 488.7,135.0 488.8,136.5 488.8,135.7 488.9,136.1 488.9,137.6 489.0,139.1 489.1,135.2 489.1,135.6 489.2,134.6 489.3,137.6 489.3,137.3 489.4,135.4 489.4,133.9 489.5,136.5 489.6,137.9 489.6,136.0 489.7,133.6 489.7,134.2 489.8,133.6 489.9,135.9 489.9,136.8 490.0,133.9 490.0,134.8 490.1,134.7 490.2,136.8 490.2,137.2 490.3,137.0 490.4,134.0 490.4,133.5 490.5,136.3 490.5,133.3 490.6,135.9 490.7,135.7 490.7,135.0 490.8,137.2 490.8,139.2 490.9,137.0 491.0,136.6 491.0,135.4 491.1,137.9 491.1,133.9 491.2,137.0 491.3,135.2 491.3,134.7 491.4,137.6 491.4,135.7 491.5,135.0 491.6,138.4 491.6,133.1 491.7,133.4 491.8,136.9 491.8,133.4 491.9,134.9 491.9,134.2 492.0,136.8 492.1,135.2 492.1,134.3 492.2,133.4 492.2,133.6 492.3,137.0 492.4,133.1 492.4,134.7 492.5,135.9 492.5,133.1 492.6,135.8 492.7,135.1 492.7,134.1 492.8,134.7 492.9,137.0 492.9,136.5 493.0,138.5 493.0,135.0 493.1,134.2 493.2,137.9 493.2,135.0 493.3,135.8 493.3,139.5 493.4,135.0 493.5,137.3 493.5,138.2 493.6,139.7 493.6,135.5 493.7,137.9 493.8,137.2 493.8,139.0 493.9,137.1 494.0,138.3 494.0,136.2 494.1,137.3 494.1,136.4 494.2,138.8 494.3,139.6 494.3,135.8 494.4,135.2 494.4,136.4 494.5,134.9 494.6,136.2 494.6,136.6 494.7,137.4 494.7,137.6 494.8,137.1 494.9,138.6 494.9,137.3 495.0,137.1 495.0,139.6 495.1,137.8 495.2,138.5 495.2,137.0 495.3,135.8 495.4,136.6 495.4,136.3 495.5,136.5 495.5,138.0 495.6,137.0 495.7,134.8 495.7,134.3 495.8,138.1 495.8,140.6 495.9,133.1 496.0,133.8 496.0,135.0 496.1,133.6 496.1,135.0 496.2,133.2 496.3,137.6 496.3,136.2 496.4,134.4 496.5,137.3 496.5,134.4 496.6,136.9 496.6,134.2 496.7,133.4 496.8,135.6 496.8,132.5 496.9,134.3 496.9,133.8 497.0,137.7 497.1,137.2 497.1,133.8 497.2,132.3 497.2,134.7 497.3,133.3 497.4,138.0 497.4,135.5 497.5,133.9 497.6,134.9 497.6,136.2 497.7,134.9 497.7,137.4 497.8,134.6 497.9,134.4 497.9,135.6 498.0,136.6 498.0,137.8 498.1,137.0 498.2,137.5 498.2,137.3 498.3,137.8 498.3,136.7 498.4,135.3 498.5,134.8 498.5,135.1 498.6,133.3 498.6,132.7 498.7,133.2 498.8,134.8 498.8,136.6 498.9,132.6 499.0,136.3 499.0,134.2 499.1,136.6 499.1,138.2 499.2,136.6 499.3,135.6 499.3,136.5 499.4,132.9 499.4,134.2 499.5,134.1 499.6,139.2 499.6,136.8 499.7,132.9 499.7,133.2 499.8,133.2 499.9,132.0 499.9,134.8 500.0,136.5 500.1,134.1 500.1,136.5 500.2,135.5 500.2,135.7 500.3,135.3 500.4,133.5 500.4,133.7 500.5,136.2 500.5,133.8 500.6,133.6 500.7,134.3 500.7,135.3 500.8,133.1 500.8,135.5 500.9,137.3 501.0,136.6 501.0,134.6 501.1,135.5 501.2,135.6 501.2,135.8 501.3,137.3 501.3,137.9 501.4,138.3 501.5,134.7 501.5,136.8 501.6,136.4 501.6,133.7 501.7,140.8 501.8,134.5 501.8,135.1 501.9,134.0 501.9,138.9 502.0,139.9 502.1,134.1 502.1,136.5 502.2,133.8 502.2,138.2 502.3,139.0 502.4,134.3 502.4,137.2 502.5,136.6 502.6,134.8 502.6,138.4 502.7,133.8 502.7,137.0 502.8,137.7 502.9,137.9 502.9,136.3 503.0,136.7 503.0,134.4 503.1,138.7 503.2,138.9 503.2,138.2 503.3,136.0 503.3,134.9 503.4,136.3 503.5,136.0 503.5,135.9 503.6,139.4 503.7,138.6 503.7,134.9 503.8,138.2 503.8,135.2 503.9,137.6 504.0,139.3 504.0,140.2 504.1,138.7 504.1,138.9 504.2,138.5 504.3,138.6 504.3,138.0 504.4,138.4 504.4,140.6 504.5,139.1 504.6,135.1 504.6,144.1 504.7,135.6 504.8,136.8 504.8,135.5 504.9,137.3 504.9,137.0 505.0,135.8 505.1,133.6 505.1,136.2 505.2,137.3 505.2,137.2 505.3,134.3 505.4,135.8 505.4,136.8 505.5,134.5 505.5,133.7 505.6,134.8 505.7,137.2 505.7,135.8 505.8,136.5 505.8,137.7 505.9,132.2 506.0,134.8 506.0,136.8 506.1,133.3 506.2,133.0 506.2,134.1 506.3,137.6 506.3,138.1 506.4,136.5 506.5,136.1 506.5,134.7 506.6,134.2 506.6,135.1 506.7,138.2 506.8,137.3 506.8,139.6 506.9,137.2 506.9,139.6 507.0,139.1 507.1,138.8 507.1,137.7 507.2,137.4 507.3,135.2 507.3,138.6 507.4,138.8 507.4,136.1 507.5,136.0 507.6,135.7 507.6,135.3 507.7,135.5 507.7,136.2 507.8,134.7 507.9,138.2 507.9,137.5 508.0,135.0 508.0,138.1 508.1,136.5 508.2,137.9 508.2,136.9 508.3,134.2 508.4,135.4 508.4,136.9 508.5,138.3 508.5,135.7 508.6,136.4 508.7,138.3 508.7,136.2 508.8,137.3 508.8,135.8 508.9,137.3 509.0,136.4 509.0,137.8 509.1,137.1 509.1,136.6 509.2,140.3 509.3,138.0 509.3,137.5 509.4,140.1 509.4,136.2 509.5,136.3 509.6,134.8 509.6,137.9 509.7,137.1 509.8,134.7 509.8,137.8 509.9,135.4 509.9,137.4 510.0,137.5 510.1,137.6 510.1,137.7 510.2,136.1 510.2,137.4 510.3,133.8 510.4,132.9 510.4,140.9 510.5,137.1 510.5,137.7 510.6,132.6 510.7,136.7 510.7,133.8 510.8,135.6 510.9,135.8 510.9,135.6 511.0,135.6 511.0,140.0 511.1,132.2 511.2,133.3 511.2,135.2 511.3,135.3 511.3,132.7 511.4,132.4 511.5,134.1 511.5,134.1 511.6,133.4 511.6,131.0 511.7,133.1 511.8,131.3 511.8,137.0 511.9,133.3 512.0,133.8 512.0,132.9 512.1,133.6 512.1,132.3 512.2,138.4 512.3,134.2 512.3,131.4 512.4,134.3 512.4,132.0 512.5,131.8 512.6,133.9 512.6,136.3 512.7,133.2 512.7,133.8 512.8,136.1 512.9,133.0 512.9,135.3 513.0,137.6 513.1,137.4 513.1,136.5 513.2,134.7 513.2,133.5 513.3,137.5 513.4,138.3 513.4,135.4 513.5,136.3 513.5,136.7 513.6,135.0 513.7,134.4 513.7,134.4 513.8,135.3 513.8,139.3 513.9,138.3 514.0,135.7 514.0,133.7 514.1,138.4 514.1,135.9 514.2,136.5 514.3,136.7 514.3,137.4 514.4,137.1 514.5,137.3 514.5,138.1 514.6,135.9 514.6,136.6 514.7,135.1 514.8,135.5 514.8,133.8 514.9,136.9 514.9,133.8 515.0,136.7 515.1,134.4 515.1,133.5 515.2,135.6 515.2,135.2 515.3,134.5 515.4,137.9 515.4,135.9 515.5,139.1 515.6,138.6 515.6,136.0 515.7,134.2 515.7,133.7 515.8,137.5 515.9,138.1 515.9,136.7 516.0,137.1 516.0,137.1 516.1,134.6 516.2,135.0 516.2,135.9 516.3,135.5 516.3,135.5 516.4,135.0 516.5,133.5 516.5,133.4 516.6,133.5 516.7,134.6 516.7,139.0 516.8,137.6 516.8,135.7 516.9,138.2 517.0,139.4 517.0,139.2 517.1,143.2 517.1,137.9 517.2,140.1 517.3,138.1 517.3,139.0 517.4,135.3 517.4,137.7 517.5,137.3 517.6,135.2 517.6,136.9 517.7,139.2 517.7,138.2 517.8,136.0 517.9,141.6 517.9,137.6 518.0,135.4 518.1,136.6 518.1,137.9 518.2,136.2 518.2,135.8 518.3,139.0 518.4,137.8 518.4,137.6 518.5,134.6 518.5,139.0 518.6,137.6 518.7,138.3 518.7,135.7 518.8,135.6 518.8,139.7 518.9,135.5 519.0,136.8 519.0,139.3 519.1,135.3 519.2,138.5 519.2,136.4 519.3,140.4 519.3,138.6 519.4,138.3 519.5,136.4 519.5,137.1 519.6,137.9 519.6,140.5 519.7,138.5 519.8,138.8 519.8,135.1 519.9,136.7 519.9,137.9 520.0,139.8 520.1,136.2 520.1,139.4 520.2,135.3 520.3,135.3 520.3,136.3 520.4,135.2 520.4,136.7 520.5,138.2 520.6,137.1 520.6,139.6 520.7,139.2 520.7,136.9 520.8,134.6 520.9,138.0 520.9,135.9 521.0,133.5 521.0,134.1 521.1,134.3 521.2,135.3 521.2,135.6 521.3,135.4 521.3,135.2 521.4,136.2 521.5,136.9 521.5,138.1 521.6,138.2 521.7,136.5 521.7,134.7 521.8,136.2 521.8,138.2 521.9,134.1 522.0,138.2 522.0,133.4 522.1,134.6 522.1,135.3 522.2,136.4 522.3,134.4 522.3,139.0 522.4,138.7 522.4,136.4 522.5,137.3 522.6,136.6 522.6,135.5 522.7,138.3 522.8,133.5 522.8,135.2 522.9,138.6 522.9,134.9 523.0,136.3 523.1,135.0 523.1,134.9 523.2,133.5 523.2,138.1 523.3,133.6 523.4,136.2 523.4,137.9 523.5,137.1 523.5,137.1 523.6,134.0 523.7,135.5 523.7,137.8 523.8,134.7 523.9,135.9 523.9,134.2 524.0,138.0 524.0,133.7 524.1,133.6 524.2,138.2 524.2,135.8 524.3,137.7 524.3,135.6 524.4,137.9 524.5,133.7 524.5,137.1 524.6,134.7 524.6,135.1 524.7,137.0 524.8,137.3 524.8,133.5 524.9,138.6 524.9,137.4 525.0,137.4 525.1,136.5 525.1,137.9 525.2,139.6 525.3,137.2 525.3,136.2 525.4,136.2 525.4,137.4 525.5,141.0 525.6,140.6 525.6,137.7 525.7,137.2 525.7,138.0 525.8,135.1 525.9,139.8 525.9,136.5 526.0,141.2 526.0,136.3 526.1,136.4 526.2,139.6 526.2,135.9 526.3,139.1 526.4,137.5 526.4,135.9 526.5,138.0 526.5,137.7 526.6,140.0 526.7,137.4 526.7,139.3 526.8,138.5 526.8,138.7 526.9,135.3 527.0,137.3 527.0,136.4 527.1,139.0 527.1,138.6 527.2,135.8 527.3,139.7 527.3,135.5 527.4,137.9 527.5,137.8 527.5,136.7 527.6,137.4 527.6,136.9 527.7,137.4 527.8,136.0 527.8,138.2 527.9,138.9 527.9,137.2 528.0,138.8" stroke="#19c419" stroke-width="0.9"/>
</g>
<rect x="345.0" y="17.2" width="183.0" height="132.4" fill="none" stroke="#707070" stroke-width="0.9"/>
<line x1="343.0" y1="149.60" x2="345.0" y2="149.60" stroke="#555" stroke-width="0.8"/>
<text x="340.4" y="151.6" font-family="'Liberation Sans', sans-serif" font-size="5.6" font-weight="bold" fill="#222" text-anchor="end" font-style="normal" stroke="#222" stroke-width="0.2" >0.0</text>
<line x1="343.0" y1="123.12" x2="345.0" y2="123.12" stroke="#555" stroke-width="0.8"/>
<text x="340.4" y="125.11999999999999" font-family="'Liberation Sans', sans-serif" font-size="5.6" font-weight="bold" fill="#222" text-anchor="end" font-style="normal" stroke="#222" stroke-width="0.2" >0.2</text>
<line x1="343.0" y1="96.64" x2="345.0" y2="96.64" stroke="#555" stroke-width="0.8"/>
<text x="340.4" y="98.63999999999999" font-family="'Liberation Sans', sans-serif" font-size="5.6" font-weight="bold" fill="#222" text-anchor="end" font-style="normal" stroke="#222" stroke-width="0.2" >0.4</text>
<line x1="343.0" y1="70.16" x2="345.0" y2="70.16" stroke="#555" stroke-width="0.8"/>
<text x="340.4" y="72.16" font-family="'Liberation Sans', sans-serif" font-size="5.6" font-weight="bold" fill="#222" text-anchor="end" font-style="normal" stroke="#222" stroke-width="0.2" >0.6</text>
<line x1="343.0" y1="43.68" x2="345.0" y2="43.68" stroke="#555" stroke-width="0.8"/>
<text x="340.4" y="45.67999999999998" font-family="'Liberation Sans', sans-serif" font-size="5.6" font-weight="bold" fill="#222" text-anchor="end" font-style="normal" stroke="#222" stroke-width="0.2" >0.8</text>
<line x1="343.0" y1="17.20" x2="345.0" y2="17.20" stroke="#555" stroke-width="0.8"/>
<text x="340.4" y="19.19999999999999" font-family="'Liberation Sans', sans-serif" font-size="5.6" font-weight="bold" fill="#222" text-anchor="end" font-style="normal" stroke="#222" stroke-width="0.2" >1.0</text>
<line x1="345.00" y1="149.6" x2="345.00" y2="151.1" stroke="#555" stroke-width="0.8"/>
<text x="345.0" y="158.8" font-family="'Liberation Sans', sans-serif" font-size="5.6" font-weight="bold" fill="#222" text-anchor="middle" font-style="normal" stroke="#222" stroke-width="0.2" >0</text>
<line x1="369.40" y1="149.6" x2="369.40" y2="151.1" stroke="#555" stroke-width="0.8"/>
<text x="369.4" y="158.8" font-family="'Liberation Sans', sans-serif" font-size="5.6" font-weight="bold" fill="#222" text-anchor="middle" font-style="normal" stroke="#222" stroke-width="0.2" >200</text>
<line x1="393.80" y1="149.6" x2="393.80" y2="151.1" stroke="#555" stroke-width="0.8"/>
<text x="393.8" y="158.8" font-family="'Liberation Sans', sans-serif" font-size="5.6" font-weight="bold" fill="#222" text-anchor="middle" font-style="normal" stroke="#222" stroke-width="0.2" >400</text>
<line x1="418.20" y1="149.6" x2="418.20" y2="151.1" stroke="#555" stroke-width="0.8"/>
<text x="418.2" y="158.8" font-family="'Liberation Sans', sans-serif" font-size="5.6" font-weight="bold" fill="#222" text-anchor="middle" font-style="normal" stroke="#222" stroke-width="0.2" >600</text>
<line x1="442.60" y1="149.6" x2="442.60" y2="151.1" stroke="#555" stroke-width="0.8"/>
<text x="442.6" y="158.8" font-family="'Liberation Sans', sans-serif" font-size="5.6" font-weight="bold" fill="#222" text-anchor="middle" font-style="normal" stroke="#222" stroke-width="0.2" >800</text>
<line x1="467.00" y1="149.6" x2="467.00" y2="151.1" stroke="#555" stroke-width="0.8"/>
<text x="467.0" y="158.8" font-family="'Liberation Sans', sans-serif" font-size="5.6" font-weight="bold" fill="#222" text-anchor="middle" font-style="normal" stroke="#222" stroke-width="0.2" >1000</text>
<line x1="491.40" y1="149.6" x2="491.40" y2="151.1" stroke="#555" stroke-width="0.8"/>
<text x="491.4" y="158.8" font-family="'Liberation Sans', sans-serif" font-size="5.6" font-weight="bold" fill="#222" text-anchor="middle" font-style="normal" stroke="#222" stroke-width="0.2" >1200</text>
<line x1="515.80" y1="149.6" x2="515.80" y2="151.1" stroke="#555" stroke-width="0.8"/>
<text x="515.8" y="158.8" font-family="'Liberation Sans', sans-serif" font-size="5.6" font-weight="bold" fill="#222" text-anchor="middle" font-style="normal" stroke="#222" stroke-width="0.2" >1400</text>
<text x="430.5" y="168.8" font-family="'Liberation Sans', sans-serif" font-size="6.5" font-weight="bold" fill="#222" text-anchor="middle" font-style="normal" stroke="#222" stroke-width="0.12" textLength="39.3" lengthAdjust="spacingAndGlyphs" >Distance (m)</text>
<text x="0" y="0" font-family="'Liberation Sans', sans-serif" font-size="7" font-weight="bold" fill="#222" stroke="#222" stroke-width="0.12" text-anchor="middle" textLength="58.8" lengthAdjust="spacingAndGlyphs" transform="translate(327.5,85.3) rotate(-90)">Friction coefficient</text>
<rect x="346.1" y="17.2" width="69.5" height="33" fill="#fff" stroke="#808080" stroke-width="0.7"/>
<line x1="349.5" y1="25.1" x2="363.3" y2="25.1" stroke="#9a9a9a" stroke-width="1"/>
<text x="366.8" y="27.200000000000003" font-family="'Liberation Sans', sans-serif" font-size="6.3" font-weight="normal" fill="#333" text-anchor="start" font-style="normal" stroke="#333" stroke-width="0.12" >H<tspan font-size="4.2" dy="1.4">2</tspan><tspan dy="-1.4">O</tspan></text>
<line x1="349.5" y1="34.7" x2="363.3" y2="34.7" stroke="#f8a4a4" stroke-width="1"/>
<text x="366.8" y="36.800000000000004" font-family="'Liberation Sans', sans-serif" font-size="6.3" font-weight="normal" fill="#333" text-anchor="start" font-style="normal" stroke="#333" stroke-width="0.12" >H<tspan font-size="4.2" dy="1.4">2</tspan><tspan dy="-1.4">O+1wt.%MSu</tspan></text>
<line x1="349.5" y1="43.7" x2="363.3" y2="43.7" stroke="#9ee09e" stroke-width="1"/>
<text x="366.8" y="45.800000000000004" font-family="'Liberation Sans', sans-serif" font-size="6.3" font-weight="normal" fill="#333" text-anchor="start" font-style="normal" stroke="#333" stroke-width="0.12" >MSu</text>
<text x="6.4" y="192.8" font-family="'Liberation Serif', serif" font-size="14.5" font-weight="normal" fill="#111" text-anchor="start" font-style="normal" stroke="#111" stroke-width="0.2" textLength="15" lengthAdjust="spacingAndGlyphs" >(c)</text>
<rect x="40.40" y="207.19" width="14.4" height="95.31" fill="#d4d4d4" stroke="#a0a0a0" stroke-width="0.5"/>
<path d="M46.20,206.69 H49.00 M46.20,207.49 H49.00" stroke="#444" stroke-width="0.45"/>
<rect x="63.90" y="261.01" width="14.4" height="41.49" fill="#ffd4d4" stroke="#e8a0a0" stroke-width="0.5"/>
<path d="M69.70,260.51 H72.50 M69.70,261.31 H72.50" stroke="#444" stroke-width="0.45"/>
<rect x="87.40" y="288.99" width="14.4" height="13.51" fill="#c4f7d6" stroke="#86d6a2" stroke-width="0.5"/>
<path d="M93.20,288.49 H96.00 M93.20,289.29 H96.00" stroke="#444" stroke-width="0.45"/>
<rect x="111.00" y="289.96" width="14.4" height="12.54" fill="#d0d0f8" stroke="#a0a0e4" stroke-width="0.5"/>
<path d="M116.80,289.46 H119.60 M116.80,290.26 H119.60" stroke="#444" stroke-width="0.45"/>
<rect x="134.60" y="287.24" width="14.4" height="15.26" fill="#ccf8f8" stroke="#86dada" stroke-width="0.5"/>
<path d="M140.40,286.74 H143.20 M140.40,287.54 H143.20" stroke="#444" stroke-width="0.45"/>
<rect x="158.20" y="282.56" width="14.4" height="19.94" fill="#fad0fa" stroke="#e09ae0" stroke-width="0.5"/>
<path d="M164.00,282.06 H166.80 M164.00,282.86 H166.80" stroke="#444" stroke-width="0.45"/>
<path d="M46.3,204.2 H48.9 M47.6,204.2 V209.2 M46.3,209.2 H48.9" stroke="#222" stroke-width="0.55"/>
<rect x="35.0" y="195.0" width="141.9" height="107.5" fill="none" stroke="#555" stroke-width="0.7"/>
<polyline points="47.5,250.7 70.9,270.2 94.4,271.3 118.1,262.5 141.7,241 165.2,233.9" fill="none" stroke="#333" stroke-width="0.75"/>
<path d="M46.3,246.2 H48.7 M47.5,246.2 V255.2 M46.3,255.2 H48.7" stroke="#111" stroke-width="0.6"/>
<rect x="46.0" y="249.2" width="3" height="3" fill="#111"/>
<path d="M69.7,262.8 H72.10000000000001 M70.9,262.8 V277.59999999999997 M69.7,277.59999999999997 H72.10000000000001" stroke="#f01818" stroke-width="0.6"/>
<rect x="69.4" y="268.7" width="3" height="3" fill="#f01818"/>
<path d="M93.2,270.3 H95.60000000000001 M94.4,270.3 V272.3 M93.2,272.3 H95.60000000000001" stroke="#18e028" stroke-width="0.6"/>
<rect x="92.9" y="269.8" width="3" height="3" fill="#18e028"/>
<path d="M116.89999999999999,258.5 H119.3 M118.1,258.5 V266.5 M116.89999999999999,266.5 H119.3" stroke="#1828e0" stroke-width="0.6"/>
<rect x="116.6" y="261.0" width="3" height="3" fill="#1828e0"/>
<path d="M140.5,234.4 H142.89999999999998 M141.7,234.4 V247.6 M140.5,247.6 H142.89999999999998" stroke="#18dcec" stroke-width="0.6"/>
<rect x="140.2" y="239.5" width="3" height="3" fill="#18dcec"/>
<path d="M164.0,227.70000000000002 H166.39999999999998 M165.2,227.70000000000002 V240.1 M164.0,240.1 H166.39999999999998" stroke="#f018f0" stroke-width="0.6"/>
<rect x="163.7" y="232.4" width="3" height="3" fill="#f018f0"/>
<line x1="33.0" y1="292.50" x2="35.0" y2="292.50" stroke="#555" stroke-width="0.55"/>
<text x="32.0" y="294.0" font-family="'Liberation Sans', sans-serif" font-size="4.3" font-weight="normal" fill="#333" text-anchor="end" font-style="normal" stroke="#333" stroke-width="0.15" >0</text>
<line x1="33.0" y1="273.00" x2="35.0" y2="273.00" stroke="#555" stroke-width="0.55"/>
<text x="32.0" y="274.5" font-family="'Liberation Sans', sans-serif" font-size="4.3" font-weight="normal" fill="#333" text-anchor="end" font-style="normal" stroke="#333" stroke-width="0.15" >200</text>
<line x1="33.0" y1="253.50" x2="35.0" y2="253.50" stroke="#555" stroke-width="0.55"/>
<text x="32.0" y="255.0" font-family="'Liberation Sans', sans-serif" font-size="4.3" font-weight="normal" fill="#333" text-anchor="end" font-style="normal" stroke="#333" stroke-width="0.15" >400</text>
<line x1="33.0" y1="234.00" x2="35.0" y2="234.00" stroke="#555" stroke-width="0.55"/>
<text x="32.0" y="235.5" font-family="'Liberation Sans', sans-serif" font-size="4.3" font-weight="normal" fill="#333" text-anchor="end" font-style="normal" stroke="#333" stroke-width="0.15" >600</text>
<line x1="33.0" y1="214.50" x2="35.0" y2="214.50" stroke="#555" stroke-width="0.55"/>
<text x="32.0" y="216.0" font-family="'Liberation Sans', sans-serif" font-size="4.3" font-weight="normal" fill="#333" text-anchor="end" font-style="normal" stroke="#333" stroke-width="0.15" >800</text>
<line x1="33.0" y1="195.00" x2="35.0" y2="195.00" stroke="#555" stroke-width="0.55"/>
<text x="32.0" y="196.5" font-family="'Liberation Sans', sans-serif" font-size="4.3" font-weight="normal" fill="#333" text-anchor="end" font-style="normal" stroke="#333" stroke-width="0.15" >1000</text>
<line x1="33.8" y1="282.75" x2="35.0" y2="282.75" stroke="#555" stroke-width="0.45"/>
<line x1="33.8" y1="263.25" x2="35.0" y2="263.25" stroke="#555" stroke-width="0.45"/>
<line x1="33.8" y1="243.75" x2="35.0" y2="243.75" stroke="#555" stroke-width="0.45"/>
<line x1="33.8" y1="224.25" x2="35.0" y2="224.25" stroke="#555" stroke-width="0.45"/>
<line x1="33.8" y1="204.75" x2="35.0" y2="204.75" stroke="#555" stroke-width="0.45"/>
<line x1="176.9" y1="287.80" x2="178.9" y2="287.80" stroke="#555" stroke-width="0.55"/>
<text x="180.20000000000002" y="289.40000000000003" font-family="'Liberation Sans', sans-serif" font-size="4.5" font-weight="normal" fill="#333" text-anchor="start" font-style="normal" stroke="#333" stroke-width="0.15" >0.12</text>
<line x1="176.9" y1="266.35" x2="178.9" y2="266.35" stroke="#555" stroke-width="0.55"/>
<text x="180.20000000000002" y="267.95000000000005" font-family="'Liberation Sans', sans-serif" font-size="4.5" font-weight="normal" fill="#333" text-anchor="start" font-style="normal" stroke="#333" stroke-width="0.15" >0.15</text>
<line x1="176.9" y1="244.90" x2="178.9" y2="244.90" stroke="#555" stroke-width="0.55"/>
<text x="180.20000000000002" y="246.5" font-family="'Liberation Sans', sans-serif" font-size="4.5" font-weight="normal" fill="#333" text-anchor="start" font-style="normal" stroke="#333" stroke-width="0.15" >0.18</text>
<line x1="176.9" y1="223.45" x2="178.9" y2="223.45" stroke="#555" stroke-width="0.55"/>
<text x="180.20000000000002" y="225.04999999999998" font-family="'Liberation Sans', sans-serif" font-size="4.5" font-weight="normal" fill="#333" text-anchor="start" font-style="normal" stroke="#333" stroke-width="0.15" >0.21</text>
<line x1="176.9" y1="202.00" x2="178.9" y2="202.00" stroke="#555" stroke-width="0.55"/>
<text x="180.20000000000002" y="203.6" font-family="'Liberation Sans', sans-serif" font-size="4.5" font-weight="normal" fill="#333" text-anchor="start" font-style="normal" stroke="#333" stroke-width="0.15" >0.24</text>
<line x1="176.9" y1="277.07" x2="178.1" y2="277.07" stroke="#555" stroke-width="0.45"/>
<line x1="176.9" y1="255.62" x2="178.1" y2="255.62" stroke="#555" stroke-width="0.45"/>
<line x1="176.9" y1="234.17" x2="178.1" y2="234.17" stroke="#555" stroke-width="0.45"/>
<line x1="176.9" y1="212.72" x2="178.1" y2="212.72" stroke="#555" stroke-width="0.45"/>
<line x1="47.6" y1="302.5" x2="47.6" y2="304.5" stroke="#555" stroke-width="0.55"/>
<line x1="71.1" y1="302.5" x2="71.1" y2="304.5" stroke="#555" stroke-width="0.55"/>
<line x1="94.6" y1="302.5" x2="94.6" y2="304.5" stroke="#555" stroke-width="0.55"/>
<line x1="118.2" y1="302.5" x2="118.2" y2="304.5" stroke="#555" stroke-width="0.55"/>
<line x1="141.8" y1="302.5" x2="141.8" y2="304.5" stroke="#555" stroke-width="0.55"/>
<line x1="165.4" y1="302.5" x2="165.4" y2="304.5" stroke="#555" stroke-width="0.55"/>
<line x1="59.35" y1="302.5" x2="59.35" y2="303.7" stroke="#555" stroke-width="0.45"/>
<line x1="82.85" y1="302.5" x2="82.85" y2="303.7" stroke="#555" stroke-width="0.45"/>
<line x1="106.4" y1="302.5" x2="106.4" y2="303.7" stroke="#555" stroke-width="0.45"/>
<line x1="130" y1="302.5" x2="130" y2="303.7" stroke="#555" stroke-width="0.45"/>
<line x1="153.6" y1="302.5" x2="153.6" y2="303.7" stroke="#555" stroke-width="0.45"/>
<text x="0" y="0" font-family="'Liberation Serif', serif" font-size="5.4" fill="#444" stroke="#444" stroke-width="0.15" text-anchor="middle" textLength="52" lengthAdjust="spacingAndGlyphs" transform="translate(19.6,252.6) rotate(-90)">Wear volume/(10<tspan font-size="3.3" dy="-1.8">-3</tspan><tspan dy="1.8"> mm</tspan><tspan font-size="3.3" dy="-1.8">3</tspan><tspan dy="1.8">)</tspan></text>
<text x="0" y="0" font-family="'Liberation Sans', sans-serif" font-size="6" fill="#444" stroke="#444" stroke-width="0.15" text-anchor="middle" textLength="63.8" lengthAdjust="spacingAndGlyphs" transform="translate(197.3,252.7) rotate(-90)">Average friction coefficient</text>
<rect x="95.7" y="200.1" width="10.8" height="3.9" fill="#d4d4d4" stroke="#b0b0b0" stroke-width="0.4"/>
<text x="108.7" y="203.5" font-family="'Liberation Serif', serif" font-size="5.1" font-weight="normal" fill="#333" text-anchor="start" font-style="normal" stroke="#333" stroke-width="0.15" textLength="27.7" lengthAdjust="spacingAndGlyphs" >Wear volume</text>
<path d="M95.6,209.1 H99.6 M103.3,209.1 H107.3" stroke="#222" stroke-width="0.7"/>
<circle cx="101.45" cy="209.1" r="1.2" fill="#111"/>
<text x="108.7" y="210.4" font-family="'Liberation Serif', serif" font-size="5.1" font-weight="normal" fill="#333" text-anchor="start" font-style="normal" stroke="#333" stroke-width="0.15" textLength="57.5" lengthAdjust="spacingAndGlyphs" >Average friction coefficient</text>
<text x="47.6" y="310.1" font-family="'Liberation Sans', sans-serif" font-size="4.3" font-weight="normal" fill="#333" text-anchor="middle" font-style="normal" stroke="#333" stroke-width="0.15" >0%</text>
<text x="47.6" y="315.2" font-family="'Liberation Sans', sans-serif" font-size="4.3" font-weight="normal" fill="#333" text-anchor="middle" font-style="normal" stroke="#333" stroke-width="0.15" >0%</text>
<text x="71.1" y="310.1" font-family="'Liberation Sans', sans-serif" font-size="4.3" font-weight="normal" fill="#333" text-anchor="middle" font-style="normal" stroke="#333" stroke-width="0.15" >1%</text>
<text x="71.1" y="315.2" font-family="'Liberation Sans', sans-serif" font-size="4.3" font-weight="normal" fill="#333" text-anchor="middle" font-style="normal" stroke="#333" stroke-width="0.15" >0%</text>
<text x="94.6" y="310.1" font-family="'Liberation Sans', sans-serif" font-size="4.3" font-weight="normal" fill="#333" text-anchor="middle" font-style="normal" stroke="#333" stroke-width="0.15" >0.75%</text>
<text x="94.6" y="315.2" font-family="'Liberation Sans', sans-serif" font-size="4.3" font-weight="normal" fill="#333" text-anchor="middle" font-style="normal" stroke="#333" stroke-width="0.15" >0.25%</text>
<text x="118.2" y="310.1" font-family="'Liberation Sans', sans-serif" font-size="4.3" font-weight="normal" fill="#333" text-anchor="middle" font-style="normal" stroke="#333" stroke-width="0.15" >0.50%</text>
<text x="118.2" y="315.2" font-family="'Liberation Sans', sans-serif" font-size="4.3" font-weight="normal" fill="#333" text-anchor="middle" font-style="normal" stroke="#333" stroke-width="0.15" >0.50%</text>
<text x="141.8" y="310.1" font-family="'Liberation Sans', sans-serif" font-size="4.3" font-weight="normal" fill="#333" text-anchor="middle" font-style="normal" stroke="#333" stroke-width="0.15" >0.25%</text>
<text x="141.8" y="315.2" font-family="'Liberation Sans', sans-serif" font-size="4.3" font-weight="normal" fill="#333" text-anchor="middle" font-style="normal" stroke="#333" stroke-width="0.15" >0.75%</text>
<text x="165.4" y="310.1" font-family="'Liberation Sans', sans-serif" font-size="4.3" font-weight="normal" fill="#333" text-anchor="middle" font-style="normal" stroke="#333" stroke-width="0.15" >1%</text>
<text x="165.4" y="315.2" font-family="'Liberation Sans', sans-serif" font-size="4.3" font-weight="normal" fill="#333" text-anchor="middle" font-style="normal" stroke="#333" stroke-width="0.15" >0%</text>
<text x="38" y="309.8" font-family="'Liberation Serif', serif" font-size="5" font-weight="normal" fill="#333" text-anchor="end" font-style="normal" stroke="#333" stroke-width="0.15" textLength="33" lengthAdjust="spacingAndGlyphs" >[cho][ricinoleic]</text>
<text x="36.2" y="315" font-family="'Liberation Serif', serif" font-size="5" font-weight="normal" fill="#333" text-anchor="end" font-style="normal" stroke="#333" stroke-width="0.15" textLength="24.7" lengthAdjust="spacingAndGlyphs" >[cho][MBT]</text>
<text x="106.4" y="323.8" font-family="'Liberation Serif', serif" font-size="5" font-weight="normal" fill="#333" text-anchor="middle" font-style="normal" stroke="#333" stroke-width="0.15" textLength="47.3" lengthAdjust="spacingAndGlyphs" >Additive concentration</text>
<defs><linearGradient id="dsk" x1="0" y1="0" x2="0" y2="1"><stop offset="0" stop-color="#bebebe"/><stop offset="0.6" stop-color="#b9b9b9"/><stop offset="1" stop-color="#adadad"/></linearGradient><linearGradient id="dskh" x1="0" y1="0" x2="1" y2="0"><stop offset="0" stop-color="#000" stop-opacity="0.08"/><stop offset="0.15" stop-color="#000" stop-opacity="0"/><stop offset="0.85" stop-color="#000" stop-opacity="0"/><stop offset="1" stop-color="#000" stop-opacity="0.08"/></linearGradient></defs>
<path d="M210.2,270.8 V281.2 Q210.2,283.59999999999997 216.2,283.9 Q264.2,285.0 312.2,283.9 Q318.2,283.59999999999997 318.2,281.2 V270.8 Z" fill="url(#dsk)" stroke="#a4a4a4" stroke-width="0.5"/>
<path d="M210.2,270.8 V281.2 Q210.2,283.59999999999997 216.2,283.9 Q264.2,285.0 312.2,283.9 Q318.2,283.59999999999997 318.2,281.2 V270.8 Z" fill="url(#dskh)"/>
<ellipse cx="264.2" cy="270.8" rx="54.0" ry="2.1999999999999886" fill="#cecece" stroke="#9a9a9a" stroke-width="0.7"/>
<path d="M364.4,269.8 V280.9 Q364.4,283.29999999999995 370.4,283.59999999999997 Q419.65,284.7 468.9,283.59999999999997 Q474.9,283.29999999999995 474.9,280.9 V269.8 Z" fill="url(#dsk)" stroke="#a4a4a4" stroke-width="0.5"/>
<path d="M364.4,269.8 V280.9 Q364.4,283.29999999999995 370.4,283.59999999999997 Q419.65,284.7 468.9,283.59999999999997 Q474.9,283.29999999999995 474.9,280.9 V269.8 Z" fill="url(#dskh)"/>
<ellipse cx="419.65" cy="269.8" rx="55.25" ry="2.5" fill="#cecece" stroke="#9a9a9a" stroke-width="0.7"/>
<path d="M380,270.2 Q392,266.6 418,266.9 Q446,267.2 459,269.2 Q452,271.9 420,272.2 Q392,272.3 380,270.2 Z" fill="#7fd6f6"/>
<circle cx="446.2" cy="267.9" r="0.3" fill="#3aa8e0"/>
<circle cx="411.6" cy="268.9" r="0.3" fill="#3aa8e0"/>
<circle cx="409.9" cy="268.0" r="0.3" fill="#3aa8e0"/>
<circle cx="397.3" cy="268.4" r="0.3" fill="#3aa8e0"/>
<circle cx="425.2" cy="268.5" r="0.3" fill="#3aa8e0"/>
<circle cx="417.2" cy="268.8" r="0.3" fill="#3aa8e0"/>
<circle cx="387.2" cy="268.9" r="0.3" fill="#3aa8e0"/>
<circle cx="433.1" cy="269.5" r="0.3" fill="#3aa8e0"/>
<circle cx="433.1" cy="268.2" r="0.3" fill="#3aa8e0"/>
<circle cx="445.0" cy="270.6" r="0.3" fill="#3aa8e0"/>
<circle cx="389.7" cy="269.2" r="0.3" fill="#3aa8e0"/>
<circle cx="429.4" cy="271.2" r="0.3" fill="#3aa8e0"/>
<circle cx="429.6" cy="271.4" r="0.3" fill="#3aa8e0"/>
<circle cx="397.2" cy="269.6" r="0.3" fill="#3aa8e0"/>
<circle cx="389.3" cy="269.6" r="0.3" fill="#3aa8e0"/>
<circle cx="384.1" cy="267.6" r="0.3" fill="#3aa8e0"/>
<circle cx="394.0" cy="269.0" r="0.3" fill="#3aa8e0"/>
<circle cx="407.5" cy="271.6" r="0.3" fill="#3aa8e0"/>
<circle cx="391.6" cy="268.4" r="0.3" fill="#3aa8e0"/>
<circle cx="444.1" cy="270.7" r="0.3" fill="#3aa8e0"/>
<circle cx="433.0" cy="267.7" r="0.3" fill="#3aa8e0"/>
<circle cx="394.5" cy="270.8" r="0.3" fill="#3aa8e0"/>
<circle cx="388.7" cy="270.0" r="0.3" fill="#3aa8e0"/>
<circle cx="407.9" cy="269.1" r="0.3" fill="#3aa8e0"/>
<circle cx="419.8" cy="270.8" r="0.3" fill="#3aa8e0"/>
<circle cx="454.9" cy="270.9" r="0.3" fill="#3aa8e0"/>
<circle cx="430.5" cy="271.0" r="0.3" fill="#3aa8e0"/>
<circle cx="392.4" cy="269.4" r="0.3" fill="#3aa8e0"/>
<circle cx="453.7" cy="269.1" r="0.3" fill="#3aa8e0"/>
<circle cx="391.2" cy="270.2" r="0.3" fill="#3aa8e0"/>
<circle cx="400.4" cy="271.3" r="0.3" fill="#3aa8e0"/>
<circle cx="402.9" cy="270.4" r="0.3" fill="#3aa8e0"/>
<circle cx="444.4" cy="267.9" r="0.3" fill="#3aa8e0"/>
<circle cx="453.2" cy="269.4" r="0.3" fill="#3aa8e0"/>
<circle cx="422.4" cy="269.2" r="0.3" fill="#3aa8e0"/>
<circle cx="385.1" cy="271.3" r="0.3" fill="#3aa8e0"/>
<circle cx="395.6" cy="269.5" r="0.3" fill="#3aa8e0"/>
<circle cx="411.2" cy="269.5" r="0.3" fill="#3aa8e0"/>
<circle cx="420.7" cy="271.6" r="0.3" fill="#3aa8e0"/>
<circle cx="394.9" cy="269.2" r="0.3" fill="#3aa8e0"/>
<circle cx="445.3" cy="270.6" r="0.3" fill="#3aa8e0"/>
<circle cx="442.5" cy="269.5" r="0.3" fill="#3aa8e0"/>
<circle cx="413.4" cy="268.9" r="0.3" fill="#3aa8e0"/>
<circle cx="408.1" cy="268.0" r="0.3" fill="#3aa8e0"/>
<circle cx="439.9" cy="268.8" r="0.3" fill="#3aa8e0"/>
<circle cx="410.6" cy="268.6" r="0.3" fill="#3aa8e0"/>
<circle cx="434.0" cy="268.8" r="0.3" fill="#3aa8e0"/>
<circle cx="416.9" cy="268.7" r="0.3" fill="#3aa8e0"/>
<circle cx="440.7" cy="268.8" r="0.3" fill="#3aa8e0"/>
<circle cx="424.7" cy="269.7" r="0.3" fill="#3aa8e0"/>
<circle cx="385.6" cy="271.5" r="0.3" fill="#3aa8e0"/>
<circle cx="445.0" cy="270.6" r="0.3" fill="#3aa8e0"/>
<circle cx="396.0" cy="271.0" r="0.3" fill="#3aa8e0"/>
<circle cx="452.8" cy="271.1" r="0.3" fill="#3aa8e0"/>
<circle cx="428.8" cy="270.9" r="0.3" fill="#3aa8e0"/>
<circle cx="402.7" cy="270.6" r="0.3" fill="#3aa8e0"/>
<circle cx="407.5" cy="269.0" r="0.3" fill="#3aa8e0"/>
<circle cx="442.4" cy="268.0" r="0.3" fill="#3aa8e0"/>
<circle cx="386.6" cy="270.3" r="0.3" fill="#3aa8e0"/>
<circle cx="445.8" cy="269.9" r="0.3" fill="#3aa8e0"/>
<circle cx="426.7" cy="267.9" r="0.3" fill="#3aa8e0"/>
<circle cx="421.2" cy="271.4" r="0.3" fill="#3aa8e0"/>
<circle cx="417.2" cy="269.8" r="0.3" fill="#3aa8e0"/>
<circle cx="400.5" cy="268.2" r="0.3" fill="#3aa8e0"/>
<circle cx="447.8" cy="268.4" r="0.3" fill="#3aa8e0"/>
<circle cx="451.7" cy="271.2" r="0.3" fill="#3aa8e0"/>
<circle cx="391.0" cy="270.9" r="0.3" fill="#3aa8e0"/>
<circle cx="386.3" cy="271.3" r="0.3" fill="#3aa8e0"/>
<circle cx="442.6" cy="267.6" r="0.3" fill="#3aa8e0"/>
<circle cx="436.1" cy="269.3" r="0.3" fill="#3aa8e0"/>
<circle cx="395.9" cy="269.3" r="0.3" fill="#3aa8e0"/>
<circle cx="413.9" cy="271.2" r="0.3" fill="#3aa8e0"/>
<circle cx="422.3" cy="271.2" r="0.3" fill="#3aa8e0"/>
<circle cx="425.8" cy="269.2" r="0.3" fill="#3aa8e0"/>
<circle cx="397.8" cy="270.6" r="0.3" fill="#3aa8e0"/>
<circle cx="426.0" cy="267.7" r="0.3" fill="#3aa8e0"/>
<circle cx="399.8" cy="269.3" r="0.3" fill="#3aa8e0"/>
<circle cx="400.5" cy="267.6" r="0.3" fill="#3aa8e0"/>
<circle cx="454.4" cy="270.6" r="0.3" fill="#3aa8e0"/>
<circle cx="433.1" cy="269.9" r="0.3" fill="#3aa8e0"/>
<circle cx="428.9" cy="268.4" r="0.3" fill="#3aa8e0"/>
<circle cx="408.2" cy="269.5" r="0.3" fill="#3aa8e0"/>
<circle cx="445.6" cy="268.8" r="0.3" fill="#3aa8e0"/>
<circle cx="437.2" cy="267.9" r="0.3" fill="#3aa8e0"/>
<circle cx="432.5" cy="267.8" r="0.3" fill="#3aa8e0"/>
<circle cx="415.6" cy="268.0" r="0.3" fill="#3aa8e0"/>
<circle cx="406.9" cy="271.2" r="0.3" fill="#3aa8e0"/>
<circle cx="437.8" cy="271.4" r="0.3" fill="#3aa8e0"/>
<circle cx="436.2" cy="269.5" r="0.3" fill="#3aa8e0"/>
<circle cx="400.5" cy="270.9" r="0.3" fill="#3aa8e0"/>
<path d="M224.4,208.0 C227.488,217.13 241.76999999999998,224.6 263,224.6 C284.23,224.6 298.512,217.13 301.6,208.0" fill="#fff" stroke="#6b93c8" stroke-width="0.8"/>
<ellipse cx="263" cy="208.0" rx="38.6" ry="5.400000000000006" fill="#eeebda" stroke="#6b93c8" stroke-width="0.9"/>
<path d="M378.1,211.60000000000002 C381.212,221.335 395.605,229.3 417,229.3 C438.395,229.3 452.788,221.335 455.9,211.60000000000002" fill="#fff" stroke="#6b93c8" stroke-width="0.8"/>
<ellipse cx="417" cy="211.60000000000002" rx="38.9" ry="5.799999999999997" fill="#eeebda" stroke="#6b93c8" stroke-width="0.9"/>
<path d="M259.75,200.0 H265.65 V203.528 H268.25 L262.7,208.4 L257.15,203.528 H259.75 Z" fill="#2f76c2"/>
<path d="M414.8,197.6 H421.2 V203.06 H424.0 L418.0,210.6 L412.0,203.06 H414.8 Z" fill="#2f76c2"/>
<text x="259.2" y="198.0" font-family="'Liberation Sans', sans-serif" font-size="5" font-weight="bold" fill="#222" text-anchor="start" font-style="normal" stroke="#222" stroke-width="0.12" textLength="8.6" lengthAdjust="spacingAndGlyphs" >Load</text>
<text x="413.7" y="195.6" font-family="'Liberation Sans', sans-serif" font-size="5" font-weight="bold" fill="#222" text-anchor="start" font-style="normal" stroke="#222" stroke-width="0.12" textLength="8.8" lengthAdjust="spacingAndGlyphs" >Load</text>
<text x="255.5" y="221.7" font-family="'Liberation Sans', sans-serif" font-size="5" font-weight="bold" fill="#333" text-anchor="start" font-style="normal" stroke="#333" stroke-width="0.12" textLength="16.3" lengthAdjust="spacingAndGlyphs" >Steel ball</text>
<text x="410.8" y="225.6" font-family="'Liberation Sans', sans-serif" font-size="5" font-weight="bold" fill="#333" text-anchor="start" font-style="normal" stroke="#333" stroke-width="0.12" textLength="16.3" lengthAdjust="spacingAndGlyphs" >Steel ball</text>
<text x="242.8" y="233.4" font-family="'Liberation Sans', sans-serif" font-size="5.2" font-weight="bold" fill="#222" text-anchor="start" font-style="normal" stroke="#222" stroke-width="0.12" textLength="45.2" lengthAdjust="spacingAndGlyphs" >Mixed absorbed layers</text>
<text x="255.6" y="283.2" font-family="'Liberation Sans', sans-serif" font-size="5" font-weight="bold" fill="#333" text-anchor="start" font-style="normal" stroke="#333" stroke-width="0.12" textLength="16.3" lengthAdjust="spacingAndGlyphs" >Steel disc</text>
<text x="410.7" y="282.3" font-family="'Liberation Sans', sans-serif" font-size="5" font-weight="bold" fill="#333" text-anchor="start" font-style="normal" stroke="#333" stroke-width="0.12" textLength="16.3" lengthAdjust="spacingAndGlyphs" >Steel disc</text>
<path d="M235.30,236.80 Q236.50,237.25 235.30,237.70 Q234.10,238.15 235.30,238.60 Q236.50,239.05 235.30,239.50 Q234.10,239.95 235.30,240.40 Q236.50,240.85 235.30,241.30 Q234.10,241.75 235.30,242.20 Q236.50,242.65 235.30,243.10 Q234.10,243.55 235.30,244.00 Q236.50,244.45 235.30,244.90 Q234.10,245.35 235.30,245.80 Q236.50,246.25 235.30,246.70 Q234.10,247.15 235.30,247.60 Q236.50,248.05 235.30,248.50 Q234.10,248.95 235.30,249.40 Q236.50,249.85 235.30,250.30 Q234.10,250.75 235.30,251.20 Q236.50,251.65 235.30,252.10 Q234.10,252.55 235.30,253.00 Q236.50,253.45 235.30,253.90 Q234.10,254.35 235.30,254.80 Q236.50,255.25 235.30,255.70 Q234.10,256.15 235.30,256.60 Q236.50,257.05 235.30,257.50 Q234.10,257.95 235.30,258.40 Q236.50,258.85 235.30,259.30 Q234.10,259.75 235.30,260.20 Q236.50,260.65 235.30,261.10 Q234.10,261.55 235.30,262.00 Q236.50,262.45 235.30,262.90 Q234.10,263.35 235.30,263.80 Q236.50,264.25 235.30,264.70 Q234.10,265.15 235.30,265.60 Q236.50,266.05 235.30,266.50 Q234.10,266.95 235.30,267.40 Q236.50,267.85 235.30,268.30 Q234.10,268.65 235.30,269.00" fill="none" stroke="#404040" stroke-width="0.7"/>
<path d="M253.90,236.80 Q255.10,237.25 253.90,237.70 Q252.70,238.15 253.90,238.60 Q255.10,239.05 253.90,239.50 Q252.70,239.95 253.90,240.40 Q255.10,240.85 253.90,241.30 Q252.70,241.75 253.90,242.20 Q255.10,242.65 253.90,243.10 Q252.70,243.55 253.90,244.00 Q255.10,244.45 253.90,244.90 Q252.70,245.35 253.90,245.80 Q255.10,246.25 253.90,246.70 Q252.70,247.15 253.90,247.60 Q255.10,248.05 253.90,248.50 Q252.70,248.95 253.90,249.40 Q255.10,249.85 253.90,250.30 Q252.70,250.75 253.90,251.20 Q255.10,251.65 253.90,252.10 Q252.70,252.55 253.90,253.00 Q255.10,253.45 253.90,253.90 Q252.70,254.35 253.90,254.80 Q255.10,255.25 253.90,255.70 Q252.70,256.15 253.90,256.60 Q255.10,257.05 253.90,257.50 Q252.70,257.95 253.90,258.40 Q255.10,258.85 253.90,259.30 Q252.70,259.75 253.90,260.20 Q255.10,260.65 253.90,261.10 Q252.70,261.55 253.90,262.00 Q255.10,262.45 253.90,262.90 Q252.70,263.35 253.90,263.80 Q255.10,264.25 253.90,264.70 Q252.70,265.15 253.90,265.60 Q255.10,266.05 253.90,266.50 Q252.70,266.95 253.90,267.40 Q255.10,267.85 253.90,268.30 Q252.70,268.65 253.90,269.00" fill="none" stroke="#404040" stroke-width="0.7"/>
<path d="M272.80,236.80 Q274.00,237.25 272.80,237.70 Q271.60,238.15 272.80,238.60 Q274.00,239.05 272.80,239.50 Q271.60,239.95 272.80,240.40 Q274.00,240.85 272.80,241.30 Q271.60,241.75 272.80,242.20 Q274.00,242.65 272.80,243.10 Q271.60,243.55 272.80,244.00 Q274.00,244.45 272.80,244.90 Q271.60,245.35 272.80,245.80 Q274.00,246.25 272.80,246.70 Q271.60,247.15 272.80,247.60 Q274.00,248.05 272.80,248.50 Q271.60,248.95 272.80,249.40 Q274.00,249.85 272.80,250.30 Q271.60,250.75 272.80,251.20 Q274.00,251.65 272.80,252.10 Q271.60,252.55 272.80,253.00 Q274.00,253.45 272.80,253.90 Q271.60,254.35 272.80,254.80 Q274.00,255.25 272.80,255.70 Q271.60,256.15 272.80,256.60 Q274.00,257.05 272.80,257.50 Q271.60,257.95 272.80,258.40 Q274.00,258.85 272.80,259.30 Q271.60,259.75 272.80,260.20 Q274.00,260.65 272.80,261.10 Q271.60,261.55 272.80,262.00 Q274.00,262.45 272.80,262.90 Q271.60,263.35 272.80,263.80 Q274.00,264.25 272.80,264.70 Q271.60,265.15 272.80,265.60 Q274.00,266.05 272.80,266.50 Q271.60,266.95 272.80,267.40 Q274.00,267.85 272.80,268.30 Q271.60,268.65 272.80,269.00" fill="none" stroke="#404040" stroke-width="0.7"/>
<path d="M291.70,236.80 Q292.90,237.25 291.70,237.70 Q290.50,238.15 291.70,238.60 Q292.90,239.05 291.70,239.50 Q290.50,239.95 291.70,240.40 Q292.90,240.85 291.70,241.30 Q290.50,241.75 291.70,242.20 Q292.90,242.65 291.70,243.10 Q290.50,243.55 291.70,244.00 Q292.90,244.45 291.70,244.90 Q290.50,245.35 291.70,245.80 Q292.90,246.25 291.70,246.70 Q290.50,247.15 291.70,247.60 Q292.90,248.05 291.70,248.50 Q290.50,248.95 291.70,249.40 Q292.90,249.85 291.70,250.30 Q290.50,250.75 291.70,251.20 Q292.90,251.65 291.70,252.10 Q290.50,252.55 291.70,253.00 Q292.90,253.45 291.70,253.90 Q290.50,254.35 291.70,254.80 Q292.90,255.25 291.70,255.70 Q290.50,256.15 291.70,256.60 Q292.90,257.05 291.70,257.50 Q290.50,257.95 291.70,258.40 Q292.90,258.85 291.70,259.30 Q290.50,259.75 291.70,260.20 Q292.90,260.65 291.70,261.10 Q290.50,261.55 291.70,262.00 Q292.90,262.45 291.70,262.90 Q290.50,263.35 291.70,263.80 Q292.90,264.25 291.70,264.70 Q290.50,265.15 291.70,265.60 Q292.90,266.05 291.70,266.50 Q290.50,266.95 291.70,267.40 Q292.90,267.85 291.70,268.30 Q290.50,268.65 291.70,269.00" fill="none" stroke="#404040" stroke-width="0.7"/>
<path d="M244.00,256.00 Q245.20,256.50 244.00,257.00 Q242.80,257.50 244.00,258.00 Q245.20,258.50 244.00,259.00 Q242.80,259.50 244.00,260.00 Q245.20,260.50 244.00,261.00 Q242.80,261.50 244.00,262.00 Q245.20,262.50 244.00,263.00 Q242.80,263.50 244.00,264.00 Q245.20,264.50 244.00,265.00 Q242.80,265.50 244.00,266.00 Q245.20,266.50 244.00,267.00 Q242.80,267.50 244.00,268.00 Q245.20,268.50 244.00,269.00" fill="none" stroke="#22a894" stroke-width="0.65"/>
<path d="M263.20,256.00 Q264.40,256.50 263.20,257.00 Q262.00,257.50 263.20,258.00 Q264.40,258.50 263.20,259.00 Q262.00,259.50 263.20,260.00 Q264.40,260.50 263.20,261.00 Q262.00,261.50 263.20,262.00 Q264.40,262.50 263.20,263.00 Q262.00,263.50 263.20,264.00 Q264.40,264.50 263.20,265.00 Q262.00,265.50 263.20,266.00 Q264.40,266.50 263.20,267.00 Q262.00,267.50 263.20,268.00 Q264.40,268.50 263.20,269.00" fill="none" stroke="#22a894" stroke-width="0.65"/>
<path d="M282.10,256.00 Q283.30,256.50 282.10,257.00 Q280.90,257.50 282.10,258.00 Q283.30,258.50 282.10,259.00 Q280.90,259.50 282.10,260.00 Q283.30,260.50 282.10,261.00 Q280.90,261.50 282.10,262.00 Q283.30,262.50 282.10,263.00 Q280.90,263.50 282.10,264.00 Q283.30,264.50 282.10,265.00 Q280.90,265.50 282.10,266.00 Q283.30,266.50 282.10,267.00 Q280.90,267.50 282.10,268.00 Q283.30,268.50 282.10,269.00" fill="none" stroke="#22a894" stroke-width="0.65"/>
<circle cx="239.6" cy="264.9" r="2.05" fill="#d8001a"/>
<circle cx="239.6" cy="264.9" r="0.9" fill="#a00010" opacity="0.6"/>
<circle cx="248.6" cy="264.9" r="2.05" fill="#d8001a"/>
<circle cx="248.6" cy="264.9" r="0.9" fill="#a00010" opacity="0.6"/>
<circle cx="258.9" cy="264.9" r="2.05" fill="#d8001a"/>
<circle cx="258.9" cy="264.9" r="0.9" fill="#a00010" opacity="0.6"/>
<circle cx="267.9" cy="264.9" r="2.05" fill="#d8001a"/>
<circle cx="267.9" cy="264.9" r="0.9" fill="#a00010" opacity="0.6"/>
<circle cx="277.8" cy="264.9" r="2.05" fill="#d8001a"/>
<circle cx="277.8" cy="264.9" r="0.9" fill="#a00010" opacity="0.6"/>
<circle cx="287" cy="264.9" r="2.05" fill="#d8001a"/>
<circle cx="287" cy="264.9" r="0.9" fill="#a00010" opacity="0.6"/>
<circle cx="235.3" cy="270.6" r="1.75" fill="#f8b800"/>
<circle cx="253.9" cy="270.6" r="1.75" fill="#f8b800"/>
<circle cx="272.8" cy="270.6" r="1.75" fill="#f8b800"/>
<circle cx="291.7" cy="270.6" r="1.75" fill="#f8b800"/>
<circle cx="244" cy="270.0" r="1.0" fill="#1a5fa8"/>
<circle cx="263.2" cy="270.0" r="1.0" fill="#1a5fa8"/>
<circle cx="282.1" cy="270.0" r="1.0" fill="#1a5fa8"/>
<path d="M389.60,233.20 Q390.80,233.65 389.60,234.10 Q388.40,234.55 389.60,235.00 Q390.80,235.45 389.60,235.90 Q388.40,236.35 389.60,236.80 Q390.80,237.25 389.60,237.70 Q388.40,238.15 389.60,238.60 Q390.80,239.05 389.60,239.50 Q388.40,239.95 389.60,240.40 Q390.80,240.85 389.60,241.30 Q388.40,241.75 389.60,242.20 Q390.80,242.65 389.60,243.10 Q388.40,243.55 389.60,244.00 Q390.80,244.45 389.60,244.90 Q388.40,245.35 389.60,245.80 Q390.80,246.25 389.60,246.70 Q388.40,247.15 389.60,247.60 Q390.80,248.05 389.60,248.50 Q388.40,248.95 389.60,249.40 Q390.80,249.85 389.60,250.30 Q388.40,250.75 389.60,251.20 Q390.80,251.65 389.60,252.10 Q388.40,252.55 389.60,253.00 Q390.80,253.45 389.60,253.90 Q388.40,254.35 389.60,254.80 Q390.80,255.25 389.60,255.70 Q388.40,256.15 389.60,256.60 Q390.80,257.05 389.60,257.50 Q388.40,257.95 389.60,258.40 Q390.80,258.85 389.60,259.30 Q388.40,259.75 389.60,260.20 Q390.80,260.65 389.60,261.10 Q388.40,261.55 389.60,262.00 Q390.80,262.45 389.60,262.90 Q388.40,263.35 389.60,263.80 Q390.80,264.25 389.60,264.70 Q388.40,265.15 389.60,265.60 Q390.80,266.05 389.60,266.50 Q388.40,266.75 389.60,267.00" fill="none" stroke="#404040" stroke-width="0.7"/>
<path d="M408.30,233.20 Q409.50,233.65 408.30,234.10 Q407.10,234.55 408.30,235.00 Q409.50,235.45 408.30,235.90 Q407.10,236.35 408.30,236.80 Q409.50,237.25 408.30,237.70 Q407.10,238.15 408.30,238.60 Q409.50,239.05 408.30,239.50 Q407.10,239.95 408.30,240.40 Q409.50,240.85 408.30,241.30 Q407.10,241.75 408.30,242.20 Q409.50,242.65 408.30,243.10 Q407.10,243.55 408.30,244.00 Q409.50,244.45 408.30,244.90 Q407.10,245.35 408.30,245.80 Q409.50,246.25 408.30,246.70 Q407.10,247.15 408.30,247.60 Q409.50,248.05 408.30,248.50 Q407.10,248.95 408.30,249.40 Q409.50,249.85 408.30,250.30 Q407.10,250.75 408.30,251.20 Q409.50,251.65 408.30,252.10 Q407.10,252.55 408.30,253.00 Q409.50,253.45 408.30,253.90 Q407.10,254.35 408.30,254.80 Q409.50,255.25 408.30,255.70 Q407.10,256.15 408.30,256.60 Q409.50,257.05 408.30,257.50 Q407.10,257.95 408.30,258.40 Q409.50,258.85 408.30,259.30 Q407.10,259.75 408.30,260.20 Q409.50,260.65 408.30,261.10 Q407.10,261.55 408.30,262.00 Q409.50,262.45 408.30,262.90 Q407.10,263.35 408.30,263.80 Q409.50,264.25 408.30,264.70 Q407.10,265.15 408.30,265.60 Q409.50,266.05 408.30,266.50 Q407.10,266.75 408.30,267.00" fill="none" stroke="#404040" stroke-width="0.7"/>
<path d="M427.20,233.20 Q428.40,233.65 427.20,234.10 Q426.00,234.55 427.20,235.00 Q428.40,235.45 427.20,235.90 Q426.00,236.35 427.20,236.80 Q428.40,237.25 427.20,237.70 Q426.00,238.15 427.20,238.60 Q428.40,239.05 427.20,239.50 Q426.00,239.95 427.20,240.40 Q428.40,240.85 427.20,241.30 Q426.00,241.75 427.20,242.20 Q428.40,242.65 427.20,243.10 Q426.00,243.55 427.20,244.00 Q428.40,244.45 427.20,244.90 Q426.00,245.35 427.20,245.80 Q428.40,246.25 427.20,246.70 Q426.00,247.15 427.20,247.60 Q428.40,248.05 427.20,248.50 Q426.00,248.95 427.20,249.40 Q428.40,249.85 427.20,250.30 Q426.00,250.75 427.20,251.20 Q428.40,251.65 427.20,252.10 Q426.00,252.55 427.20,253.00 Q428.40,253.45 427.20,253.90 Q426.00,254.35 427.20,254.80 Q428.40,255.25 427.20,255.70 Q426.00,256.15 427.20,256.60 Q428.40,257.05 427.20,257.50 Q426.00,257.95 427.20,258.40 Q428.40,258.85 427.20,259.30 Q426.00,259.75 427.20,260.20 Q428.40,260.65 427.20,261.10 Q426.00,261.55 427.20,262.00 Q428.40,262.45 427.20,262.90 Q426.00,263.35 427.20,263.80 Q428.40,264.25 427.20,264.70 Q426.00,265.15 427.20,265.60 Q428.40,266.05 427.20,266.50 Q426.00,266.75 427.20,267.00" fill="none" stroke="#404040" stroke-width="0.7"/>
<path d="M446.30,233.20 Q447.50,233.65 446.30,234.10 Q445.10,234.55 446.30,235.00 Q447.50,235.45 446.30,235.90 Q445.10,236.35 446.30,236.80 Q447.50,237.25 446.30,237.70 Q445.10,238.15 446.30,238.60 Q447.50,239.05 446.30,239.50 Q445.10,239.95 446.30,240.40 Q447.50,240.85 446.30,241.30 Q445.10,241.75 446.30,242.20 Q447.50,242.65 446.30,243.10 Q445.10,243.55 446.30,244.00 Q447.50,244.45 446.30,244.90 Q445.10,245.35 446.30,245.80 Q447.50,246.25 446.30,246.70 Q445.10,247.15 446.30,247.60 Q447.50,248.05 446.30,248.50 Q445.10,248.95 446.30,249.40 Q447.50,249.85 446.30,250.30 Q445.10,250.75 446.30,251.20 Q447.50,251.65 446.30,252.10 Q445.10,252.55 446.30,253.00 Q447.50,253.45 446.30,253.90 Q445.10,254.35 446.30,254.80 Q447.50,255.25 446.30,255.70 Q445.10,256.15 446.30,256.60 Q447.50,257.05 446.30,257.50 Q445.10,257.95 446.30,258.40 Q447.50,258.85 446.30,259.30 Q445.10,259.75 446.30,260.20 Q447.50,260.65 446.30,261.10 Q445.10,261.55 446.30,262.00 Q447.50,262.45 446.30,262.90 Q445.10,263.35 446.30,263.80 Q447.50,264.25 446.30,264.70 Q445.10,265.15 446.30,265.60 Q447.50,266.05 446.30,266.50 Q445.10,266.75 446.30,267.00" fill="none" stroke="#404040" stroke-width="0.7"/>
<path d="M398.70,252.20 Q399.90,252.70 398.70,253.20 Q397.50,253.70 398.70,254.20 Q399.90,254.70 398.70,255.20 Q397.50,255.70 398.70,256.20 Q399.90,256.70 398.70,257.20 Q397.50,257.70 398.70,258.20 Q399.90,258.70 398.70,259.20 Q397.50,259.70 398.70,260.20 Q399.90,260.70 398.70,261.20 Q397.50,261.70 398.70,262.20 Q399.90,262.70 398.70,263.20 Q397.50,263.70 398.70,264.20 Q399.90,264.70 398.70,265.20 Q397.50,265.70 398.70,266.20 Q399.90,266.60 398.70,267.00" fill="none" stroke="#22a894" stroke-width="0.65"/>
<path d="M417.90,252.20 Q419.10,252.70 417.90,253.20 Q416.70,253.70 417.90,254.20 Q419.10,254.70 417.90,255.20 Q416.70,255.70 417.90,256.20 Q419.10,256.70 417.90,257.20 Q416.70,257.70 417.90,258.20 Q419.10,258.70 417.90,259.20 Q416.70,259.70 417.90,260.20 Q419.10,260.70 417.90,261.20 Q416.70,261.70 417.90,262.20 Q419.10,262.70 417.90,263.20 Q416.70,263.70 417.90,264.20 Q419.10,264.70 417.90,265.20 Q416.70,265.70 417.90,266.20 Q419.10,266.60 417.90,267.00" fill="none" stroke="#22a894" stroke-width="0.65"/>
<path d="M437.20,252.20 Q438.40,252.70 437.20,253.20 Q436.00,253.70 437.20,254.20 Q438.40,254.70 437.20,255.20 Q436.00,255.70 437.20,256.20 Q438.40,256.70 437.20,257.20 Q436.00,257.70 437.20,258.20 Q438.40,258.70 437.20,259.20 Q436.00,259.70 437.20,260.20 Q438.40,260.70 437.20,261.20 Q436.00,261.70 437.20,262.20 Q438.40,262.70 437.20,263.20 Q436.00,263.70 437.20,264.20 Q438.40,264.70 437.20,265.20 Q436.00,265.70 437.20,266.20 Q438.40,266.60 437.20,267.00" fill="none" stroke="#22a894" stroke-width="0.65"/>
<circle cx="394.3" cy="262.7" r="2.05" fill="#d8001a"/>
<circle cx="394.3" cy="262.7" r="0.9" fill="#a00010" opacity="0.6"/>
<circle cx="403.3" cy="262.7" r="2.05" fill="#d8001a"/>
<circle cx="403.3" cy="262.7" r="0.9" fill="#a00010" opacity="0.6"/>
<circle cx="413.4" cy="262.7" r="2.05" fill="#d8001a"/>
<circle cx="413.4" cy="262.7" r="0.9" fill="#a00010" opacity="0.6"/>
<circle cx="422.5" cy="262.7" r="2.05" fill="#d8001a"/>
<circle cx="422.5" cy="262.7" r="0.9" fill="#a00010" opacity="0.6"/>
<circle cx="432.4" cy="262.7" r="2.05" fill="#d8001a"/>
<circle cx="432.4" cy="262.7" r="0.9" fill="#a00010" opacity="0.6"/>
<circle cx="441.4" cy="262.7" r="2.05" fill="#d8001a"/>
<circle cx="441.4" cy="262.7" r="0.9" fill="#a00010" opacity="0.6"/>
<circle cx="389.6" cy="268.6" r="1.75" fill="#f8b800"/>
<circle cx="408.3" cy="268.6" r="1.75" fill="#f8b800"/>
<circle cx="427.2" cy="268.6" r="1.75" fill="#f8b800"/>
<circle cx="446.3" cy="268.6" r="1.75" fill="#f8b800"/>
<circle cx="398.7" cy="268.0" r="1.0" fill="#1a5fa8"/>
<circle cx="417.9" cy="268.0" r="1.0" fill="#1a5fa8"/>
<circle cx="437.2" cy="268.0" r="1.0" fill="#1a5fa8"/>
<path d="M311.4,232.1 H364.2 V226.2 L375.6,239.1 L364.2,251.8 V245.8 H311.4 L317.2,239.1 Z" fill="#f7913f"/>
<text x="328" y="226.6" font-family="'Liberation Sans', sans-serif" font-size="5.8" font-weight="normal" fill="#222" text-anchor="start" font-style="normal" stroke="#222" stroke-width="0.15" textLength="22.7" lengthAdjust="spacingAndGlyphs" >Triboheat</text>
<text x="319" y="257" font-family="'Liberation Sans', sans-serif" font-size="5.8" font-weight="normal" fill="#222" text-anchor="start" font-style="normal" stroke="#222" stroke-width="0.15" textLength="46" lengthAdjust="spacingAndGlyphs" >High shearing force</text>
<text x="462.8" y="240.1" font-family="'Liberation Sans', sans-serif" font-size="5.2" font-weight="bold" fill="#222" text-anchor="start" font-style="italic" stroke="#222" stroke-width="0.12" textLength="44.9" lengthAdjust="spacingAndGlyphs" >Mixed absorbed layers</text>
<path d="M516.6,234 Q518.6,234 518.6,236 V244.6 Q518.6,246 520.6,246.2 Q518.6,246.4 518.6,247.8 V258 Q518.6,260 516.6,260" fill="none" stroke="#333" stroke-width="0.55"/>
<text x="521.5" y="247.3" font-family="'Liberation Sans', sans-serif" font-size="5.4" font-weight="bold" fill="#222" text-anchor="start" font-style="normal" stroke="#222" stroke-width="0.12" textLength="24.2" lengthAdjust="spacingAndGlyphs" >Bound films</text>
<text x="452.5" y="259.5" font-family="'Liberation Sans', sans-serif" font-size="5.2" font-weight="bold" fill="#222" stroke="#222" stroke-width="0.12" textLength="62.8" lengthAdjust="spacingAndGlyphs">Complex tribofilms (Fe<tspan font-size="3.4" dy="1">3</tspan><tspan dy="-1">O</tspan><tspan font-size="3.4" dy="1">4</tspan><tspan dy="-1">, FeS)</tspan></text>
<path d="M466.8,262 L451.8,269.1" stroke="#222" stroke-width="0.7"/><circle cx="466.8" cy="262" r="0.9" fill="#222"/>
<path d="M290.40,309.00 Q290.80,309.80 291.20,309.00 Q291.60,308.20 292.00,309.00 Q292.40,309.80 292.80,309.00 Q293.20,308.20 293.60,309.00 Q294.00,309.80 294.40,309.00 Q294.80,308.20 295.20,309.00 Q295.60,309.80 296.00,309.00 Q296.40,308.20 296.80,309.00 Q297.20,309.80 297.60,309.00 Q298.00,308.20 298.40,309.00 Q298.80,309.80 299.20,309.00 Q299.60,308.20 300.00,309.00 Q300.40,309.80 300.80,309.00 Q301.20,308.20 301.60,309.00 Q302.00,309.80 302.40,309.00 Q302.80,308.20 303.20,309.00 Q303.60,309.80 304.00,309.00 Q304.40,308.20 304.80,309.00 Q305.20,309.80 305.60,309.00 Q306.00,308.20 306.40,309.00 Q306.80,309.80 307.20,309.00 Q307.60,308.20 308.00,309.00 Q308.40,309.80 308.80,309.00 Q309.20,308.20 309.60,309.00 Q310.00,309.80 310.40,309.00 Q310.80,308.20 311.20,309.00 Q311.60,309.80 312.00,309.00 Q312.40,308.20 312.80,309.00 Q313.20,309.80 313.60,309.00 Q314.00,308.20 314.40,309.00 Q314.80,309.80 315.20,309.00 Q315.60,308.20 316.00,309.00 Q316.40,309.80 316.80,309.00 Q317.20,308.20 317.60,309.00 Q318.00,309.80 318.40,309.00 Q318.80,308.20 319.20,309.00 Q319.60,309.80 320.00,309.00 Q320.40,308.20 320.80,309.00 Q321.20,309.80 321.60,309.00 Q322.00,308.20 322.40,309.00 Q322.50,309.80 322.60,309.00" fill="none" stroke="#5a5a5a" stroke-width="0.55"/>
<circle cx="324.4" cy="309" r="2.1" fill="#f8b800"/>
<path d="M374.30,309.00 Q374.80,309.90 375.30,309.00 Q375.80,308.10 376.30,309.00 Q376.80,309.90 377.30,309.00 Q377.80,308.10 378.30,309.00 Q378.80,309.90 379.30,309.00 Q379.80,308.10 380.30,309.00 Q380.80,309.90 381.30,309.00 Q381.80,308.10 382.30,309.00 Q382.80,309.90 383.30,309.00 Q383.80,308.10 384.30,309.00 Q384.80,309.90 385.30,309.00 Q385.80,308.10 386.30,309.00 Q386.80,309.90 387.30,309.00 Q387.80,308.10 388.30,309.00 Q388.35,309.90 388.40,309.00" fill="none" stroke="#2aae9c" stroke-width="0.6"/>
<circle cx="389.1" cy="309" r="1.15" fill="#1a5fa8"/>
<circle cx="440" cy="307.7" r="2.1" fill="#d8001a"/>
<text x="278.8" y="324.1" font-family="'Liberation Sans', sans-serif" font-size="7" font-weight="bold" fill="#222" text-anchor="start" font-style="normal" stroke="#222" stroke-width="0.18" textLength="56.7" lengthAdjust="spacingAndGlyphs" >Ricinoleic acid anion</text>
<text x="367.2" y="324.1" font-family="'Liberation Sans', sans-serif" font-size="7" font-weight="bold" fill="#222" text-anchor="start" font-style="normal" stroke="#222" stroke-width="0.18" textLength="30" lengthAdjust="spacingAndGlyphs" >MBT anion</text>
<text x="426.5" y="324.1" font-family="'Liberation Sans', sans-serif" font-size="7" font-weight="bold" fill="#222" text-anchor="start" font-style="normal" stroke="#222" stroke-width="0.18" textLength="40" lengthAdjust="spacingAndGlyphs" >Choline cation</text></svg></body></html>
